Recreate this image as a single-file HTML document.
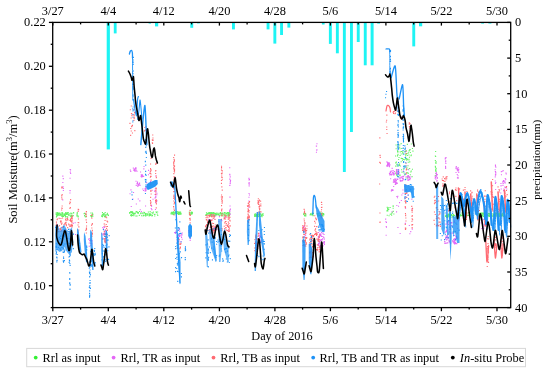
<!DOCTYPE html><html><head><meta charset="utf-8"><style>html,body{margin:0;padding:0;background:#fff;}svg{display:block;filter:blur(0.3px);}</style></head><body><svg width="550" height="370" viewBox="0 0 550 370">
<rect width="550" height="370" fill="#fff"/>
<rect x="106.7" y="22.4" width="3.2" height="127.0" fill="#1ef4f4"/>
<rect x="113.8" y="22.4" width="2.8" height="11.0" fill="#1ef4f4"/>
<rect x="148.6" y="22.4" width="2.4" height="1.2" fill="#1ef4f4"/>
<rect x="155.0" y="22.4" width="3.2" height="4.0" fill="#1ef4f4"/>
<rect x="190.3" y="22.4" width="2.9" height="5.4" fill="#1ef4f4"/>
<rect x="197.0" y="22.4" width="2.8" height="1.0" fill="#1ef4f4"/>
<rect x="232.0" y="22.4" width="2.9" height="7.0" fill="#1ef4f4"/>
<rect x="266.6" y="22.4" width="2.9" height="7.0" fill="#1ef4f4"/>
<rect x="273.4" y="22.4" width="2.9" height="21.2" fill="#1ef4f4"/>
<rect x="280.1" y="22.4" width="2.9" height="12.6" fill="#1ef4f4"/>
<rect x="287.4" y="22.4" width="2.9" height="5.2" fill="#1ef4f4"/>
<rect x="321.9" y="22.4" width="2.7" height="2.1" fill="#1ef4f4"/>
<rect x="328.9" y="22.4" width="2.9" height="21.5" fill="#1ef4f4"/>
<rect x="335.9" y="22.4" width="2.9" height="30.9" fill="#1ef4f4"/>
<rect x="342.9" y="22.4" width="2.9" height="149.6" fill="#1ef4f4"/>
<rect x="350.0" y="22.4" width="2.9" height="109.6" fill="#1ef4f4"/>
<rect x="356.8" y="22.4" width="2.9" height="19.6" fill="#1ef4f4"/>
<rect x="363.8" y="22.4" width="2.9" height="42.9" fill="#1ef4f4"/>
<rect x="370.6" y="22.4" width="3.0" height="42.9" fill="#1ef4f4"/>
<rect x="377.2" y="22.4" width="2.8" height="1.2" fill="#1ef4f4"/>
<rect x="412.3" y="22.4" width="2.9" height="24.0" fill="#1ef4f4"/>
<rect x="419.0" y="22.4" width="3.2" height="3.9" fill="#1ef4f4"/>
<rect x="481.2" y="22.4" width="2.8" height="1.2" fill="#1ef4f4"/>
<rect x="488.4" y="22.4" width="3.0" height="1.2" fill="#1ef4f4"/>
<path fill="#3cf03c" fill-opacity="0.8" d="M61.3 212.5h1.1v1.1h-1.1zM67.2 212.1h1.1v1.1h-1.1zM65.1 213.6h1.1v1.1h-1.1zM56.5 214.2h1.1v1.1h-1.1zM56.2 213.9h1.1v1.1h-1.1zM56.8 212.2h1.1v1.1h-1.1zM63.1 215.8h1.1v1.1h-1.1zM57.7 212.9h1.1v1.1h-1.1zM66.8 216.3h1.1v1.1h-1.1zM65.9 213.7h1.1v1.1h-1.1zM73.1 212.0h1.1v1.1h-1.1zM71.0 213.2h1.1v1.1h-1.1zM58.1 212.4h1.1v1.1h-1.1zM61.1 215.7h1.1v1.1h-1.1zM58.8 214.6h1.1v1.1h-1.1zM67.0 213.6h1.1v1.1h-1.1zM65.4 212.1h1.1v1.1h-1.1zM56.6 212.8h1.1v1.1h-1.1zM67.7 213.9h1.1v1.1h-1.1zM61.2 214.6h1.1v1.1h-1.1zM63.7 213.2h1.1v1.1h-1.1zM69.8 215.2h1.1v1.1h-1.1zM59.9 214.6h1.1v1.1h-1.1zM65.0 216.0h1.1v1.1h-1.1zM68.6 213.2h1.1v1.1h-1.1zM73.1 212.4h1.1v1.1h-1.1zM63.0 215.4h1.1v1.1h-1.1zM58.2 214.1h1.1v1.1h-1.1zM56.2 215.0h1.1v1.1h-1.1zM69.3 214.6h1.1v1.1h-1.1zM71.3 213.3h1.1v1.1h-1.1zM68.0 214.7h1.1v1.1h-1.1zM65.9 214.0h1.1v1.1h-1.1zM70.6 216.3h1.1v1.1h-1.1zM64.0 215.0h1.1v1.1h-1.1zM56.6 215.2h1.1v1.1h-1.1zM67.1 216.6h1.1v1.1h-1.1zM70.3 213.2h1.1v1.1h-1.1zM62.4 215.0h1.1v1.1h-1.1zM55.9 214.0h1.1v1.1h-1.1zM58.5 212.4h1.1v1.1h-1.1zM56.6 215.5h1.1v1.1h-1.1zM57.8 213.0h1.1v1.1h-1.1zM62.5 216.0h1.1v1.1h-1.1zM57.0 214.0h1.1v1.1h-1.1zM65.4 216.0h1.1v1.1h-1.1zM70.2 215.9h1.1v1.1h-1.1zM60.5 213.8h1.1v1.1h-1.1zM62.0 216.0h1.1v1.1h-1.1zM72.7 212.5h1.1v1.1h-1.1zM58.7 212.9h1.1v1.1h-1.1zM59.7 214.1h1.1v1.1h-1.1zM66.1 213.1h1.1v1.1h-1.1zM55.6 213.8h1.1v1.1h-1.1zM62.1 214.5h1.1v1.1h-1.1zM72.7 215.1h1.1v1.1h-1.1zM64.8 214.8h1.1v1.1h-1.1zM67.7 212.1h1.1v1.1h-1.1zM71.7 215.5h1.1v1.1h-1.1zM71.2 215.6h1.1v1.1h-1.1zM62.6 213.7h1.1v1.1h-1.1zM57.4 214.8h1.1v1.1h-1.1zM56.6 212.1h1.1v1.1h-1.1zM59.3 212.6h1.1v1.1h-1.1zM61.6 212.1h1.1v1.1h-1.1zM55.5 212.5h1.1v1.1h-1.1zM57.3 213.5h1.1v1.1h-1.1zM56.0 216.0h1.1v1.1h-1.1zM66.6 212.5h1.1v1.1h-1.1zM60.0 213.5h1.1v1.1h-1.1zM62.1 212.4h1.1v1.1h-1.1zM70.8 216.6h1.1v1.1h-1.1zM63.9 214.1h1.1v1.1h-1.1zM57.0 212.3h1.1v1.1h-1.1zM61.7 213.1h1.1v1.1h-1.1zM70.4 212.6h1.1v1.1h-1.1zM55.9 216.4h1.1v1.1h-1.1zM65.0 212.5h1.1v1.1h-1.1zM65.3 211.9h1.1v1.1h-1.1zM65.0 216.5h1.1v1.1h-1.1zM71.0 215.1h1.1v1.1h-1.1zM76.5 213.6h1.1v1.1h-1.1zM76.3 215.5h1.1v1.1h-1.1zM77.1 215.5h1.1v1.1h-1.1zM76.7 212.9h1.1v1.1h-1.1zM77.6 216.5h1.1v1.1h-1.1zM77.7 215.7h1.1v1.1h-1.1zM77.6 215.4h1.1v1.1h-1.1zM76.5 214.3h1.1v1.1h-1.1zM76.7 211.9h1.1v1.1h-1.1zM83.6 213.1h1.1v1.1h-1.1zM84.0 215.1h1.1v1.1h-1.1zM85.4 213.9h1.1v1.1h-1.1zM85.4 216.5h1.1v1.1h-1.1zM85.4 213.6h1.1v1.1h-1.1zM83.9 212.9h1.1v1.1h-1.1zM83.9 212.8h1.1v1.1h-1.1zM84.7 216.1h1.1v1.1h-1.1zM85.2 214.1h1.1v1.1h-1.1zM91.6 215.6h1.1v1.1h-1.1zM90.2 215.0h1.1v1.1h-1.1zM92.3 215.6h1.1v1.1h-1.1zM91.9 214.1h1.1v1.1h-1.1zM90.4 215.6h1.1v1.1h-1.1zM90.8 215.6h1.1v1.1h-1.1zM92.4 213.7h1.1v1.1h-1.1zM91.0 216.3h1.1v1.1h-1.1zM91.8 212.6h1.1v1.1h-1.1zM90.3 212.5h1.1v1.1h-1.1zM92.3 215.7h1.1v1.1h-1.1zM102.0 215.8h1.1v1.1h-1.1zM107.9 215.0h1.1v1.1h-1.1zM103.5 214.4h1.1v1.1h-1.1zM101.9 211.9h1.1v1.1h-1.1zM107.8 214.9h1.1v1.1h-1.1zM104.7 216.3h1.1v1.1h-1.1zM104.0 216.0h1.1v1.1h-1.1zM106.8 212.8h1.1v1.1h-1.1zM102.8 213.2h1.1v1.1h-1.1zM102.7 214.6h1.1v1.1h-1.1zM102.8 213.8h1.1v1.1h-1.1zM101.9 216.2h1.1v1.1h-1.1zM103.5 214.0h1.1v1.1h-1.1zM105.1 216.1h1.1v1.1h-1.1zM103.9 216.2h1.1v1.1h-1.1zM104.5 214.4h1.1v1.1h-1.1zM104.7 211.9h1.1v1.1h-1.1zM104.1 212.7h1.1v1.1h-1.1zM101.0 215.6h1.1v1.1h-1.1zM102.2 214.1h1.1v1.1h-1.1zM106.1 214.5h1.1v1.1h-1.1zM103.3 214.3h1.1v1.1h-1.1zM104.9 215.6h1.1v1.1h-1.1zM101.7 214.5h1.1v1.1h-1.1zM102.7 213.1h1.1v1.1h-1.1zM106.4 214.2h1.1v1.1h-1.1zM104.9 215.4h1.1v1.1h-1.1zM107.4 213.9h1.1v1.1h-1.1zM105.3 214.2h1.1v1.1h-1.1zM104.6 215.1h1.1v1.1h-1.1zM104.2 214.4h1.1v1.1h-1.1zM142.6 215.3h1.1v1.1h-1.1zM148.9 215.0h1.1v1.1h-1.1zM155.9 212.0h1.1v1.1h-1.1zM144.9 215.3h1.1v1.1h-1.1zM152.9 211.5h1.1v1.1h-1.1zM132.5 212.9h1.1v1.1h-1.1zM131.1 212.0h1.1v1.1h-1.1zM131.1 214.0h1.1v1.1h-1.1zM151.3 215.1h1.1v1.1h-1.1zM133.4 214.2h1.1v1.1h-1.1zM147.8 211.5h1.1v1.1h-1.1zM154.2 215.4h1.1v1.1h-1.1zM135.3 215.4h1.1v1.1h-1.1zM140.4 213.1h1.1v1.1h-1.1zM157.2 214.8h1.1v1.1h-1.1zM133.6 212.9h1.1v1.1h-1.1zM143.7 212.4h1.1v1.1h-1.1zM134.6 212.3h1.1v1.1h-1.1zM149.6 210.9h1.1v1.1h-1.1zM144.8 212.9h1.1v1.1h-1.1zM129.5 212.4h1.1v1.1h-1.1zM146.8 213.3h1.1v1.1h-1.1zM130.8 215.5h1.1v1.1h-1.1zM151.5 215.5h1.1v1.1h-1.1zM132.0 212.1h1.1v1.1h-1.1zM130.1 214.5h1.1v1.1h-1.1zM136.7 211.4h1.1v1.1h-1.1zM141.0 215.2h1.1v1.1h-1.1zM152.3 212.0h1.1v1.1h-1.1zM133.3 215.2h1.1v1.1h-1.1zM145.3 214.2h1.1v1.1h-1.1zM131.5 211.1h1.1v1.1h-1.1zM148.6 212.8h1.1v1.1h-1.1zM131.1 215.3h1.1v1.1h-1.1zM147.1 214.6h1.1v1.1h-1.1zM131.4 214.9h1.1v1.1h-1.1zM130.9 214.9h1.1v1.1h-1.1zM141.9 212.4h1.1v1.1h-1.1zM144.8 215.2h1.1v1.1h-1.1zM136.6 211.4h1.1v1.1h-1.1zM144.0 211.9h1.1v1.1h-1.1zM132.1 211.6h1.1v1.1h-1.1zM130.4 211.8h1.1v1.1h-1.1zM137.9 212.3h1.1v1.1h-1.1zM150.6 212.2h1.1v1.1h-1.1zM143.3 211.7h1.1v1.1h-1.1zM138.9 210.9h1.1v1.1h-1.1zM136.1 210.9h1.1v1.1h-1.1zM149.9 213.4h1.1v1.1h-1.1zM134.4 213.1h1.1v1.1h-1.1zM155.6 211.3h1.1v1.1h-1.1zM152.3 212.9h1.1v1.1h-1.1zM143.1 214.8h1.1v1.1h-1.1zM140.2 213.2h1.1v1.1h-1.1zM148.6 215.5h1.1v1.1h-1.1zM138.8 214.8h1.1v1.1h-1.1zM149.1 213.9h1.1v1.1h-1.1zM140.5 212.5h1.1v1.1h-1.1zM130.6 211.4h1.1v1.1h-1.1zM131.0 214.4h1.1v1.1h-1.1zM136.3 211.6h1.1v1.1h-1.1zM131.4 214.8h1.1v1.1h-1.1zM153.8 214.0h1.1v1.1h-1.1zM137.0 212.0h1.1v1.1h-1.1zM137.4 213.0h1.1v1.1h-1.1zM133.5 212.9h1.1v1.1h-1.1zM136.5 215.4h1.1v1.1h-1.1zM156.7 213.4h1.1v1.1h-1.1zM136.0 215.4h1.1v1.1h-1.1zM137.8 212.5h1.1v1.1h-1.1zM129.0 212.6h1.1v1.1h-1.1zM142.5 213.2h1.1v1.1h-1.1zM134.7 213.2h1.1v1.1h-1.1zM129.1 212.1h1.1v1.1h-1.1zM131.6 212.7h1.1v1.1h-1.1zM130.2 210.9h1.1v1.1h-1.1zM137.7 211.9h1.1v1.1h-1.1zM145.7 213.3h1.1v1.1h-1.1zM150.4 214.0h1.1v1.1h-1.1zM149.4 215.0h1.1v1.1h-1.1zM140.1 212.4h1.1v1.1h-1.1zM157.1 211.5h1.1v1.1h-1.1zM149.6 213.9h1.1v1.1h-1.1zM130.2 214.8h1.1v1.1h-1.1zM154.4 213.8h1.1v1.1h-1.1zM149.9 214.7h1.1v1.1h-1.1zM133.0 213.3h1.1v1.1h-1.1zM143.4 214.8h1.1v1.1h-1.1zM151.9 214.8h1.1v1.1h-1.1zM145.6 215.1h1.1v1.1h-1.1zM148.5 214.1h1.1v1.1h-1.1zM135.6 210.9h1.1v1.1h-1.1zM132.8 212.5h1.1v1.1h-1.1zM132.0 214.8h1.1v1.1h-1.1zM144.9 213.8h1.1v1.1h-1.1zM176.8 213.0h1.1v1.1h-1.1zM175.4 211.0h1.1v1.1h-1.1zM178.5 213.2h1.1v1.1h-1.1zM175.5 212.6h1.1v1.1h-1.1zM177.1 211.2h1.1v1.1h-1.1zM177.9 211.8h1.1v1.1h-1.1zM171.2 211.8h1.1v1.1h-1.1zM177.8 211.6h1.1v1.1h-1.1zM177.9 213.9h1.1v1.1h-1.1zM175.4 212.1h1.1v1.1h-1.1zM175.3 213.1h1.1v1.1h-1.1zM178.2 212.9h1.1v1.1h-1.1zM176.9 211.2h1.1v1.1h-1.1zM172.0 211.8h1.1v1.1h-1.1zM177.9 211.9h1.1v1.1h-1.1zM176.2 211.0h1.1v1.1h-1.1zM171.1 211.8h1.1v1.1h-1.1zM177.2 213.1h1.1v1.1h-1.1zM177.3 211.9h1.1v1.1h-1.1zM175.7 212.4h1.1v1.1h-1.1zM175.2 211.4h1.1v1.1h-1.1zM179.4 211.6h1.1v1.1h-1.1zM180.3 213.8h1.1v1.1h-1.1zM170.7 212.4h1.1v1.1h-1.1zM178.7 213.9h1.1v1.1h-1.1zM175.0 211.8h1.1v1.1h-1.1zM172.6 213.8h1.1v1.1h-1.1zM172.6 212.7h1.1v1.1h-1.1zM171.9 212.6h1.1v1.1h-1.1zM180.0 211.4h1.1v1.1h-1.1zM178.7 212.5h1.1v1.1h-1.1zM179.4 213.1h1.1v1.1h-1.1zM172.8 213.7h1.1v1.1h-1.1zM175.4 211.1h1.1v1.1h-1.1zM170.5 212.5h1.1v1.1h-1.1zM175.0 211.9h1.1v1.1h-1.1zM171.9 212.0h1.1v1.1h-1.1zM173.7 213.5h1.1v1.1h-1.1zM170.5 213.3h1.1v1.1h-1.1zM178.9 211.4h1.1v1.1h-1.1zM179.8 213.1h1.1v1.1h-1.1zM179.5 211.9h1.1v1.1h-1.1zM174.2 212.2h1.1v1.1h-1.1zM180.5 212.8h1.1v1.1h-1.1zM174.1 212.3h1.1v1.1h-1.1zM173.3 211.1h1.1v1.1h-1.1zM171.5 213.5h1.1v1.1h-1.1zM173.4 213.8h1.1v1.1h-1.1zM173.0 211.8h1.1v1.1h-1.1zM175.6 211.6h1.1v1.1h-1.1zM189.2 213.9h1.1v1.1h-1.1zM191.5 213.5h1.1v1.1h-1.1zM190.3 213.8h1.1v1.1h-1.1zM191.7 212.9h1.1v1.1h-1.1zM190.7 211.6h1.1v1.1h-1.1zM190.8 212.6h1.1v1.1h-1.1zM190.9 213.1h1.1v1.1h-1.1zM188.8 211.6h1.1v1.1h-1.1zM191.7 211.8h1.1v1.1h-1.1zM189.6 212.4h1.1v1.1h-1.1zM188.8 213.3h1.1v1.1h-1.1zM191.9 212.2h1.1v1.1h-1.1zM221.4 213.1h1.1v1.1h-1.1zM218.9 213.4h1.1v1.1h-1.1zM209.2 212.6h1.1v1.1h-1.1zM210.2 215.2h1.1v1.1h-1.1zM217.4 212.8h1.1v1.1h-1.1zM227.7 215.5h1.1v1.1h-1.1zM216.2 212.5h1.1v1.1h-1.1zM209.8 212.3h1.1v1.1h-1.1zM213.5 212.3h1.1v1.1h-1.1zM211.0 212.9h1.1v1.1h-1.1zM219.2 215.1h1.1v1.1h-1.1zM223.7 213.4h1.1v1.1h-1.1zM215.3 213.8h1.1v1.1h-1.1zM214.4 213.2h1.1v1.1h-1.1zM206.6 213.0h1.1v1.1h-1.1zM229.2 212.4h1.1v1.1h-1.1zM217.6 214.2h1.1v1.1h-1.1zM226.6 212.8h1.1v1.1h-1.1zM211.8 212.9h1.1v1.1h-1.1zM215.0 213.6h1.1v1.1h-1.1zM228.8 215.0h1.1v1.1h-1.1zM226.8 212.1h1.1v1.1h-1.1zM205.8 214.5h1.1v1.1h-1.1zM227.4 213.7h1.1v1.1h-1.1zM219.7 212.0h1.1v1.1h-1.1zM214.8 215.2h1.1v1.1h-1.1zM225.6 215.0h1.1v1.1h-1.1zM229.3 212.9h1.1v1.1h-1.1zM207.7 212.5h1.1v1.1h-1.1zM218.1 214.4h1.1v1.1h-1.1zM228.5 214.5h1.1v1.1h-1.1zM221.2 214.7h1.1v1.1h-1.1zM216.4 213.9h1.1v1.1h-1.1zM206.0 214.7h1.1v1.1h-1.1zM210.8 215.2h1.1v1.1h-1.1zM221.1 213.1h1.1v1.1h-1.1zM208.2 212.9h1.1v1.1h-1.1zM220.9 214.4h1.1v1.1h-1.1zM207.8 212.2h1.1v1.1h-1.1zM218.1 214.0h1.1v1.1h-1.1zM214.7 212.8h1.1v1.1h-1.1zM220.0 212.0h1.1v1.1h-1.1zM212.5 213.6h1.1v1.1h-1.1zM229.0 214.3h1.1v1.1h-1.1zM227.1 213.7h1.1v1.1h-1.1zM210.9 212.9h1.1v1.1h-1.1zM229.0 214.5h1.1v1.1h-1.1zM212.7 212.1h1.1v1.1h-1.1zM217.5 214.4h1.1v1.1h-1.1zM215.5 212.9h1.1v1.1h-1.1zM221.7 215.2h1.1v1.1h-1.1zM210.7 212.1h1.1v1.1h-1.1zM213.5 213.5h1.1v1.1h-1.1zM222.1 212.7h1.1v1.1h-1.1zM224.9 214.6h1.1v1.1h-1.1zM217.6 212.7h1.1v1.1h-1.1zM229.2 213.1h1.1v1.1h-1.1zM225.5 212.8h1.1v1.1h-1.1zM210.5 214.7h1.1v1.1h-1.1zM212.4 215.3h1.1v1.1h-1.1zM217.4 212.7h1.1v1.1h-1.1zM210.6 213.5h1.1v1.1h-1.1zM221.6 215.3h1.1v1.1h-1.1zM208.7 213.4h1.1v1.1h-1.1zM210.3 215.4h1.1v1.1h-1.1zM208.5 212.2h1.1v1.1h-1.1zM206.5 213.4h1.1v1.1h-1.1zM227.5 215.1h1.1v1.1h-1.1zM223.3 215.5h1.1v1.1h-1.1zM228.3 213.2h1.1v1.1h-1.1zM209.6 215.3h1.1v1.1h-1.1zM223.7 212.1h1.1v1.1h-1.1zM221.6 213.3h1.1v1.1h-1.1zM214.3 213.2h1.1v1.1h-1.1zM209.2 212.0h1.1v1.1h-1.1zM212.0 213.2h1.1v1.1h-1.1zM228.9 212.4h1.1v1.1h-1.1zM229.1 212.7h1.1v1.1h-1.1zM213.9 214.9h1.1v1.1h-1.1zM225.6 213.5h1.1v1.1h-1.1zM206.2 213.7h1.1v1.1h-1.1zM214.3 215.2h1.1v1.1h-1.1zM209.8 213.3h1.1v1.1h-1.1zM227.4 212.1h1.1v1.1h-1.1zM215.3 214.8h1.1v1.1h-1.1zM224.2 212.1h1.1v1.1h-1.1zM205.9 212.2h1.1v1.1h-1.1zM228.0 212.9h1.1v1.1h-1.1zM223.7 215.1h1.1v1.1h-1.1zM213.5 213.0h1.1v1.1h-1.1zM228.9 214.2h1.1v1.1h-1.1zM211.6 214.5h1.1v1.1h-1.1zM212.9 213.0h1.1v1.1h-1.1zM205.1 214.6h1.1v1.1h-1.1zM227.9 214.2h1.1v1.1h-1.1zM228.6 212.1h1.1v1.1h-1.1zM210.8 213.7h1.1v1.1h-1.1zM228.9 215.3h1.1v1.1h-1.1zM214.7 212.9h1.1v1.1h-1.1zM215.7 213.7h1.1v1.1h-1.1zM228.2 212.6h1.1v1.1h-1.1zM225.1 214.6h1.1v1.1h-1.1zM225.6 214.7h1.1v1.1h-1.1zM220.2 213.1h1.1v1.1h-1.1zM213.0 213.3h1.1v1.1h-1.1zM224.6 212.3h1.1v1.1h-1.1zM209.9 214.6h1.1v1.1h-1.1zM211.2 212.2h1.1v1.1h-1.1zM205.8 213.9h1.1v1.1h-1.1zM213.1 215.4h1.1v1.1h-1.1zM227.1 215.5h1.1v1.1h-1.1zM211.6 212.3h1.1v1.1h-1.1zM207.4 213.7h1.1v1.1h-1.1zM222.7 213.6h1.1v1.1h-1.1zM210.9 213.5h1.1v1.1h-1.1zM220.5 214.4h1.1v1.1h-1.1zM223.7 215.0h1.1v1.1h-1.1zM221.6 212.4h1.1v1.1h-1.1zM226.0 213.0h1.1v1.1h-1.1zM219.2 213.3h1.1v1.1h-1.1zM260.4 213.6h1.1v1.1h-1.1zM256.2 213.8h1.1v1.1h-1.1zM255.3 215.8h1.1v1.1h-1.1zM259.0 214.0h1.1v1.1h-1.1zM257.4 216.2h1.1v1.1h-1.1zM258.4 213.7h1.1v1.1h-1.1zM261.0 215.1h1.1v1.1h-1.1zM262.6 213.3h1.1v1.1h-1.1zM258.1 215.6h1.1v1.1h-1.1zM261.3 215.9h1.1v1.1h-1.1zM254.4 213.9h1.1v1.1h-1.1zM255.0 213.6h1.1v1.1h-1.1zM262.5 214.9h1.1v1.1h-1.1zM262.1 214.2h1.1v1.1h-1.1zM261.5 214.4h1.1v1.1h-1.1zM256.3 215.5h1.1v1.1h-1.1zM262.2 213.3h1.1v1.1h-1.1zM259.2 215.0h1.1v1.1h-1.1zM255.9 214.2h1.1v1.1h-1.1zM255.2 213.7h1.1v1.1h-1.1zM256.2 214.9h1.1v1.1h-1.1zM259.7 213.7h1.1v1.1h-1.1zM254.1 214.0h1.1v1.1h-1.1zM259.9 213.6h1.1v1.1h-1.1zM256.7 213.7h1.1v1.1h-1.1zM260.9 214.8h1.1v1.1h-1.1zM254.6 213.3h1.1v1.1h-1.1zM257.4 214.8h1.1v1.1h-1.1zM259.6 213.3h1.1v1.1h-1.1zM255.4 215.2h1.1v1.1h-1.1zM257.6 213.9h1.1v1.1h-1.1zM256.7 216.1h1.1v1.1h-1.1zM256.7 214.8h1.1v1.1h-1.1zM257.1 214.3h1.1v1.1h-1.1zM261.5 216.2h1.1v1.1h-1.1zM257.2 213.6h1.1v1.1h-1.1zM260.3 213.7h1.1v1.1h-1.1zM254.1 215.9h1.1v1.1h-1.1zM257.7 215.6h1.1v1.1h-1.1zM257.5 215.8h1.1v1.1h-1.1zM258.0 213.5h1.1v1.1h-1.1zM254.1 214.8h1.1v1.1h-1.1zM259.6 215.9h1.1v1.1h-1.1zM254.8 215.0h1.1v1.1h-1.1zM257.2 214.6h1.1v1.1h-1.1zM303.2 213.3h1.1v1.1h-1.1zM304.2 215.3h1.1v1.1h-1.1zM303.1 214.0h1.1v1.1h-1.1zM305.0 215.4h1.1v1.1h-1.1zM303.3 212.9h1.1v1.1h-1.1zM305.3 215.4h1.1v1.1h-1.1zM304.1 212.7h1.1v1.1h-1.1zM305.3 213.7h1.1v1.1h-1.1zM305.2 214.4h1.1v1.1h-1.1zM305.0 213.0h1.1v1.1h-1.1zM304.9 213.2h1.1v1.1h-1.1zM303.9 215.0h1.1v1.1h-1.1zM305.0 213.0h1.1v1.1h-1.1zM303.4 213.7h1.1v1.1h-1.1zM311.6 213.7h1.1v1.1h-1.1zM310.0 213.2h1.1v1.1h-1.1zM312.5 215.2h1.1v1.1h-1.1zM309.7 214.2h1.1v1.1h-1.1zM312.6 212.6h1.1v1.1h-1.1zM312.9 212.9h1.1v1.1h-1.1zM312.0 214.2h1.1v1.1h-1.1zM312.1 213.4h1.1v1.1h-1.1zM311.2 214.2h1.1v1.1h-1.1zM311.2 214.5h1.1v1.1h-1.1zM311.3 213.8h1.1v1.1h-1.1zM309.6 214.4h1.1v1.1h-1.1zM311.5 213.2h1.1v1.1h-1.1zM312.6 214.8h1.1v1.1h-1.1zM311.4 213.0h1.1v1.1h-1.1zM311.4 212.8h1.1v1.1h-1.1zM310.0 213.8h1.1v1.1h-1.1zM309.9 213.8h1.1v1.1h-1.1zM320.0 212.6h1.1v1.1h-1.1zM320.9 212.7h1.1v1.1h-1.1zM321.6 214.8h1.1v1.1h-1.1zM320.0 212.7h1.1v1.1h-1.1zM319.9 213.6h1.1v1.1h-1.1zM323.1 212.9h1.1v1.1h-1.1zM322.5 215.5h1.1v1.1h-1.1zM321.6 214.9h1.1v1.1h-1.1zM317.7 215.4h1.1v1.1h-1.1zM319.8 215.4h1.1v1.1h-1.1zM322.9 213.0h1.1v1.1h-1.1zM322.0 215.3h1.1v1.1h-1.1zM316.8 213.6h1.1v1.1h-1.1zM321.7 213.0h1.1v1.1h-1.1zM322.8 213.3h1.1v1.1h-1.1zM322.2 212.9h1.1v1.1h-1.1zM319.9 215.3h1.1v1.1h-1.1zM317.8 213.3h1.1v1.1h-1.1zM319.9 213.5h1.1v1.1h-1.1zM316.6 213.0h1.1v1.1h-1.1zM317.5 215.3h1.1v1.1h-1.1zM321.2 215.2h1.1v1.1h-1.1zM317.5 214.9h1.1v1.1h-1.1zM317.1 214.1h1.1v1.1h-1.1zM320.9 213.6h1.1v1.1h-1.1zM322.6 214.2h1.1v1.1h-1.1zM320.5 215.1h1.1v1.1h-1.1zM317.1 215.5h1.1v1.1h-1.1zM320.8 213.7h1.1v1.1h-1.1zM322.0 213.3h1.1v1.1h-1.1zM323.4 214.2h1.1v1.1h-1.1zM318.9 214.8h1.1v1.1h-1.1zM319.5 213.0h1.1v1.1h-1.1zM321.7 212.6h1.1v1.1h-1.1zM409.8 151.9h1.1v1.1h-1.1zM406.5 177.4h1.1v1.1h-1.1zM405.5 166.2h1.1v1.1h-1.1zM400.6 143.1h1.1v1.1h-1.1zM395.6 148.2h1.1v1.1h-1.1zM406.1 158.1h1.1v1.1h-1.1zM404.2 174.3h1.1v1.1h-1.1zM397.4 151.0h1.1v1.1h-1.1zM406.8 143.8h1.1v1.1h-1.1zM395.0 155.4h1.1v1.1h-1.1zM396.9 155.5h1.1v1.1h-1.1zM399.0 163.4h1.1v1.1h-1.1zM405.6 150.1h1.1v1.1h-1.1zM406.2 159.6h1.1v1.1h-1.1zM397.4 175.8h1.1v1.1h-1.1zM399.4 148.2h1.1v1.1h-1.1zM396.7 165.3h1.1v1.1h-1.1zM410.7 170.4h1.1v1.1h-1.1zM402.2 152.2h1.1v1.1h-1.1zM395.2 165.6h1.1v1.1h-1.1zM405.1 155.3h1.1v1.1h-1.1zM406.6 158.5h1.1v1.1h-1.1zM411.9 168.7h1.1v1.1h-1.1zM399.5 174.6h1.1v1.1h-1.1zM395.8 161.6h1.1v1.1h-1.1zM402.3 151.3h1.1v1.1h-1.1zM396.1 170.3h1.1v1.1h-1.1zM395.2 162.3h1.1v1.1h-1.1zM411.9 148.0h1.1v1.1h-1.1zM398.6 164.3h1.1v1.1h-1.1zM404.1 165.5h1.1v1.1h-1.1zM409.6 149.1h1.1v1.1h-1.1zM400.6 153.5h1.1v1.1h-1.1zM395.9 174.1h1.1v1.1h-1.1zM409.1 168.0h1.1v1.1h-1.1zM395.1 172.6h1.1v1.1h-1.1zM408.4 159.3h1.1v1.1h-1.1zM408.4 158.8h1.1v1.1h-1.1zM399.1 146.7h1.1v1.1h-1.1zM399.2 144.4h1.1v1.1h-1.1zM401.0 169.2h1.1v1.1h-1.1zM407.5 172.6h1.1v1.1h-1.1zM407.8 152.3h1.1v1.1h-1.1zM405.0 158.3h1.1v1.1h-1.1zM409.2 161.3h1.1v1.1h-1.1zM399.8 165.5h1.1v1.1h-1.1zM412.4 150.6h1.1v1.1h-1.1zM410.8 143.5h1.1v1.1h-1.1zM399.7 151.3h1.1v1.1h-1.1zM408.4 176.1h1.1v1.1h-1.1zM408.4 154.4h1.1v1.1h-1.1zM410.8 154.5h1.1v1.1h-1.1zM399.3 174.8h1.1v1.1h-1.1zM406.4 167.2h1.1v1.1h-1.1zM407.0 177.3h1.1v1.1h-1.1zM403.5 172.4h1.1v1.1h-1.1zM407.6 173.0h1.1v1.1h-1.1zM402.9 168.4h1.1v1.1h-1.1zM405.3 153.8h1.1v1.1h-1.1zM398.8 164.8h1.1v1.1h-1.1zM396.4 174.9h1.1v1.1h-1.1zM397.6 143.9h1.1v1.1h-1.1zM396.9 175.5h1.1v1.1h-1.1zM401.2 148.0h1.1v1.1h-1.1zM395.5 144.5h1.1v1.1h-1.1zM407.5 165.2h1.1v1.1h-1.1zM407.5 168.8h1.1v1.1h-1.1zM396.2 163.7h1.1v1.1h-1.1zM401.5 171.6h1.1v1.1h-1.1zM409.8 174.2h1.1v1.1h-1.1zM396.2 173.4h1.1v1.1h-1.1zM411.5 176.1h1.1v1.1h-1.1zM396.9 150.2h1.1v1.1h-1.1zM397.0 144.2h1.1v1.1h-1.1zM410.3 171.4h1.1v1.1h-1.1zM406.4 171.9h1.1v1.1h-1.1zM406.4 153.1h1.1v1.1h-1.1zM396.8 146.4h1.1v1.1h-1.1zM408.6 150.2h1.1v1.1h-1.1zM400.7 157.8h1.1v1.1h-1.1zM397.3 151.6h1.1v1.1h-1.1zM401.0 158.0h1.1v1.1h-1.1zM402.2 152.5h1.1v1.1h-1.1zM410.5 155.1h1.1v1.1h-1.1zM408.9 156.7h1.1v1.1h-1.1zM397.4 153.8h1.1v1.1h-1.1zM403.1 158.8h1.1v1.1h-1.1zM401.9 157.9h1.1v1.1h-1.1zM404.5 151.0h1.1v1.1h-1.1zM409.1 149.3h1.1v1.1h-1.1zM408.5 150.4h1.1v1.1h-1.1zM397.0 150.8h1.1v1.1h-1.1zM407.7 161.7h1.1v1.1h-1.1zM397.1 154.9h1.1v1.1h-1.1zM403.9 159.2h1.1v1.1h-1.1zM399.6 154.9h1.1v1.1h-1.1zM401.9 159.6h1.1v1.1h-1.1zM400.6 161.2h1.1v1.1h-1.1zM401.0 151.0h1.1v1.1h-1.1zM406.8 155.0h1.1v1.1h-1.1zM398.5 156.9h1.1v1.1h-1.1zM398.1 159.0h1.1v1.1h-1.1zM406.8 159.0h1.1v1.1h-1.1zM405.8 153.0h1.1v1.1h-1.1zM402.6 153.5h1.1v1.1h-1.1zM392.6 206.0h1.1v1.1h-1.1zM392.6 205.3h1.1v1.1h-1.1zM387.1 208.0h1.1v1.1h-1.1zM392.7 210.8h1.1v1.1h-1.1zM388.5 215.2h1.1v1.1h-1.1zM387.3 210.3h1.1v1.1h-1.1zM389.7 213.7h1.1v1.1h-1.1zM391.5 212.4h1.1v1.1h-1.1zM388.2 208.8h1.1v1.1h-1.1zM386.7 214.7h1.1v1.1h-1.1zM390.8 213.5h1.1v1.1h-1.1zM386.8 210.0h1.1v1.1h-1.1zM391.7 211.7h1.1v1.1h-1.1zM386.4 210.3h1.1v1.1h-1.1zM392.6 207.7h1.1v1.1h-1.1zM387.0 208.5h1.1v1.1h-1.1zM391.1 214.7h1.1v1.1h-1.1zM386.7 206.8h1.1v1.1h-1.1zM387.4 208.8h1.1v1.1h-1.1zM389.6 206.9h1.1v1.1h-1.1zM388.1 207.2h1.1v1.1h-1.1zM393.3 213.4h1.1v1.1h-1.1zM434.8 175.0h1.1v1.1h-1.1zM434.8 160.0h1.1v1.1h-1.1zM435.7 170.7h1.1v1.1h-1.1zM435.4 161.3h1.1v1.1h-1.1zM434.9 166.6h1.1v1.1h-1.1zM434.8 155.4h1.1v1.1h-1.1zM435.1 150.9h1.1v1.1h-1.1zM435.1 170.6h1.1v1.1h-1.1zM435.4 163.0h1.1v1.1h-1.1zM435.3 162.0h1.1v1.1h-1.1zM434.8 165.7h1.1v1.1h-1.1zM435.1 169.3h1.1v1.1h-1.1zM435.6 161.2h1.1v1.1h-1.1zM435.3 169.5h1.1v1.1h-1.1zM435.1 155.9h1.1v1.1h-1.1zM435.4 172.9h1.1v1.1h-1.1zM435.5 168.2h1.1v1.1h-1.1zM435.6 167.7h1.1v1.1h-1.1zM451.1 214.8h1.1v1.1h-1.1zM448.0 215.5h1.1v1.1h-1.1zM445.9 214.7h1.1v1.1h-1.1zM452.4 215.9h1.1v1.1h-1.1zM451.0 214.0h1.1v1.1h-1.1zM449.0 214.8h1.1v1.1h-1.1zM450.9 214.6h1.1v1.1h-1.1zM451.4 216.7h1.1v1.1h-1.1zM446.7 215.6h1.1v1.1h-1.1zM452.4 214.6h1.1v1.1h-1.1zM449.7 216.9h1.1v1.1h-1.1zM445.4 215.2h1.1v1.1h-1.1zM446.5 216.1h1.1v1.1h-1.1zM453.9 215.1h1.1v1.1h-1.1zM446.0 215.3h1.1v1.1h-1.1zM450.1 215.9h1.1v1.1h-1.1zM449.9 215.6h1.1v1.1h-1.1zM452.9 215.1h1.1v1.1h-1.1zM448.9 216.8h1.1v1.1h-1.1zM447.0 215.7h1.1v1.1h-1.1zM448.7 216.1h1.1v1.1h-1.1zM446.2 216.9h1.1v1.1h-1.1zM448.4 213.2h1.1v1.1h-1.1zM447.6 214.6h1.1v1.1h-1.1zM445.1 214.7h1.1v1.1h-1.1zM449.0 215.8h1.1v1.1h-1.1zM448.3 214.1h1.1v1.1h-1.1zM447.1 216.0h1.1v1.1h-1.1zM453.9 215.1h1.1v1.1h-1.1zM447.1 216.2h1.1v1.1h-1.1zM448.7 213.8h1.1v1.1h-1.1zM446.2 216.1h1.1v1.1h-1.1zM452.7 215.5h1.1v1.1h-1.1zM449.5 215.2h1.1v1.1h-1.1zM447.1 216.9h1.1v1.1h-1.1zM448.4 215.6h1.1v1.1h-1.1zM452.8 216.3h1.1v1.1h-1.1zM449.4 214.2h1.1v1.1h-1.1zM450.2 213.5h1.1v1.1h-1.1zM452.9 214.4h1.1v1.1h-1.1zM453.1 214.1h1.1v1.1h-1.1zM448.6 214.0h1.1v1.1h-1.1zM449.0 213.7h1.1v1.1h-1.1zM445.0 215.9h1.1v1.1h-1.1zM447.7 214.0h1.1v1.1h-1.1zM462.6 213.7h1.1v1.1h-1.1zM463.7 214.2h1.1v1.1h-1.1zM465.9 213.3h1.1v1.1h-1.1zM468.3 215.0h1.1v1.1h-1.1zM460.3 214.9h1.1v1.1h-1.1zM468.1 214.7h1.1v1.1h-1.1zM461.1 214.9h1.1v1.1h-1.1zM465.6 212.1h1.1v1.1h-1.1zM459.9 215.3h1.1v1.1h-1.1zM465.8 212.9h1.1v1.1h-1.1zM460.7 212.5h1.1v1.1h-1.1zM461.9 214.7h1.1v1.1h-1.1zM463.0 212.5h1.1v1.1h-1.1zM468.1 214.8h1.1v1.1h-1.1zM461.3 215.1h1.1v1.1h-1.1zM465.4 214.7h1.1v1.1h-1.1zM465.9 215.1h1.1v1.1h-1.1zM467.1 214.9h1.1v1.1h-1.1zM461.6 214.4h1.1v1.1h-1.1zM464.7 214.6h1.1v1.1h-1.1zM463.8 215.1h1.1v1.1h-1.1zM464.9 212.9h1.1v1.1h-1.1zM462.0 212.5h1.1v1.1h-1.1zM464.3 212.2h1.1v1.1h-1.1zM464.1 212.5h1.1v1.1h-1.1zM464.3 213.7h1.1v1.1h-1.1zM464.8 215.0h1.1v1.1h-1.1zM459.9 214.9h1.1v1.1h-1.1zM464.1 214.0h1.1v1.1h-1.1zM465.9 214.9h1.1v1.1h-1.1zM463.2 213.5h1.1v1.1h-1.1zM468.6 212.3h1.1v1.1h-1.1zM465.7 214.2h1.1v1.1h-1.1zM460.1 214.1h1.1v1.1h-1.1zM466.1 215.3h1.1v1.1h-1.1zM462.8 215.4h1.1v1.1h-1.1zM464.5 213.7h1.1v1.1h-1.1zM468.1 212.1h1.1v1.1h-1.1zM466.4 214.2h1.1v1.1h-1.1zM462.9 215.0h1.1v1.1h-1.1zM486.5 214.2h1.1v1.1h-1.1zM490.9 215.2h1.1v1.1h-1.1zM482.2 214.0h1.1v1.1h-1.1zM488.1 214.4h1.1v1.1h-1.1zM499.2 213.5h1.1v1.1h-1.1zM499.2 213.9h1.1v1.1h-1.1zM490.3 213.5h1.1v1.1h-1.1zM490.4 215.9h1.1v1.1h-1.1zM494.5 215.3h1.1v1.1h-1.1zM485.5 213.6h1.1v1.1h-1.1zM484.7 214.6h1.1v1.1h-1.1zM493.9 215.2h1.1v1.1h-1.1zM477.5 215.0h1.1v1.1h-1.1zM500.8 214.4h1.1v1.1h-1.1zM477.8 213.6h1.1v1.1h-1.1zM476.6 213.2h1.1v1.1h-1.1zM501.8 214.6h1.1v1.1h-1.1zM494.6 215.3h1.1v1.1h-1.1zM501.5 214.6h1.1v1.1h-1.1zM493.4 214.7h1.1v1.1h-1.1zM495.6 214.6h1.1v1.1h-1.1zM495.2 213.2h1.1v1.1h-1.1zM494.8 214.1h1.1v1.1h-1.1zM497.4 212.9h1.1v1.1h-1.1zM481.4 212.6h1.1v1.1h-1.1zM497.8 215.7h1.1v1.1h-1.1zM494.5 213.8h1.1v1.1h-1.1zM499.1 215.3h1.1v1.1h-1.1zM491.9 213.4h1.1v1.1h-1.1zM484.7 214.0h1.1v1.1h-1.1zM485.2 214.0h1.1v1.1h-1.1zM494.1 215.8h1.1v1.1h-1.1zM477.9 214.5h1.1v1.1h-1.1zM477.5 212.9h1.1v1.1h-1.1zM498.8 214.5h1.1v1.1h-1.1zM501.8 214.1h1.1v1.1h-1.1zM476.8 213.9h1.1v1.1h-1.1zM492.7 215.8h1.1v1.1h-1.1zM503.5 214.2h1.1v1.1h-1.1zM487.8 212.9h1.1v1.1h-1.1zM494.2 213.2h1.1v1.1h-1.1zM480.6 212.6h1.1v1.1h-1.1zM476.5 214.9h1.1v1.1h-1.1zM479.8 215.9h1.1v1.1h-1.1zM478.8 215.5h1.1v1.1h-1.1zM480.0 212.6h1.1v1.1h-1.1zM496.3 213.3h1.1v1.1h-1.1zM496.6 213.2h1.1v1.1h-1.1zM477.8 215.2h1.1v1.1h-1.1zM496.1 215.5h1.1v1.1h-1.1zM496.5 212.8h1.1v1.1h-1.1zM493.7 215.0h1.1v1.1h-1.1zM489.1 215.8h1.1v1.1h-1.1zM483.4 215.9h1.1v1.1h-1.1zM496.2 212.5h1.1v1.1h-1.1zM476.8 214.8h1.1v1.1h-1.1zM499.0 212.8h1.1v1.1h-1.1zM485.0 215.1h1.1v1.1h-1.1zM481.0 215.5h1.1v1.1h-1.1zM489.8 212.7h1.1v1.1h-1.1zM486.5 214.5h1.1v1.1h-1.1zM488.5 214.9h1.1v1.1h-1.1zM480.4 215.3h1.1v1.1h-1.1zM486.4 214.8h1.1v1.1h-1.1zM493.8 214.0h1.1v1.1h-1.1zM487.0 215.3h1.1v1.1h-1.1zM502.5 215.2h1.1v1.1h-1.1zM492.0 213.5h1.1v1.1h-1.1zM478.1 215.9h1.1v1.1h-1.1zM495.8 215.4h1.1v1.1h-1.1zM485.6 214.6h1.1v1.1h-1.1zM503.4 215.4h1.1v1.1h-1.1zM493.0 213.6h1.1v1.1h-1.1zM488.2 215.6h1.1v1.1h-1.1zM486.8 214.9h1.1v1.1h-1.1zM493.0 215.6h1.1v1.1h-1.1zM498.7 213.5h1.1v1.1h-1.1zM476.4 213.4h1.1v1.1h-1.1zM488.1 214.6h1.1v1.1h-1.1zM498.9 215.6h1.1v1.1h-1.1zM477.6 215.4h1.1v1.1h-1.1zM498.8 215.5h1.1v1.1h-1.1zM492.2 213.5h1.1v1.1h-1.1zM499.9 215.3h1.1v1.1h-1.1zM495.3 215.7h1.1v1.1h-1.1zM486.0 212.8h1.1v1.1h-1.1zM491.7 215.3h1.1v1.1h-1.1zM481.9 215.1h1.1v1.1h-1.1zM502.1 213.3h1.1v1.1h-1.1zM493.2 214.9h1.1v1.1h-1.1zM489.2 213.2h1.1v1.1h-1.1zM483.4 215.1h1.1v1.1h-1.1zM498.2 214.1h1.1v1.1h-1.1zM478.8 215.3h1.1v1.1h-1.1zM497.7 213.3h1.1v1.1h-1.1zM492.4 215.6h1.1v1.1h-1.1zM500.8 214.3h1.1v1.1h-1.1zM489.6 214.6h1.1v1.1h-1.1zM481.6 213.2h1.1v1.1h-1.1zM481.4 215.0h1.1v1.1h-1.1zM486.4 214.5h1.1v1.1h-1.1zM487.5 214.3h1.1v1.1h-1.1zM480.5 212.7h1.1v1.1h-1.1zM503.9 213.8h1.1v1.1h-1.1zM479.3 214.7h1.1v1.1h-1.1zM498.1 213.0h1.1v1.1h-1.1zM492.9 213.7h1.1v1.1h-1.1zM490.7 212.6h1.1v1.1h-1.1zM477.3 216.0h1.1v1.1h-1.1zM500.3 214.2h1.1v1.1h-1.1zM492.1 213.4h1.1v1.1h-1.1zM497.9 214.0h1.1v1.1h-1.1zM502.5 215.2h1.1v1.1h-1.1zM499.0 215.9h1.1v1.1h-1.1zM483.4 212.6h1.1v1.1h-1.1zM481.9 213.1h1.1v1.1h-1.1zM478.7 212.7h1.1v1.1h-1.1zM491.8 215.5h1.1v1.1h-1.1zM489.0 215.8h1.1v1.1h-1.1zM501.5 212.7h1.1v1.1h-1.1zM492.9 213.9h1.1v1.1h-1.1zM479.7 215.9h1.1v1.1h-1.1zM483.5 214.5h1.1v1.1h-1.1zM494.1 215.8h1.1v1.1h-1.1zM494.9 213.9h1.1v1.1h-1.1zM488.8 213.1h1.1v1.1h-1.1zM503.1 216.0h1.1v1.1h-1.1zM482.5 212.6h1.1v1.1h-1.1zM483.5 213.7h1.1v1.1h-1.1zM501.3 215.7h1.1v1.1h-1.1zM499.5 212.7h1.1v1.1h-1.1zM498.1 215.0h1.1v1.1h-1.1zM494.2 215.9h1.1v1.1h-1.1zM477.9 213.0h1.1v1.1h-1.1zM497.2 215.8h1.1v1.1h-1.1zM495.1 213.5h1.1v1.1h-1.1zM492.7 215.2h1.1v1.1h-1.1zM479.3 213.6h1.1v1.1h-1.1zM483.5 212.9h1.1v1.1h-1.1zM489.7 213.1h1.1v1.1h-1.1zM483.0 213.0h1.1v1.1h-1.1zM495.1 212.5h1.1v1.1h-1.1zM496.2 213.2h1.1v1.1h-1.1zM477.4 215.7h1.1v1.1h-1.1zM482.5 215.8h1.1v1.1h-1.1zM500.3 215.6h1.1v1.1h-1.1zM480.3 214.1h1.1v1.1h-1.1zM479.1 215.8h1.1v1.1h-1.1zM499.6 214.7h1.1v1.1h-1.1zM488.9 213.7h1.1v1.1h-1.1z"/>
<path fill="#e46af6" d="M62.9 187.8h1.1v1.1h-1.1zM62.7 178.1h1.1v1.1h-1.1zM62.3 175.6h1.1v1.1h-1.1zM62.8 190.0h1.1v1.1h-1.1zM62.2 199.3h1.1v1.1h-1.1zM62.4 185.9h1.1v1.1h-1.1zM62.3 181.9h1.1v1.1h-1.1zM70.1 173.0h1.1v1.1h-1.1zM69.5 177.7h1.1v1.1h-1.1zM69.6 190.1h1.1v1.1h-1.1zM69.4 192.4h1.1v1.1h-1.1zM69.4 189.9h1.1v1.1h-1.1zM70.0 169.3h1.1v1.1h-1.1zM69.8 171.6h1.1v1.1h-1.1zM69.6 169.0h1.1v1.1h-1.1zM62.3 234.9h1.1v1.1h-1.1zM75.0 234.0h1.1v1.1h-1.1zM57.0 225.8h1.1v1.1h-1.1zM72.9 222.7h1.1v1.1h-1.1zM69.5 225.8h1.1v1.1h-1.1zM74.6 222.2h1.1v1.1h-1.1zM91.2 241.4h1.1v1.1h-1.1zM88.6 238.0h1.1v1.1h-1.1zM91.3 243.3h1.1v1.1h-1.1zM88.7 242.4h1.1v1.1h-1.1zM91.6 240.2h1.1v1.1h-1.1zM90.3 239.4h1.1v1.1h-1.1zM88.7 245.7h1.1v1.1h-1.1zM90.8 240.0h1.1v1.1h-1.1zM88.3 238.9h1.1v1.1h-1.1zM90.4 243.0h1.1v1.1h-1.1zM89.1 240.1h1.1v1.1h-1.1zM90.4 245.1h1.1v1.1h-1.1zM104.3 234.2h1.1v1.1h-1.1zM102.2 226.9h1.1v1.1h-1.1zM104.1 231.7h1.1v1.1h-1.1zM104.0 226.8h1.1v1.1h-1.1zM104.3 230.7h1.1v1.1h-1.1zM104.4 238.1h1.1v1.1h-1.1zM103.2 226.2h1.1v1.1h-1.1zM104.7 232.7h1.1v1.1h-1.1zM104.6 229.7h1.1v1.1h-1.1zM102.2 237.6h1.1v1.1h-1.1zM102.8 228.3h1.1v1.1h-1.1zM102.8 234.3h1.1v1.1h-1.1zM101.5 233.3h1.1v1.1h-1.1zM103.1 233.2h1.1v1.1h-1.1zM132.3 198.6h1.1v1.1h-1.1zM151.0 205.7h1.1v1.1h-1.1zM137.7 198.4h1.1v1.1h-1.1zM139.3 200.3h1.1v1.1h-1.1zM130.7 206.0h1.1v1.1h-1.1zM154.8 188.3h1.1v1.1h-1.1zM142.9 189.9h1.1v1.1h-1.1zM143.5 166.0h1.1v1.1h-1.1zM155.1 175.5h1.1v1.1h-1.1zM133.9 169.8h1.1v1.1h-1.1zM135.8 203.4h1.1v1.1h-1.1zM129.8 169.5h1.1v1.1h-1.1zM147.9 174.2h1.1v1.1h-1.1zM129.5 193.2h1.1v1.1h-1.1zM144.6 189.6h1.1v1.1h-1.1zM148.0 169.8h1.1v1.1h-1.1zM152.5 198.7h1.1v1.1h-1.1zM130.2 170.8h1.1v1.1h-1.1zM142.3 188.5h1.1v1.1h-1.1zM136.5 170.7h1.1v1.1h-1.1zM140.0 171.4h1.1v1.1h-1.1zM145.0 205.5h1.1v1.1h-1.1zM133.0 191.9h1.1v1.1h-1.1zM149.2 172.7h1.1v1.1h-1.1zM151.3 209.1h1.1v1.1h-1.1zM139.5 184.8h1.1v1.1h-1.1zM151.7 189.7h1.1v1.1h-1.1zM139.7 209.2h1.1v1.1h-1.1zM150.0 180.9h1.1v1.1h-1.1zM135.5 180.7h1.1v1.1h-1.1zM140.8 211.1h1.1v1.1h-1.1zM150.7 207.9h1.1v1.1h-1.1zM151.0 204.8h1.1v1.1h-1.1zM130.4 189.3h1.1v1.1h-1.1zM154.9 208.9h1.1v1.1h-1.1zM135.7 184.8h1.1v1.1h-1.1zM146.1 182.1h1.1v1.1h-1.1zM143.3 168.3h1.1v1.1h-1.1zM134.0 169.0h1.1v1.1h-1.1zM132.8 167.6h1.1v1.1h-1.1zM135.5 170.1h1.1v1.1h-1.1zM135.4 169.5h1.1v1.1h-1.1zM135.0 170.5h1.1v1.1h-1.1zM135.3 167.1h1.1v1.1h-1.1zM134.6 168.1h1.1v1.1h-1.1zM134.7 168.1h1.1v1.1h-1.1zM134.3 170.7h1.1v1.1h-1.1zM134.5 168.0h1.1v1.1h-1.1zM134.2 168.7h1.1v1.1h-1.1zM135.5 168.2h1.1v1.1h-1.1zM133.6 169.6h1.1v1.1h-1.1zM133.0 169.4h1.1v1.1h-1.1zM143.1 175.7h1.1v1.1h-1.1zM141.1 175.5h1.1v1.1h-1.1zM141.8 174.3h1.1v1.1h-1.1zM140.7 174.2h1.1v1.1h-1.1zM141.2 175.2h1.1v1.1h-1.1zM141.1 174.6h1.1v1.1h-1.1zM140.6 175.8h1.1v1.1h-1.1zM142.7 176.0h1.1v1.1h-1.1zM142.0 176.2h1.1v1.1h-1.1zM140.9 176.4h1.1v1.1h-1.1zM141.6 175.8h1.1v1.1h-1.1zM142.1 175.5h1.1v1.1h-1.1zM141.2 174.6h1.1v1.1h-1.1zM140.9 175.6h1.1v1.1h-1.1zM137.6 184.1h1.1v1.1h-1.1zM136.5 183.0h1.1v1.1h-1.1zM139.0 182.4h1.1v1.1h-1.1zM138.1 183.6h1.1v1.1h-1.1zM137.3 185.9h1.1v1.1h-1.1zM137.4 184.9h1.1v1.1h-1.1zM137.0 181.6h1.1v1.1h-1.1zM139.0 183.4h1.1v1.1h-1.1zM136.7 183.1h1.1v1.1h-1.1zM137.8 184.8h1.1v1.1h-1.1zM136.8 182.4h1.1v1.1h-1.1zM139.3 184.8h1.1v1.1h-1.1zM136.9 182.9h1.1v1.1h-1.1zM137.5 184.5h1.1v1.1h-1.1zM144.9 190.1h1.1v1.1h-1.1zM145.5 188.5h1.1v1.1h-1.1zM145.3 189.6h1.1v1.1h-1.1zM145.3 188.3h1.1v1.1h-1.1zM145.4 189.4h1.1v1.1h-1.1zM145.8 186.6h1.1v1.1h-1.1zM145.6 186.0h1.1v1.1h-1.1zM145.3 188.8h1.1v1.1h-1.1zM144.6 190.6h1.1v1.1h-1.1zM144.8 188.0h1.1v1.1h-1.1zM145.4 190.2h1.1v1.1h-1.1zM144.9 187.8h1.1v1.1h-1.1zM144.5 188.2h1.1v1.1h-1.1zM145.2 187.4h1.1v1.1h-1.1zM155.0 197.2h1.1v1.1h-1.1zM155.0 194.2h1.1v1.1h-1.1zM156.0 201.0h1.1v1.1h-1.1zM155.2 195.8h1.1v1.1h-1.1zM154.5 194.0h1.1v1.1h-1.1zM154.4 197.5h1.1v1.1h-1.1zM155.5 191.1h1.1v1.1h-1.1zM156.3 194.2h1.1v1.1h-1.1zM156.1 200.9h1.1v1.1h-1.1zM156.4 192.7h1.1v1.1h-1.1zM155.1 201.8h1.1v1.1h-1.1zM154.0 190.6h1.1v1.1h-1.1zM155.4 196.5h1.1v1.1h-1.1zM156.3 200.1h1.1v1.1h-1.1zM178.2 241.0h1.1v1.1h-1.1zM178.0 234.7h1.1v1.1h-1.1zM179.3 233.1h1.1v1.1h-1.1zM176.8 235.7h1.1v1.1h-1.1zM176.7 240.3h1.1v1.1h-1.1zM179.3 234.8h1.1v1.1h-1.1zM174.8 232.9h1.1v1.1h-1.1zM177.1 235.3h1.1v1.1h-1.1zM178.5 239.4h1.1v1.1h-1.1zM181.5 234.3h1.1v1.1h-1.1zM177.4 236.1h1.1v1.1h-1.1zM181.8 232.5h1.1v1.1h-1.1zM178.1 238.6h1.1v1.1h-1.1zM175.3 232.1h1.1v1.1h-1.1zM181.6 238.7h1.1v1.1h-1.1zM178.0 229.4h1.1v1.1h-1.1zM181.0 237.0h1.1v1.1h-1.1zM180.4 240.9h1.1v1.1h-1.1zM180.9 233.5h1.1v1.1h-1.1zM175.2 231.8h1.1v1.1h-1.1zM178.0 234.6h1.1v1.1h-1.1zM175.5 230.4h1.1v1.1h-1.1zM178.9 235.8h1.1v1.1h-1.1zM176.8 240.9h1.1v1.1h-1.1zM179.0 228.6h1.1v1.1h-1.1zM177.2 238.2h1.1v1.1h-1.1zM176.4 237.0h1.1v1.1h-1.1zM174.0 232.0h1.1v1.1h-1.1zM180.6 235.6h1.1v1.1h-1.1zM179.2 230.6h1.1v1.1h-1.1zM189.5 235.5h1.1v1.1h-1.1zM188.8 236.5h1.1v1.1h-1.1zM189.6 240.0h1.1v1.1h-1.1zM189.7 234.1h1.1v1.1h-1.1zM188.4 231.6h1.1v1.1h-1.1zM190.3 231.1h1.1v1.1h-1.1zM188.3 231.7h1.1v1.1h-1.1zM189.6 238.2h1.1v1.1h-1.1zM189.8 238.1h1.1v1.1h-1.1zM188.2 230.1h1.1v1.1h-1.1zM229.8 181.5h1.1v1.1h-1.1zM229.7 183.0h1.1v1.1h-1.1zM229.2 178.6h1.1v1.1h-1.1zM229.1 211.1h1.1v1.1h-1.1zM229.6 182.8h1.1v1.1h-1.1zM229.4 184.7h1.1v1.1h-1.1zM229.1 210.4h1.1v1.1h-1.1zM229.6 213.9h1.1v1.1h-1.1zM229.4 196.6h1.1v1.1h-1.1zM229.2 167.2h1.1v1.1h-1.1zM229.9 208.6h1.1v1.1h-1.1zM229.3 210.8h1.1v1.1h-1.1zM229.8 180.5h1.1v1.1h-1.1zM229.6 214.0h1.1v1.1h-1.1zM229.5 213.4h1.1v1.1h-1.1zM229.2 184.9h1.1v1.1h-1.1zM229.7 176.3h1.1v1.1h-1.1zM229.3 209.6h1.1v1.1h-1.1zM229.5 205.4h1.1v1.1h-1.1zM229.2 173.8h1.1v1.1h-1.1zM229.4 174.5h1.1v1.1h-1.1zM230.0 179.8h1.1v1.1h-1.1zM218.9 216.1h1.1v1.1h-1.1zM218.3 220.9h1.1v1.1h-1.1zM215.3 215.2h1.1v1.1h-1.1zM208.8 228.9h1.1v1.1h-1.1zM214.1 218.4h1.1v1.1h-1.1zM210.4 219.1h1.1v1.1h-1.1zM211.5 214.6h1.1v1.1h-1.1zM221.3 220.1h1.1v1.1h-1.1zM209.6 226.7h1.1v1.1h-1.1zM208.1 218.9h1.1v1.1h-1.1zM225.2 216.3h1.1v1.1h-1.1zM216.2 229.1h1.1v1.1h-1.1zM224.5 216.9h1.1v1.1h-1.1zM214.1 227.0h1.1v1.1h-1.1zM248.4 206.6h1.1v1.1h-1.1zM248.2 206.4h1.1v1.1h-1.1zM248.5 182.5h1.1v1.1h-1.1zM248.5 179.3h1.1v1.1h-1.1zM248.7 183.6h1.1v1.1h-1.1zM248.9 194.4h1.1v1.1h-1.1zM248.4 183.1h1.1v1.1h-1.1zM248.6 182.0h1.1v1.1h-1.1zM248.9 179.1h1.1v1.1h-1.1zM248.5 192.9h1.1v1.1h-1.1zM248.3 200.5h1.1v1.1h-1.1zM248.4 196.7h1.1v1.1h-1.1zM248.6 185.3h1.1v1.1h-1.1zM248.4 177.8h1.1v1.1h-1.1zM258.8 241.4h1.1v1.1h-1.1zM259.1 239.3h1.1v1.1h-1.1zM258.6 238.2h1.1v1.1h-1.1zM259.2 237.5h1.1v1.1h-1.1zM259.1 232.7h1.1v1.1h-1.1zM259.1 234.5h1.1v1.1h-1.1zM258.7 239.9h1.1v1.1h-1.1zM259.0 236.4h1.1v1.1h-1.1zM260.4 240.5h1.1v1.1h-1.1zM260.3 241.5h1.1v1.1h-1.1zM258.7 235.0h1.1v1.1h-1.1zM258.5 239.5h1.1v1.1h-1.1zM259.9 235.9h1.1v1.1h-1.1zM259.3 239.2h1.1v1.1h-1.1zM259.9 234.7h1.1v1.1h-1.1zM260.3 235.9h1.1v1.1h-1.1zM304.5 227.8h1.1v1.1h-1.1zM303.1 236.9h1.1v1.1h-1.1zM304.8 234.4h1.1v1.1h-1.1zM302.9 226.0h1.1v1.1h-1.1zM303.2 228.0h1.1v1.1h-1.1zM303.6 230.3h1.1v1.1h-1.1zM302.9 229.4h1.1v1.1h-1.1zM304.5 227.7h1.1v1.1h-1.1zM305.1 232.6h1.1v1.1h-1.1zM304.7 228.7h1.1v1.1h-1.1zM304.0 234.1h1.1v1.1h-1.1zM303.7 225.5h1.1v1.1h-1.1zM305.1 235.2h1.1v1.1h-1.1zM303.6 226.0h1.1v1.1h-1.1zM323.1 241.6h1.1v1.1h-1.1zM317.8 235.8h1.1v1.1h-1.1zM318.2 244.6h1.1v1.1h-1.1zM318.9 246.6h1.1v1.1h-1.1zM322.4 233.2h1.1v1.1h-1.1zM322.0 238.2h1.1v1.1h-1.1zM322.4 245.2h1.1v1.1h-1.1zM319.3 233.3h1.1v1.1h-1.1zM323.7 238.7h1.1v1.1h-1.1zM323.5 243.0h1.1v1.1h-1.1zM322.3 245.2h1.1v1.1h-1.1zM321.6 239.1h1.1v1.1h-1.1zM317.9 243.1h1.1v1.1h-1.1zM320.3 240.1h1.1v1.1h-1.1zM323.5 233.9h1.1v1.1h-1.1zM322.5 232.5h1.1v1.1h-1.1zM322.1 244.9h1.1v1.1h-1.1zM319.2 240.7h1.1v1.1h-1.1zM323.8 242.1h1.1v1.1h-1.1zM321.0 235.8h1.1v1.1h-1.1zM317.9 237.6h1.1v1.1h-1.1zM320.2 235.1h1.1v1.1h-1.1zM319.5 234.0h1.1v1.1h-1.1zM322.1 242.7h1.1v1.1h-1.1zM319.0 235.7h1.1v1.1h-1.1zM320.8 239.0h1.1v1.1h-1.1zM323.6 237.5h1.1v1.1h-1.1zM319.4 246.1h1.1v1.1h-1.1zM318.4 240.9h1.1v1.1h-1.1zM319.7 245.0h1.1v1.1h-1.1zM321.1 244.1h1.1v1.1h-1.1zM318.6 242.6h1.1v1.1h-1.1zM321.4 239.3h1.1v1.1h-1.1zM322.5 245.3h1.1v1.1h-1.1zM318.2 236.5h1.1v1.1h-1.1zM319.8 235.1h1.1v1.1h-1.1zM317.9 236.4h1.1v1.1h-1.1zM318.8 243.2h1.1v1.1h-1.1zM320.4 233.6h1.1v1.1h-1.1zM319.6 239.4h1.1v1.1h-1.1zM319.9 234.5h1.1v1.1h-1.1zM318.0 232.0h1.1v1.1h-1.1zM323.9 244.0h1.1v1.1h-1.1zM318.0 243.4h1.1v1.1h-1.1zM323.9 240.9h1.1v1.1h-1.1zM318.2 239.7h1.1v1.1h-1.1zM320.3 234.9h1.1v1.1h-1.1zM321.0 231.9h1.1v1.1h-1.1zM323.5 242.2h1.1v1.1h-1.1zM321.6 247.0h1.1v1.1h-1.1zM321.7 235.9h1.1v1.1h-1.1zM319.1 234.0h1.1v1.1h-1.1zM317.7 244.3h1.1v1.1h-1.1zM323.0 236.6h1.1v1.1h-1.1zM318.7 242.1h1.1v1.1h-1.1zM388.9 166.1h1.1v1.1h-1.1zM386.1 165.3h1.1v1.1h-1.1zM388.8 165.1h1.1v1.1h-1.1zM386.7 162.0h1.1v1.1h-1.1zM388.8 162.8h1.1v1.1h-1.1zM386.9 164.0h1.1v1.1h-1.1zM386.9 165.6h1.1v1.1h-1.1zM386.4 161.2h1.1v1.1h-1.1zM387.7 164.5h1.1v1.1h-1.1zM388.8 164.9h1.1v1.1h-1.1zM410.2 231.1h1.1v1.1h-1.1zM400.8 200.0h1.1v1.1h-1.1zM393.1 186.0h1.1v1.1h-1.1zM402.8 170.6h1.1v1.1h-1.1zM405.3 176.5h1.1v1.1h-1.1zM399.6 232.9h1.1v1.1h-1.1zM391.6 167.8h1.1v1.1h-1.1zM399.6 178.4h1.1v1.1h-1.1zM406.1 165.2h1.1v1.1h-1.1zM408.8 224.9h1.1v1.1h-1.1zM407.5 194.8h1.1v1.1h-1.1zM396.0 211.3h1.1v1.1h-1.1zM401.3 194.5h1.1v1.1h-1.1zM397.3 195.7h1.1v1.1h-1.1zM404.8 222.8h1.1v1.1h-1.1zM410.2 176.5h1.1v1.1h-1.1zM396.3 196.0h1.1v1.1h-1.1zM402.4 189.4h1.1v1.1h-1.1zM394.0 171.0h1.1v1.1h-1.1zM396.9 197.2h1.1v1.1h-1.1zM411.7 228.6h1.1v1.1h-1.1zM409.3 233.2h1.1v1.1h-1.1zM411.5 208.4h1.1v1.1h-1.1zM408.1 169.2h1.1v1.1h-1.1zM405.0 207.6h1.1v1.1h-1.1zM396.3 205.0h1.1v1.1h-1.1zM411.3 198.7h1.1v1.1h-1.1zM404.3 186.0h1.1v1.1h-1.1zM397.4 227.0h1.1v1.1h-1.1zM390.1 178.2h1.1v1.1h-1.1zM405.0 196.3h1.1v1.1h-1.1zM391.5 211.2h1.1v1.1h-1.1zM398.0 205.7h1.1v1.1h-1.1zM399.0 202.1h1.1v1.1h-1.1zM402.4 192.7h1.1v1.1h-1.1zM387.1 162.7h1.3v1.3h-1.3zM389.2 164.2h1.3v1.3h-1.3zM387.1 165.4h1.3v1.3h-1.3zM387.5 162.4h1.3v1.3h-1.3zM388.2 163.0h1.3v1.3h-1.3zM388.1 164.2h1.3v1.3h-1.3zM387.4 164.3h1.3v1.3h-1.3zM387.1 164.1h1.3v1.3h-1.3zM388.4 162.3h1.3v1.3h-1.3zM387.9 162.3h1.3v1.3h-1.3zM390.9 174.3h1.3v1.3h-1.3zM391.4 173.5h1.3v1.3h-1.3zM392.4 170.2h1.3v1.3h-1.3zM393.5 173.5h1.3v1.3h-1.3zM389.3 174.1h1.3v1.3h-1.3zM390.6 170.5h1.3v1.3h-1.3zM393.3 172.6h1.3v1.3h-1.3zM392.4 170.3h1.3v1.3h-1.3zM392.4 169.9h1.3v1.3h-1.3zM389.9 171.6h1.3v1.3h-1.3zM388.9 172.8h1.3v1.3h-1.3zM389.8 171.2h1.3v1.3h-1.3zM392.1 171.9h1.3v1.3h-1.3zM393.0 173.0h1.3v1.3h-1.3zM392.9 172.6h1.3v1.3h-1.3zM393.1 174.3h1.3v1.3h-1.3zM389.6 173.6h1.3v1.3h-1.3zM390.4 173.7h1.3v1.3h-1.3zM397.9 172.8h1.3v1.3h-1.3zM395.9 170.7h1.3v1.3h-1.3zM398.1 173.4h1.3v1.3h-1.3zM398.0 169.2h1.3v1.3h-1.3zM397.6 169.5h1.3v1.3h-1.3zM397.4 172.7h1.3v1.3h-1.3zM395.9 173.3h1.3v1.3h-1.3zM397.9 170.2h1.3v1.3h-1.3zM396.2 171.1h1.3v1.3h-1.3zM398.4 171.7h1.3v1.3h-1.3zM395.9 169.1h1.3v1.3h-1.3zM395.9 172.7h1.3v1.3h-1.3zM396.1 171.5h1.3v1.3h-1.3zM396.5 172.2h1.3v1.3h-1.3zM400.5 176.5h1.3v1.3h-1.3zM402.5 178.6h1.3v1.3h-1.3zM401.8 180.0h1.3v1.3h-1.3zM402.8 175.8h1.3v1.3h-1.3zM400.4 176.5h1.3v1.3h-1.3zM401.0 180.3h1.3v1.3h-1.3zM402.2 175.9h1.3v1.3h-1.3zM399.7 180.0h1.3v1.3h-1.3zM401.7 177.8h1.3v1.3h-1.3zM400.9 176.5h1.3v1.3h-1.3zM402.4 177.8h1.3v1.3h-1.3zM402.5 178.9h1.3v1.3h-1.3zM399.3 177.4h1.3v1.3h-1.3zM399.9 180.4h1.3v1.3h-1.3zM395.3 178.6h1.3v1.3h-1.3zM393.5 180.3h1.3v1.3h-1.3zM394.8 181.5h1.3v1.3h-1.3zM394.4 180.3h1.3v1.3h-1.3zM392.8 181.5h1.3v1.3h-1.3zM394.2 178.5h1.3v1.3h-1.3zM394.7 183.7h1.3v1.3h-1.3zM393.0 179.2h1.3v1.3h-1.3zM395.6 179.9h1.3v1.3h-1.3zM393.9 181.1h1.3v1.3h-1.3zM393.9 181.5h1.3v1.3h-1.3zM395.0 183.6h1.3v1.3h-1.3zM397.0 178.6h1.3v1.3h-1.3zM395.2 182.6h1.3v1.3h-1.3zM396.5 182.6h1.3v1.3h-1.3zM395.5 181.8h1.3v1.3h-1.3zM407.6 175.8h1.3v1.3h-1.3zM409.0 179.0h1.3v1.3h-1.3zM409.5 178.0h1.3v1.3h-1.3zM407.4 178.4h1.3v1.3h-1.3zM408.8 177.0h1.3v1.3h-1.3zM408.5 176.2h1.3v1.3h-1.3zM408.2 176.5h1.3v1.3h-1.3zM406.6 176.1h1.3v1.3h-1.3zM407.5 179.6h1.3v1.3h-1.3zM408.0 176.3h1.3v1.3h-1.3zM407.2 175.6h1.3v1.3h-1.3zM407.6 175.0h1.3v1.3h-1.3zM390.8 190.3h1.3v1.3h-1.3zM392.0 189.7h1.3v1.3h-1.3zM392.3 189.5h1.3v1.3h-1.3zM391.3 189.1h1.3v1.3h-1.3zM385.3 221.2h1.1v1.1h-1.1zM385.7 226.0h1.1v1.1h-1.1zM385.9 221.8h1.1v1.1h-1.1zM385.9 226.7h1.1v1.1h-1.1zM385.1 218.6h1.1v1.1h-1.1zM385.6 234.7h1.1v1.1h-1.1zM436.3 180.7h1.1v1.1h-1.1zM436.0 172.7h1.1v1.1h-1.1zM436.5 179.9h1.1v1.1h-1.1zM435.4 173.2h1.1v1.1h-1.1zM435.0 176.8h1.1v1.1h-1.1zM436.7 177.8h1.1v1.1h-1.1zM436.8 173.9h1.1v1.1h-1.1zM435.3 178.7h1.1v1.1h-1.1zM436.1 175.6h1.1v1.1h-1.1zM436.2 175.0h1.1v1.1h-1.1zM434.6 175.7h1.1v1.1h-1.1zM434.6 177.6h1.1v1.1h-1.1zM435.3 176.4h1.1v1.1h-1.1zM436.0 174.3h1.1v1.1h-1.1zM435.7 172.1h1.1v1.1h-1.1zM436.8 177.1h1.1v1.1h-1.1zM445.5 156.9h1.1v1.1h-1.1zM445.1 167.9h1.1v1.1h-1.1zM444.8 157.5h1.1v1.1h-1.1zM444.7 158.4h1.1v1.1h-1.1zM445.3 157.5h1.1v1.1h-1.1zM445.3 163.0h1.1v1.1h-1.1zM445.0 165.7h1.1v1.1h-1.1zM445.1 166.8h1.1v1.1h-1.1zM445.1 161.5h1.1v1.1h-1.1zM445.2 160.3h1.1v1.1h-1.1zM457.4 175.2h1.1v1.1h-1.1zM457.6 169.7h1.1v1.1h-1.1zM457.6 177.7h1.1v1.1h-1.1zM456.7 169.3h1.1v1.1h-1.1zM456.9 177.3h1.1v1.1h-1.1zM455.7 166.1h1.1v1.1h-1.1zM456.7 173.9h1.1v1.1h-1.1zM457.6 170.3h1.1v1.1h-1.1zM458.3 168.7h1.1v1.1h-1.1zM457.6 167.1h1.1v1.1h-1.1zM455.4 167.6h1.1v1.1h-1.1zM455.5 172.0h1.1v1.1h-1.1zM457.0 168.2h1.1v1.1h-1.1zM458.1 170.4h1.1v1.1h-1.1zM455.7 168.1h1.1v1.1h-1.1zM457.5 177.1h1.1v1.1h-1.1zM455.8 166.3h1.1v1.1h-1.1zM457.6 168.9h1.1v1.1h-1.1zM458.2 172.0h1.1v1.1h-1.1zM457.2 170.1h1.1v1.1h-1.1zM447.4 236.8h1.1v1.1h-1.1zM445.9 239.4h1.1v1.1h-1.1zM445.2 238.4h1.1v1.1h-1.1zM445.1 237.9h1.1v1.1h-1.1zM446.1 239.2h1.1v1.1h-1.1zM445.1 237.4h1.1v1.1h-1.1zM446.2 239.5h1.1v1.1h-1.1zM447.8 237.8h1.1v1.1h-1.1zM445.6 235.5h1.1v1.1h-1.1zM445.7 236.6h1.1v1.1h-1.1zM445.6 235.2h1.1v1.1h-1.1zM447.3 237.9h1.1v1.1h-1.1zM454.0 243.4h1.1v1.1h-1.1zM453.8 240.1h1.1v1.1h-1.1zM453.6 242.4h1.1v1.1h-1.1zM455.2 237.8h1.1v1.1h-1.1zM455.0 242.1h1.1v1.1h-1.1zM453.9 238.3h1.1v1.1h-1.1zM454.4 242.6h1.1v1.1h-1.1zM453.7 241.0h1.1v1.1h-1.1zM454.6 239.2h1.1v1.1h-1.1zM454.6 242.5h1.1v1.1h-1.1zM453.8 242.5h1.1v1.1h-1.1zM454.1 241.7h1.1v1.1h-1.1zM456.1 223.8h1.3v1.3h-1.3zM456.1 242.9h1.3v1.3h-1.3zM448.2 220.1h1.3v1.3h-1.3zM445.6 242.4h1.3v1.3h-1.3zM444.1 240.9h1.3v1.3h-1.3zM446.1 236.8h1.3v1.3h-1.3zM445.4 223.5h1.3v1.3h-1.3zM453.6 221.6h1.3v1.3h-1.3zM448.8 241.1h1.3v1.3h-1.3zM454.0 240.2h1.3v1.3h-1.3zM457.7 220.3h1.3v1.3h-1.3zM447.3 238.1h1.3v1.3h-1.3zM453.7 220.4h1.3v1.3h-1.3zM451.1 224.9h1.3v1.3h-1.3zM450.0 222.0h1.3v1.3h-1.3zM444.3 242.8h1.3v1.3h-1.3zM448.4 240.1h1.3v1.3h-1.3zM445.7 231.0h1.3v1.3h-1.3zM445.9 229.6h1.3v1.3h-1.3zM446.5 235.6h1.3v1.3h-1.3zM446.1 236.8h1.3v1.3h-1.3zM451.0 222.1h1.3v1.3h-1.3zM449.0 231.2h1.3v1.3h-1.3zM456.9 227.7h1.3v1.3h-1.3zM447.0 242.2h1.3v1.3h-1.3zM456.4 236.7h1.3v1.3h-1.3zM447.8 223.7h1.3v1.3h-1.3zM447.7 221.1h1.3v1.3h-1.3zM444.6 231.5h1.3v1.3h-1.3zM449.7 232.6h1.3v1.3h-1.3zM449.1 219.7h1.3v1.3h-1.3zM453.6 234.8h1.3v1.3h-1.3zM451.6 232.4h1.3v1.3h-1.3zM453.7 242.6h1.3v1.3h-1.3zM456.2 236.4h1.3v1.3h-1.3zM449.6 227.0h1.3v1.3h-1.3zM449.9 242.4h1.3v1.3h-1.3zM449.4 228.6h1.3v1.3h-1.3zM449.7 222.9h1.3v1.3h-1.3zM458.0 219.6h1.3v1.3h-1.3zM452.5 241.3h1.3v1.3h-1.3zM447.6 233.9h1.3v1.3h-1.3zM449.3 225.2h1.3v1.3h-1.3zM446.8 222.2h1.3v1.3h-1.3zM455.8 237.9h1.3v1.3h-1.3zM456.5 232.5h1.3v1.3h-1.3zM455.5 235.6h1.3v1.3h-1.3zM455.2 238.0h1.3v1.3h-1.3zM453.6 242.7h1.3v1.3h-1.3zM452.0 240.2h1.3v1.3h-1.3zM456.3 237.6h1.3v1.3h-1.3zM455.0 242.9h1.3v1.3h-1.3zM453.2 238.9h1.3v1.3h-1.3zM455.7 236.2h1.3v1.3h-1.3zM455.6 236.3h1.3v1.3h-1.3zM454.6 238.7h1.3v1.3h-1.3zM455.4 235.5h1.3v1.3h-1.3zM455.1 238.0h1.3v1.3h-1.3zM453.1 238.7h1.3v1.3h-1.3zM453.3 242.0h1.3v1.3h-1.3zM454.4 239.9h1.3v1.3h-1.3zM483.7 223.7h1.1v1.1h-1.1zM481.5 219.7h1.1v1.1h-1.1zM486.5 224.3h1.1v1.1h-1.1zM483.7 224.3h1.1v1.1h-1.1zM485.7 220.9h1.1v1.1h-1.1zM481.2 227.9h1.1v1.1h-1.1zM483.2 225.7h1.1v1.1h-1.1zM485.8 228.7h1.1v1.1h-1.1zM486.1 218.5h1.1v1.1h-1.1zM482.7 228.0h1.1v1.1h-1.1zM485.7 219.5h1.1v1.1h-1.1zM481.1 221.0h1.1v1.1h-1.1zM480.7 222.3h1.1v1.1h-1.1zM485.6 224.3h1.1v1.1h-1.1zM483.2 219.1h1.1v1.1h-1.1zM482.8 230.0h1.1v1.1h-1.1zM484.9 223.4h1.1v1.1h-1.1zM483.3 227.6h1.1v1.1h-1.1zM485.3 219.8h1.1v1.1h-1.1zM484.8 222.4h1.1v1.1h-1.1zM495.0 170.9h1.1v1.1h-1.1zM494.9 173.9h1.1v1.1h-1.1zM494.9 164.5h1.1v1.1h-1.1zM494.7 180.5h1.1v1.1h-1.1zM494.6 169.2h1.1v1.1h-1.1zM495.2 172.0h1.1v1.1h-1.1zM494.8 171.0h1.1v1.1h-1.1zM495.3 166.6h1.1v1.1h-1.1zM495.1 188.9h1.1v1.1h-1.1zM494.7 176.3h1.1v1.1h-1.1zM495.3 181.9h1.1v1.1h-1.1zM494.9 165.3h1.1v1.1h-1.1zM494.9 174.6h1.1v1.1h-1.1zM495.2 172.6h1.1v1.1h-1.1zM494.9 182.8h1.1v1.1h-1.1zM495.3 174.2h1.1v1.1h-1.1zM502.5 182.7h1.1v1.1h-1.1zM505.7 173.5h1.1v1.1h-1.1zM506.0 185.9h1.1v1.1h-1.1zM502.4 184.8h1.1v1.1h-1.1zM502.2 170.7h1.1v1.1h-1.1zM504.7 178.0h1.1v1.1h-1.1zM503.4 180.8h1.1v1.1h-1.1zM505.6 186.9h1.1v1.1h-1.1zM500.4 183.0h1.1v1.1h-1.1zM503.0 180.0h1.1v1.1h-1.1zM505.2 178.8h1.1v1.1h-1.1zM503.0 190.1h1.1v1.1h-1.1zM502.8 180.6h1.1v1.1h-1.1zM503.3 188.5h1.1v1.1h-1.1zM504.2 186.5h1.1v1.1h-1.1zM502.6 170.0h1.1v1.1h-1.1zM504.3 182.1h1.1v1.1h-1.1zM504.8 187.2h1.1v1.1h-1.1zM500.9 174.2h1.1v1.1h-1.1zM500.7 188.4h1.1v1.1h-1.1zM500.8 171.1h1.1v1.1h-1.1zM504.7 182.4h1.1v1.1h-1.1zM500.5 185.1h1.1v1.1h-1.1zM504.5 180.4h1.1v1.1h-1.1zM500.5 185.4h1.1v1.1h-1.1zM502.7 182.8h1.1v1.1h-1.1zM506.2 188.4h1.1v1.1h-1.1zM505.4 172.4h1.1v1.1h-1.1zM502.2 181.3h1.1v1.1h-1.1zM500.2 192.4h1.1v1.1h-1.1zM316.2 149.6h1.1v1.1h-1.1zM316.4 143.2h1.1v1.1h-1.1zM316.0 145.5h1.1v1.1h-1.1zM315.8 145.6h1.1v1.1h-1.1zM316.4 149.2h1.1v1.1h-1.1zM315.9 151.7h1.1v1.1h-1.1z"/>
<path fill="#ff6a72" d="M379.4 212.4h1.1v1.1h-1.1zM379.4 221.8h1.1v1.1h-1.1zM379.1 183.5h1.1v1.1h-1.1zM379.9 162.6h1.1v1.1h-1.1zM379.3 137.3h1.1v1.1h-1.1zM379.2 161.8h1.1v1.1h-1.1zM379.7 156.8h1.1v1.1h-1.1zM379.4 155.0h1.1v1.1h-1.1zM379.6 221.4h1.1v1.1h-1.1zM379.6 154.7h1.1v1.1h-1.1zM59.9 220.9h1.1v1.1h-1.1zM60.6 220.8h1.1v1.1h-1.1zM70.5 225.3h1.1v1.1h-1.1zM64.2 223.3h1.1v1.1h-1.1zM55.9 221.6h1.1v1.1h-1.1zM70.6 229.0h1.1v1.1h-1.1zM70.4 220.9h1.1v1.1h-1.1zM58.6 217.8h1.1v1.1h-1.1zM64.7 222.6h1.1v1.1h-1.1zM63.4 224.3h1.1v1.1h-1.1zM65.5 222.5h1.1v1.1h-1.1zM69.4 220.0h1.1v1.1h-1.1zM71.5 225.3h1.1v1.1h-1.1zM55.9 221.7h1.1v1.1h-1.1zM64.6 223.1h1.1v1.1h-1.1zM65.2 221.9h1.1v1.1h-1.1zM59.9 228.9h1.1v1.1h-1.1zM60.2 227.7h1.1v1.1h-1.1zM69.4 225.9h1.1v1.1h-1.1zM63.2 231.0h1.1v1.1h-1.1zM63.0 230.2h1.1v1.1h-1.1zM56.0 223.5h1.1v1.1h-1.1zM66.5 217.7h1.1v1.1h-1.1zM70.5 218.1h1.1v1.1h-1.1zM65.7 219.7h1.1v1.1h-1.1zM71.6 225.4h1.1v1.1h-1.1zM69.4 224.5h1.1v1.1h-1.1zM67.1 227.1h1.1v1.1h-1.1zM60.3 220.2h1.1v1.1h-1.1zM70.1 219.2h1.1v1.1h-1.1zM71.5 220.1h1.1v1.1h-1.1zM56.8 218.4h1.1v1.1h-1.1zM69.1 231.3h1.1v1.1h-1.1zM62.5 226.9h1.1v1.1h-1.1zM59.6 230.6h1.1v1.1h-1.1zM67.3 219.3h1.1v1.1h-1.1zM56.0 227.4h1.1v1.1h-1.1zM55.8 229.5h1.1v1.1h-1.1zM60.3 220.5h1.1v1.1h-1.1zM65.5 221.8h1.1v1.1h-1.1zM65.1 219.3h1.1v1.1h-1.1zM71.4 221.9h1.1v1.1h-1.1zM70.1 219.3h1.1v1.1h-1.1zM69.4 231.7h1.1v1.1h-1.1zM62.0 217.5h1.1v1.1h-1.1zM61.8 226.6h1.1v1.1h-1.1zM59.0 225.2h1.1v1.1h-1.1zM56.7 224.0h1.1v1.1h-1.1zM68.1 223.4h1.1v1.1h-1.1zM67.2 218.7h1.1v1.1h-1.1zM69.9 218.8h1.1v1.1h-1.1zM71.6 231.9h1.1v1.1h-1.1zM71.9 224.9h1.1v1.1h-1.1zM60.2 222.2h1.1v1.1h-1.1zM68.5 224.4h1.1v1.1h-1.1zM71.7 218.4h1.1v1.1h-1.1zM63.7 230.0h1.1v1.1h-1.1zM65.8 225.1h1.1v1.1h-1.1zM56.6 219.1h1.1v1.1h-1.1zM59.9 230.4h1.1v1.1h-1.1zM70.2 220.4h1.1v1.1h-1.1zM71.6 217.5h1.1v1.1h-1.1zM65.8 231.5h1.1v1.1h-1.1zM61.2 231.2h1.1v1.1h-1.1zM66.8 217.8h1.1v1.1h-1.1zM61.0 223.7h1.1v1.1h-1.1zM59.5 228.1h1.1v1.1h-1.1zM58.2 228.8h1.1v1.1h-1.1zM60.4 218.0h1.1v1.1h-1.1zM65.1 218.4h1.1v1.1h-1.1zM64.9 228.8h1.1v1.1h-1.1zM65.7 223.9h1.1v1.1h-1.1zM55.6 224.7h1.1v1.1h-1.1zM56.8 226.7h1.1v1.1h-1.1zM57.4 225.7h1.1v1.1h-1.1zM61.4 222.6h1.1v1.1h-1.1zM66.9 219.5h1.1v1.1h-1.1zM58.1 231.1h1.1v1.1h-1.1zM61.0 229.6h1.1v1.1h-1.1zM70.7 224.2h1.1v1.1h-1.1zM61.2 186.5h1.1v1.1h-1.1zM62.0 187.2h1.1v1.1h-1.1zM61.6 198.5h1.1v1.1h-1.1zM61.2 196.6h1.1v1.1h-1.1zM61.3 198.5h1.1v1.1h-1.1zM61.6 193.9h1.1v1.1h-1.1zM61.3 194.9h1.1v1.1h-1.1zM61.3 187.4h1.1v1.1h-1.1zM61.3 207.5h1.1v1.1h-1.1zM61.6 208.0h1.1v1.1h-1.1zM61.1 209.5h1.1v1.1h-1.1zM61.6 205.4h1.1v1.1h-1.1zM69.8 207.0h1.1v1.1h-1.1zM69.4 207.8h1.1v1.1h-1.1zM69.4 201.4h1.1v1.1h-1.1zM69.2 203.1h1.1v1.1h-1.1zM69.7 201.8h1.1v1.1h-1.1zM70.1 199.1h1.1v1.1h-1.1zM71.3 220.8h1.1v1.1h-1.1zM71.3 234.6h1.1v1.1h-1.1zM71.4 216.6h1.1v1.1h-1.1zM70.9 230.0h1.1v1.1h-1.1zM71.7 216.0h1.1v1.1h-1.1zM71.3 232.3h1.1v1.1h-1.1zM71.5 223.6h1.1v1.1h-1.1zM71.5 226.5h1.1v1.1h-1.1zM71.6 215.3h1.1v1.1h-1.1zM71.6 225.3h1.1v1.1h-1.1zM71.1 217.2h1.1v1.1h-1.1zM70.9 233.3h1.1v1.1h-1.1zM78.1 209.1h1.1v1.1h-1.1zM77.7 208.8h1.1v1.1h-1.1zM77.6 210.9h1.1v1.1h-1.1zM77.7 231.4h1.1v1.1h-1.1zM78.4 226.4h1.1v1.1h-1.1zM77.9 218.4h1.1v1.1h-1.1zM78.2 229.5h1.1v1.1h-1.1zM78.2 222.2h1.1v1.1h-1.1zM77.6 221.9h1.1v1.1h-1.1zM78.2 226.2h1.1v1.1h-1.1zM77.5 224.4h1.1v1.1h-1.1zM77.7 209.4h1.1v1.1h-1.1zM86.0 225.5h1.1v1.1h-1.1zM85.7 211.5h1.1v1.1h-1.1zM85.8 232.4h1.1v1.1h-1.1zM85.9 227.4h1.1v1.1h-1.1zM85.8 228.9h1.1v1.1h-1.1zM85.6 219.3h1.1v1.1h-1.1zM85.8 228.4h1.1v1.1h-1.1zM85.9 215.8h1.1v1.1h-1.1zM86.0 221.8h1.1v1.1h-1.1zM85.9 211.0h1.1v1.1h-1.1zM86.0 228.5h1.1v1.1h-1.1zM85.3 229.8h1.1v1.1h-1.1zM85.2 213.1h1.1v1.1h-1.1zM85.5 214.2h1.1v1.1h-1.1zM91.5 235.6h1.1v1.1h-1.1zM91.7 230.5h1.1v1.1h-1.1zM91.4 232.4h1.1v1.1h-1.1zM91.8 229.8h1.1v1.1h-1.1zM91.9 233.5h1.1v1.1h-1.1zM91.4 214.3h1.1v1.1h-1.1zM91.7 233.7h1.1v1.1h-1.1zM91.3 227.5h1.1v1.1h-1.1zM91.8 232.6h1.1v1.1h-1.1zM91.0 224.7h1.1v1.1h-1.1zM91.0 214.9h1.1v1.1h-1.1zM91.8 222.9h1.1v1.1h-1.1zM91.6 223.9h1.1v1.1h-1.1zM91.3 217.6h1.1v1.1h-1.1zM104.6 238.6h1.1v1.1h-1.1zM105.7 224.0h1.1v1.1h-1.1zM103.6 223.5h1.1v1.1h-1.1zM106.0 228.0h1.1v1.1h-1.1zM105.8 237.6h1.1v1.1h-1.1zM103.8 234.3h1.1v1.1h-1.1zM103.5 238.0h1.1v1.1h-1.1zM104.0 223.5h1.1v1.1h-1.1zM106.9 225.9h1.1v1.1h-1.1zM104.2 239.8h1.1v1.1h-1.1zM105.6 239.9h1.1v1.1h-1.1zM104.8 229.5h1.1v1.1h-1.1zM106.9 229.7h1.1v1.1h-1.1zM107.1 221.3h1.1v1.1h-1.1zM106.5 220.6h1.1v1.1h-1.1zM105.3 216.3h1.1v1.1h-1.1zM104.0 241.2h1.1v1.1h-1.1zM105.0 237.7h1.1v1.1h-1.1zM104.3 225.6h1.1v1.1h-1.1zM103.7 230.9h1.1v1.1h-1.1zM106.6 229.9h1.1v1.1h-1.1zM104.7 240.8h1.1v1.1h-1.1zM106.7 233.9h1.1v1.1h-1.1zM103.6 232.8h1.1v1.1h-1.1zM105.0 241.6h1.1v1.1h-1.1zM104.7 233.8h1.1v1.1h-1.1zM105.7 226.2h1.1v1.1h-1.1zM105.3 234.2h1.1v1.1h-1.1zM106.7 229.5h1.1v1.1h-1.1zM104.7 242.1h1.1v1.1h-1.1zM103.5 238.3h1.1v1.1h-1.1zM105.9 231.0h1.1v1.1h-1.1zM105.0 236.1h1.1v1.1h-1.1zM106.7 235.5h1.1v1.1h-1.1zM106.1 217.2h1.1v1.1h-1.1zM104.5 219.9h1.1v1.1h-1.1zM131.9 132.5h1.1v1.1h-1.1zM129.4 122.8h1.1v1.1h-1.1zM130.7 105.5h1.1v1.1h-1.1zM130.2 127.9h1.1v1.1h-1.1zM130.9 113.0h1.1v1.1h-1.1zM131.3 113.3h1.1v1.1h-1.1zM130.6 117.5h1.1v1.1h-1.1zM131.9 124.8h1.1v1.1h-1.1zM131.4 125.6h1.1v1.1h-1.1zM130.1 134.8h1.1v1.1h-1.1zM131.1 126.1h1.1v1.1h-1.1zM129.8 109.2h1.1v1.1h-1.1zM130.7 130.4h1.1v1.1h-1.1zM131.4 115.1h1.1v1.1h-1.1zM133.4 119.9h1.1v1.1h-1.1zM134.2 111.7h1.1v1.1h-1.1zM134.0 111.9h1.1v1.1h-1.1zM133.6 109.2h1.1v1.1h-1.1zM133.6 116.8h1.1v1.1h-1.1zM134.3 130.1h1.1v1.1h-1.1zM133.5 115.1h1.1v1.1h-1.1zM134.2 112.5h1.1v1.1h-1.1zM133.6 118.1h1.1v1.1h-1.1zM133.4 114.0h1.1v1.1h-1.1zM144.3 126.9h1.1v1.1h-1.1zM145.4 126.1h1.1v1.1h-1.1zM143.9 130.4h1.1v1.1h-1.1zM144.4 129.9h1.1v1.1h-1.1zM144.8 129.5h1.1v1.1h-1.1zM150.0 163.4h1.1v1.1h-1.1zM150.5 179.6h1.1v1.1h-1.1zM150.3 189.8h1.1v1.1h-1.1zM150.5 169.7h1.1v1.1h-1.1zM150.1 202.4h1.1v1.1h-1.1zM150.2 170.4h1.1v1.1h-1.1zM150.3 168.9h1.1v1.1h-1.1zM150.5 157.8h1.1v1.1h-1.1zM150.5 184.5h1.1v1.1h-1.1zM150.1 203.5h1.1v1.1h-1.1zM150.0 168.1h1.1v1.1h-1.1zM149.8 183.6h1.1v1.1h-1.1zM150.5 190.2h1.1v1.1h-1.1zM150.1 196.8h1.1v1.1h-1.1zM149.8 171.3h1.1v1.1h-1.1zM150.3 204.9h1.1v1.1h-1.1zM150.3 190.9h1.1v1.1h-1.1zM150.5 175.8h1.1v1.1h-1.1zM150.6 193.5h1.1v1.1h-1.1zM150.0 175.7h1.1v1.1h-1.1zM150.5 173.5h1.1v1.1h-1.1zM149.9 200.1h1.1v1.1h-1.1zM150.2 182.2h1.1v1.1h-1.1zM150.4 201.6h1.1v1.1h-1.1zM149.8 172.9h1.1v1.1h-1.1zM149.8 176.7h1.1v1.1h-1.1zM155.5 201.2h1.1v1.1h-1.1zM155.7 187.8h1.1v1.1h-1.1zM155.4 187.6h1.1v1.1h-1.1zM155.3 200.9h1.1v1.1h-1.1zM155.8 200.6h1.1v1.1h-1.1zM155.2 192.4h1.1v1.1h-1.1zM155.8 184.0h1.1v1.1h-1.1zM155.9 203.5h1.1v1.1h-1.1zM155.7 199.7h1.1v1.1h-1.1zM155.6 202.5h1.1v1.1h-1.1zM155.1 194.0h1.1v1.1h-1.1zM155.7 189.5h1.1v1.1h-1.1zM155.3 162.7h1.1v1.1h-1.1zM155.6 199.9h1.1v1.1h-1.1zM155.3 169.9h1.1v1.1h-1.1zM155.2 164.0h1.1v1.1h-1.1zM155.7 207.3h1.1v1.1h-1.1zM155.8 177.1h1.1v1.1h-1.1zM155.7 162.9h1.1v1.1h-1.1zM155.8 175.4h1.1v1.1h-1.1zM155.0 190.3h1.1v1.1h-1.1zM155.1 172.9h1.1v1.1h-1.1zM155.1 181.3h1.1v1.1h-1.1zM155.6 199.0h1.1v1.1h-1.1zM155.0 200.0h1.1v1.1h-1.1zM155.1 170.4h1.1v1.1h-1.1zM152.4 137.5h1.1v1.1h-1.1zM152.1 139.9h1.1v1.1h-1.1zM152.0 142.4h1.1v1.1h-1.1zM152.0 142.9h1.1v1.1h-1.1zM152.6 139.6h1.1v1.1h-1.1zM151.8 142.2h1.1v1.1h-1.1zM151.8 139.3h1.1v1.1h-1.1zM152.2 134.5h1.1v1.1h-1.1zM173.6 197.1h1.1v1.1h-1.1zM173.6 176.0h1.1v1.1h-1.1zM173.5 188.3h1.1v1.1h-1.1zM173.2 206.4h1.1v1.1h-1.1zM174.0 202.3h1.1v1.1h-1.1zM174.0 171.4h1.1v1.1h-1.1zM174.0 154.6h1.1v1.1h-1.1zM173.5 158.7h1.1v1.1h-1.1zM173.5 194.4h1.1v1.1h-1.1zM173.7 179.6h1.1v1.1h-1.1zM173.3 162.3h1.1v1.1h-1.1zM173.4 168.4h1.1v1.1h-1.1zM173.2 197.8h1.1v1.1h-1.1zM173.5 178.5h1.1v1.1h-1.1zM173.2 195.7h1.1v1.1h-1.1zM173.2 167.3h1.1v1.1h-1.1zM173.6 195.6h1.1v1.1h-1.1zM174.0 198.6h1.1v1.1h-1.1zM173.9 209.8h1.1v1.1h-1.1zM173.7 196.8h1.1v1.1h-1.1zM173.1 163.4h1.1v1.1h-1.1zM173.0 206.1h1.1v1.1h-1.1zM173.7 191.0h1.1v1.1h-1.1zM173.3 173.1h1.1v1.1h-1.1zM173.2 191.1h1.1v1.1h-1.1zM174.0 169.9h1.1v1.1h-1.1zM173.0 161.4h1.1v1.1h-1.1zM173.4 208.4h1.1v1.1h-1.1zM173.8 179.6h1.1v1.1h-1.1zM173.1 156.9h1.1v1.1h-1.1zM173.2 200.5h1.1v1.1h-1.1zM173.5 214.4h1.1v1.1h-1.1zM173.9 201.7h1.1v1.1h-1.1zM173.5 203.4h1.1v1.1h-1.1zM177.2 239.6h1.1v1.1h-1.1zM178.8 243.7h1.1v1.1h-1.1zM177.5 241.1h1.1v1.1h-1.1zM176.8 247.8h1.1v1.1h-1.1zM179.4 248.1h1.1v1.1h-1.1zM180.4 243.0h1.1v1.1h-1.1zM179.5 242.4h1.1v1.1h-1.1zM179.8 247.1h1.1v1.1h-1.1zM177.2 238.6h1.1v1.1h-1.1zM177.5 244.5h1.1v1.1h-1.1zM178.1 238.6h1.1v1.1h-1.1zM179.9 246.5h1.1v1.1h-1.1zM178.5 238.9h1.1v1.1h-1.1zM180.1 243.9h1.1v1.1h-1.1zM189.1 213.9h1.1v1.1h-1.1zM189.6 222.3h1.1v1.1h-1.1zM189.5 218.6h1.1v1.1h-1.1zM189.2 212.7h1.1v1.1h-1.1zM189.9 214.7h1.1v1.1h-1.1zM189.1 217.9h1.1v1.1h-1.1zM189.1 212.0h1.1v1.1h-1.1zM189.5 217.8h1.1v1.1h-1.1zM189.6 219.6h1.1v1.1h-1.1zM189.4 210.0h1.1v1.1h-1.1zM189.7 209.8h1.1v1.1h-1.1zM189.5 215.0h1.1v1.1h-1.1zM212.9 227.6h1.1v1.1h-1.1zM210.1 226.3h1.1v1.1h-1.1zM213.0 223.0h1.1v1.1h-1.1zM209.4 231.3h1.1v1.1h-1.1zM212.4 215.2h1.1v1.1h-1.1zM210.1 232.8h1.1v1.1h-1.1zM210.0 221.5h1.1v1.1h-1.1zM213.6 229.7h1.1v1.1h-1.1zM212.6 228.1h1.1v1.1h-1.1zM208.7 215.8h1.1v1.1h-1.1zM214.8 229.3h1.1v1.1h-1.1zM208.7 214.9h1.1v1.1h-1.1zM210.1 231.7h1.1v1.1h-1.1zM209.9 226.8h1.1v1.1h-1.1zM214.5 226.1h1.1v1.1h-1.1zM214.5 219.0h1.1v1.1h-1.1zM209.5 214.3h1.1v1.1h-1.1zM213.4 216.0h1.1v1.1h-1.1zM214.8 227.5h1.1v1.1h-1.1zM209.7 229.3h1.1v1.1h-1.1zM209.6 223.7h1.1v1.1h-1.1zM209.2 229.0h1.1v1.1h-1.1zM214.3 231.4h1.1v1.1h-1.1zM208.5 230.2h1.1v1.1h-1.1zM212.1 229.6h1.1v1.1h-1.1zM211.8 225.8h1.1v1.1h-1.1zM212.4 229.2h1.1v1.1h-1.1zM209.0 215.0h1.1v1.1h-1.1zM212.0 219.5h1.1v1.1h-1.1zM211.1 214.1h1.1v1.1h-1.1zM213.3 214.5h1.1v1.1h-1.1zM213.9 229.4h1.1v1.1h-1.1zM211.5 216.3h1.1v1.1h-1.1zM212.7 217.9h1.1v1.1h-1.1zM211.3 216.1h1.1v1.1h-1.1zM214.8 224.4h1.1v1.1h-1.1zM210.8 215.8h1.1v1.1h-1.1zM213.2 230.1h1.1v1.1h-1.1zM214.0 215.9h1.1v1.1h-1.1zM210.9 219.8h1.1v1.1h-1.1zM213.5 216.8h1.1v1.1h-1.1zM212.4 232.6h1.1v1.1h-1.1zM213.5 214.1h1.1v1.1h-1.1zM209.0 216.2h1.1v1.1h-1.1zM213.0 225.4h1.1v1.1h-1.1zM211.9 222.7h1.1v1.1h-1.1zM211.1 225.6h1.1v1.1h-1.1zM212.7 231.4h1.1v1.1h-1.1zM213.3 229.1h1.1v1.1h-1.1zM214.4 229.9h1.1v1.1h-1.1zM213.2 214.6h1.1v1.1h-1.1zM212.9 230.1h1.1v1.1h-1.1zM211.3 230.7h1.1v1.1h-1.1zM209.7 231.9h1.1v1.1h-1.1zM211.4 227.4h1.1v1.1h-1.1zM210.1 219.7h1.1v1.1h-1.1zM210.8 220.2h1.1v1.1h-1.1zM209.1 222.4h1.1v1.1h-1.1zM214.9 226.4h1.1v1.1h-1.1zM214.6 228.5h1.1v1.1h-1.1zM228.7 230.9h1.1v1.1h-1.1zM228.2 218.7h1.1v1.1h-1.1zM225.0 221.0h1.1v1.1h-1.1zM223.6 217.9h1.1v1.1h-1.1zM229.0 229.7h1.1v1.1h-1.1zM225.5 227.1h1.1v1.1h-1.1zM228.3 229.1h1.1v1.1h-1.1zM228.4 223.0h1.1v1.1h-1.1zM224.2 228.0h1.1v1.1h-1.1zM225.4 224.7h1.1v1.1h-1.1zM225.8 223.1h1.1v1.1h-1.1zM229.5 216.7h1.1v1.1h-1.1zM226.8 225.0h1.1v1.1h-1.1zM226.8 229.9h1.1v1.1h-1.1zM226.0 229.5h1.1v1.1h-1.1zM227.8 230.4h1.1v1.1h-1.1zM224.1 217.6h1.1v1.1h-1.1zM225.3 229.4h1.1v1.1h-1.1zM223.6 218.4h1.1v1.1h-1.1zM227.9 230.8h1.1v1.1h-1.1zM224.6 221.4h1.1v1.1h-1.1zM227.8 225.7h1.1v1.1h-1.1zM228.1 226.8h1.1v1.1h-1.1zM225.0 218.4h1.1v1.1h-1.1zM223.7 225.7h1.1v1.1h-1.1zM224.8 218.4h1.1v1.1h-1.1zM229.5 224.9h1.1v1.1h-1.1zM227.2 225.2h1.1v1.1h-1.1zM227.2 225.8h1.1v1.1h-1.1zM225.4 215.1h1.1v1.1h-1.1zM223.9 214.2h1.1v1.1h-1.1zM225.7 216.4h1.1v1.1h-1.1zM224.2 222.4h1.1v1.1h-1.1zM229.5 225.7h1.1v1.1h-1.1zM225.2 227.1h1.1v1.1h-1.1zM224.6 215.7h1.1v1.1h-1.1zM225.4 221.0h1.1v1.1h-1.1zM227.8 221.6h1.1v1.1h-1.1zM228.0 215.6h1.1v1.1h-1.1zM229.3 219.8h1.1v1.1h-1.1zM228.7 214.5h1.1v1.1h-1.1zM228.6 217.8h1.1v1.1h-1.1zM228.8 227.6h1.1v1.1h-1.1zM227.7 218.7h1.1v1.1h-1.1zM223.6 217.2h1.1v1.1h-1.1zM229.1 216.7h1.1v1.1h-1.1zM227.6 224.0h1.1v1.1h-1.1zM227.6 217.1h1.1v1.1h-1.1zM224.4 215.7h1.1v1.1h-1.1zM229.6 220.5h1.1v1.1h-1.1zM207.0 222.0h1.1v1.1h-1.1zM205.7 214.9h1.1v1.1h-1.1zM205.0 225.9h1.1v1.1h-1.1zM205.4 227.5h1.1v1.1h-1.1zM206.1 224.1h1.1v1.1h-1.1zM205.4 225.0h1.1v1.1h-1.1zM205.8 219.1h1.1v1.1h-1.1zM206.6 215.6h1.1v1.1h-1.1zM205.7 225.1h1.1v1.1h-1.1zM205.9 219.3h1.1v1.1h-1.1zM207.3 217.1h1.1v1.1h-1.1zM205.6 217.1h1.1v1.1h-1.1zM206.2 219.1h1.1v1.1h-1.1zM206.9 220.6h1.1v1.1h-1.1zM207.6 214.7h1.1v1.1h-1.1zM207.0 225.7h1.1v1.1h-1.1zM221.0 167.0h1.1v1.1h-1.1zM221.2 172.8h1.1v1.1h-1.1zM221.3 212.7h1.1v1.1h-1.1zM220.9 172.9h1.1v1.1h-1.1zM221.3 176.6h1.1v1.1h-1.1zM221.0 194.5h1.1v1.1h-1.1zM220.9 169.5h1.1v1.1h-1.1zM221.2 196.4h1.1v1.1h-1.1zM221.7 202.2h1.1v1.1h-1.1zM220.9 179.9h1.1v1.1h-1.1zM221.5 202.7h1.1v1.1h-1.1zM221.7 229.5h1.1v1.1h-1.1zM221.7 172.4h1.1v1.1h-1.1zM221.7 200.2h1.1v1.1h-1.1zM221.0 176.4h1.1v1.1h-1.1zM221.7 179.2h1.1v1.1h-1.1zM220.9 182.8h1.1v1.1h-1.1zM221.7 195.9h1.1v1.1h-1.1zM221.5 170.0h1.1v1.1h-1.1zM221.3 186.3h1.1v1.1h-1.1zM221.0 209.4h1.1v1.1h-1.1zM221.2 173.0h1.1v1.1h-1.1zM221.8 197.3h1.1v1.1h-1.1zM221.0 165.7h1.1v1.1h-1.1zM221.5 199.5h1.1v1.1h-1.1zM220.8 196.5h1.1v1.1h-1.1zM221.5 201.0h1.1v1.1h-1.1zM221.0 198.4h1.1v1.1h-1.1zM221.4 208.6h1.1v1.1h-1.1zM220.9 218.8h1.1v1.1h-1.1zM221.7 214.6h1.1v1.1h-1.1zM221.7 189.6h1.1v1.1h-1.1zM221.7 177.2h1.1v1.1h-1.1zM221.0 205.1h1.1v1.1h-1.1zM221.7 170.5h1.1v1.1h-1.1zM221.0 167.4h1.1v1.1h-1.1zM221.2 174.4h1.1v1.1h-1.1zM221.0 215.2h1.1v1.1h-1.1zM221.4 227.9h1.1v1.1h-1.1zM221.2 210.5h1.1v1.1h-1.1zM247.5 220.9h1.1v1.1h-1.1zM247.7 210.5h1.1v1.1h-1.1zM248.0 220.9h1.1v1.1h-1.1zM248.0 221.8h1.1v1.1h-1.1zM248.1 204.8h1.1v1.1h-1.1zM248.3 204.4h1.1v1.1h-1.1zM248.5 210.0h1.1v1.1h-1.1zM247.7 221.1h1.1v1.1h-1.1zM247.8 209.0h1.1v1.1h-1.1zM247.8 214.7h1.1v1.1h-1.1zM247.5 208.2h1.1v1.1h-1.1zM247.7 218.2h1.1v1.1h-1.1zM247.5 213.4h1.1v1.1h-1.1zM247.8 210.0h1.1v1.1h-1.1zM259.0 209.3h1.1v1.1h-1.1zM257.5 203.1h1.1v1.1h-1.1zM257.4 212.5h1.1v1.1h-1.1zM257.5 201.8h1.1v1.1h-1.1zM258.8 207.6h1.1v1.1h-1.1zM260.1 200.7h1.1v1.1h-1.1zM257.8 202.2h1.1v1.1h-1.1zM259.0 205.9h1.1v1.1h-1.1zM258.4 211.5h1.1v1.1h-1.1zM259.3 211.2h1.1v1.1h-1.1zM260.3 203.5h1.1v1.1h-1.1zM260.3 205.3h1.1v1.1h-1.1zM257.2 211.9h1.1v1.1h-1.1zM257.4 200.2h1.1v1.1h-1.1zM258.0 203.8h1.1v1.1h-1.1zM260.4 211.3h1.1v1.1h-1.1zM255.4 243.9h1.1v1.1h-1.1zM256.8 248.6h1.1v1.1h-1.1zM256.2 243.6h1.1v1.1h-1.1zM254.4 239.1h1.1v1.1h-1.1zM256.2 244.8h1.1v1.1h-1.1zM256.6 250.1h1.1v1.1h-1.1zM257.2 238.2h1.1v1.1h-1.1zM254.3 250.1h1.1v1.1h-1.1zM255.9 238.0h1.1v1.1h-1.1zM256.3 239.3h1.1v1.1h-1.1zM254.8 241.2h1.1v1.1h-1.1zM255.7 246.4h1.1v1.1h-1.1zM254.2 247.5h1.1v1.1h-1.1zM256.1 242.9h1.1v1.1h-1.1zM256.2 248.4h1.1v1.1h-1.1zM254.0 243.0h1.1v1.1h-1.1zM256.2 246.9h1.1v1.1h-1.1zM256.1 238.0h1.1v1.1h-1.1zM257.2 248.2h1.1v1.1h-1.1zM254.8 242.2h1.1v1.1h-1.1zM257.2 238.5h1.1v1.1h-1.1zM255.4 251.2h1.1v1.1h-1.1zM306.1 230.0h1.1v1.1h-1.1zM305.3 232.7h1.1v1.1h-1.1zM305.0 241.3h1.1v1.1h-1.1zM302.6 229.7h1.1v1.1h-1.1zM303.0 230.7h1.1v1.1h-1.1zM302.2 227.9h1.1v1.1h-1.1zM303.8 234.0h1.1v1.1h-1.1zM302.4 237.4h1.1v1.1h-1.1zM306.2 237.3h1.1v1.1h-1.1zM303.6 240.0h1.1v1.1h-1.1zM304.0 228.7h1.1v1.1h-1.1zM304.2 225.4h1.1v1.1h-1.1zM305.0 228.4h1.1v1.1h-1.1zM303.7 245.5h1.1v1.1h-1.1zM305.5 242.8h1.1v1.1h-1.1zM304.9 238.5h1.1v1.1h-1.1zM305.2 245.6h1.1v1.1h-1.1zM302.9 241.3h1.1v1.1h-1.1zM303.4 230.4h1.1v1.1h-1.1zM305.7 237.8h1.1v1.1h-1.1zM305.8 243.6h1.1v1.1h-1.1zM304.6 229.2h1.1v1.1h-1.1zM302.1 236.4h1.1v1.1h-1.1zM305.3 230.8h1.1v1.1h-1.1zM302.3 225.1h1.1v1.1h-1.1zM302.8 239.8h1.1v1.1h-1.1zM302.0 229.9h1.1v1.1h-1.1zM303.2 240.1h1.1v1.1h-1.1zM306.4 225.4h1.1v1.1h-1.1zM302.5 244.9h1.1v1.1h-1.1zM306.4 228.2h1.1v1.1h-1.1zM303.5 236.1h1.1v1.1h-1.1zM303.4 233.9h1.1v1.1h-1.1zM304.2 230.5h1.1v1.1h-1.1zM302.2 226.8h1.1v1.1h-1.1zM302.7 226.9h1.1v1.1h-1.1zM304.8 239.8h1.1v1.1h-1.1zM303.2 241.9h1.1v1.1h-1.1zM305.3 232.3h1.1v1.1h-1.1zM304.2 229.0h1.1v1.1h-1.1zM306.2 236.9h1.1v1.1h-1.1zM302.2 228.3h1.1v1.1h-1.1zM305.1 233.2h1.1v1.1h-1.1zM305.2 229.9h1.1v1.1h-1.1zM305.6 242.1h1.1v1.1h-1.1zM302.4 237.5h1.1v1.1h-1.1zM302.9 240.1h1.1v1.1h-1.1zM305.6 241.9h1.1v1.1h-1.1zM303.0 227.0h1.1v1.1h-1.1zM305.0 237.0h1.1v1.1h-1.1zM302.6 229.1h1.1v1.1h-1.1zM304.6 227.3h1.1v1.1h-1.1zM304.9 230.1h1.1v1.1h-1.1zM303.2 234.0h1.1v1.1h-1.1zM304.4 240.4h1.1v1.1h-1.1zM302.1 240.4h1.1v1.1h-1.1zM303.0 231.2h1.1v1.1h-1.1zM304.9 239.7h1.1v1.1h-1.1zM304.8 244.2h1.1v1.1h-1.1zM302.9 231.6h1.1v1.1h-1.1zM304.2 212.4h1.1v1.1h-1.1zM303.7 211.8h1.1v1.1h-1.1zM304.3 222.1h1.1v1.1h-1.1zM304.2 224.3h1.1v1.1h-1.1zM304.3 213.3h1.1v1.1h-1.1zM303.8 220.3h1.1v1.1h-1.1zM303.6 218.4h1.1v1.1h-1.1zM303.6 208.8h1.1v1.1h-1.1zM304.0 210.6h1.1v1.1h-1.1zM304.4 222.9h1.1v1.1h-1.1zM310.8 237.1h1.1v1.1h-1.1zM309.5 245.2h1.1v1.1h-1.1zM311.1 241.4h1.1v1.1h-1.1zM311.9 245.8h1.1v1.1h-1.1zM312.1 234.8h1.1v1.1h-1.1zM309.3 242.1h1.1v1.1h-1.1zM310.9 238.6h1.1v1.1h-1.1zM311.7 237.8h1.1v1.1h-1.1zM310.3 244.4h1.1v1.1h-1.1zM311.8 252.0h1.1v1.1h-1.1zM310.5 243.6h1.1v1.1h-1.1zM312.7 256.3h1.1v1.1h-1.1zM311.5 234.7h1.1v1.1h-1.1zM310.8 248.6h1.1v1.1h-1.1zM310.1 233.0h1.1v1.1h-1.1zM312.9 255.7h1.1v1.1h-1.1zM309.5 244.1h1.1v1.1h-1.1zM311.5 239.8h1.1v1.1h-1.1zM309.3 251.5h1.1v1.1h-1.1zM312.1 243.4h1.1v1.1h-1.1zM309.3 242.2h1.1v1.1h-1.1zM309.4 257.1h1.1v1.1h-1.1zM309.2 239.5h1.1v1.1h-1.1zM312.1 235.5h1.1v1.1h-1.1zM309.4 233.8h1.1v1.1h-1.1zM309.7 245.8h1.1v1.1h-1.1zM312.3 236.4h1.1v1.1h-1.1zM309.7 251.9h1.1v1.1h-1.1zM310.7 240.8h1.1v1.1h-1.1zM309.5 238.3h1.1v1.1h-1.1zM312.9 235.0h1.1v1.1h-1.1zM310.0 251.3h1.1v1.1h-1.1zM312.6 255.5h1.1v1.1h-1.1zM310.9 256.9h1.1v1.1h-1.1zM311.4 239.5h1.1v1.1h-1.1zM310.9 250.6h1.1v1.1h-1.1zM311.9 235.4h1.1v1.1h-1.1zM309.8 256.9h1.1v1.1h-1.1zM309.4 253.1h1.1v1.1h-1.1zM310.4 238.4h1.1v1.1h-1.1zM310.0 244.2h1.1v1.1h-1.1zM313.0 235.9h1.1v1.1h-1.1zM312.4 240.4h1.1v1.1h-1.1zM309.7 251.4h1.1v1.1h-1.1zM310.4 236.9h1.1v1.1h-1.1zM310.7 253.4h1.1v1.1h-1.1zM312.5 246.9h1.1v1.1h-1.1zM309.0 251.8h1.1v1.1h-1.1zM311.4 255.4h1.1v1.1h-1.1zM312.8 240.5h1.1v1.1h-1.1zM312.4 253.3h1.1v1.1h-1.1zM310.1 241.5h1.1v1.1h-1.1zM310.5 241.2h1.1v1.1h-1.1zM310.5 234.9h1.1v1.1h-1.1zM309.9 255.6h1.1v1.1h-1.1zM317.2 244.4h1.1v1.1h-1.1zM319.1 246.7h1.1v1.1h-1.1zM316.6 249.9h1.1v1.1h-1.1zM318.7 251.3h1.1v1.1h-1.1zM318.4 246.7h1.1v1.1h-1.1zM318.8 236.9h1.1v1.1h-1.1zM318.2 239.4h1.1v1.1h-1.1zM318.9 234.6h1.1v1.1h-1.1zM317.7 238.6h1.1v1.1h-1.1zM318.8 238.7h1.1v1.1h-1.1zM318.9 248.5h1.1v1.1h-1.1zM319.0 234.7h1.1v1.1h-1.1zM319.3 246.5h1.1v1.1h-1.1zM318.2 244.7h1.1v1.1h-1.1zM315.8 249.0h1.1v1.1h-1.1zM317.7 240.9h1.1v1.1h-1.1zM316.9 247.3h1.1v1.1h-1.1zM318.7 249.0h1.1v1.1h-1.1zM316.4 238.6h1.1v1.1h-1.1zM316.6 234.0h1.1v1.1h-1.1zM316.9 232.5h1.1v1.1h-1.1zM318.7 236.4h1.1v1.1h-1.1zM315.9 233.3h1.1v1.1h-1.1zM318.5 235.9h1.1v1.1h-1.1zM317.4 239.8h1.1v1.1h-1.1zM318.7 250.6h1.1v1.1h-1.1zM316.8 244.3h1.1v1.1h-1.1zM319.1 241.2h1.1v1.1h-1.1zM319.1 246.3h1.1v1.1h-1.1zM316.8 249.0h1.1v1.1h-1.1zM321.1 202.0h1.1v1.1h-1.1zM321.1 215.8h1.1v1.1h-1.1zM321.0 209.2h1.1v1.1h-1.1zM320.9 216.7h1.1v1.1h-1.1zM321.2 204.0h1.1v1.1h-1.1zM320.9 206.9h1.1v1.1h-1.1zM321.5 213.2h1.1v1.1h-1.1zM320.6 217.4h1.1v1.1h-1.1zM320.5 211.2h1.1v1.1h-1.1zM320.9 213.6h1.1v1.1h-1.1zM320.9 201.8h1.1v1.1h-1.1zM321.0 215.6h1.1v1.1h-1.1zM321.3 206.8h1.1v1.1h-1.1zM320.7 214.2h1.1v1.1h-1.1zM315.8 219.1h1.1v1.1h-1.1zM316.0 234.8h1.1v1.1h-1.1zM314.8 222.4h1.1v1.1h-1.1zM315.5 233.6h1.1v1.1h-1.1zM314.1 220.8h1.1v1.1h-1.1zM314.5 229.6h1.1v1.1h-1.1zM314.1 225.8h1.1v1.1h-1.1zM315.0 228.3h1.1v1.1h-1.1zM314.0 234.1h1.1v1.1h-1.1zM316.3 226.1h1.1v1.1h-1.1zM315.7 218.4h1.1v1.1h-1.1zM316.1 225.9h1.1v1.1h-1.1zM315.7 232.3h1.1v1.1h-1.1zM314.6 233.5h1.1v1.1h-1.1zM314.2 215.2h1.1v1.1h-1.1zM315.0 232.9h1.1v1.1h-1.1zM316.0 234.1h1.1v1.1h-1.1zM315.0 233.6h1.1v1.1h-1.1zM315.1 217.6h1.1v1.1h-1.1zM315.3 231.0h1.1v1.1h-1.1zM386.2 128.9h1.1v1.1h-1.1zM386.1 119.7h1.1v1.1h-1.1zM386.2 126.4h1.1v1.1h-1.1zM386.3 114.6h1.1v1.1h-1.1zM385.8 121.5h1.1v1.1h-1.1zM386.5 133.0h1.1v1.1h-1.1zM392.9 110.9h1.1v1.1h-1.1zM394.0 110.6h1.1v1.1h-1.1zM394.4 113.2h1.1v1.1h-1.1zM392.7 112.0h1.1v1.1h-1.1zM394.9 112.6h1.1v1.1h-1.1zM394.8 112.5h1.1v1.1h-1.1zM393.0 112.9h1.1v1.1h-1.1zM395.7 110.2h1.1v1.1h-1.1zM401.4 117.8h1.1v1.1h-1.1zM400.6 116.3h1.1v1.1h-1.1zM401.3 118.7h1.1v1.1h-1.1zM400.6 117.8h1.1v1.1h-1.1zM409.4 127.6h1.1v1.1h-1.1zM408.9 126.1h1.1v1.1h-1.1zM408.8 122.3h1.1v1.1h-1.1zM408.7 123.7h1.1v1.1h-1.1zM409.4 123.0h1.1v1.1h-1.1zM408.7 122.4h1.1v1.1h-1.1zM404.6 192.9h1.1v1.1h-1.1zM404.8 207.2h1.1v1.1h-1.1zM404.7 206.1h1.1v1.1h-1.1zM404.9 228.8h1.1v1.1h-1.1zM405.0 227.5h1.1v1.1h-1.1zM405.0 193.1h1.1v1.1h-1.1zM405.1 190.7h1.1v1.1h-1.1zM404.7 187.4h1.1v1.1h-1.1zM405.2 228.5h1.1v1.1h-1.1zM404.9 200.3h1.1v1.1h-1.1zM404.9 200.2h1.1v1.1h-1.1zM405.2 202.0h1.1v1.1h-1.1zM404.7 223.8h1.1v1.1h-1.1zM405.1 184.3h1.1v1.1h-1.1zM405.3 217.5h1.1v1.1h-1.1zM404.9 213.0h1.1v1.1h-1.1zM405.4 202.5h1.1v1.1h-1.1zM404.9 197.7h1.1v1.1h-1.1zM405.1 214.5h1.1v1.1h-1.1zM405.2 227.7h1.1v1.1h-1.1zM404.6 200.8h1.1v1.1h-1.1zM405.4 220.4h1.1v1.1h-1.1zM405.1 215.2h1.1v1.1h-1.1zM404.8 227.5h1.1v1.1h-1.1zM405.0 202.5h1.1v1.1h-1.1zM404.7 189.3h1.1v1.1h-1.1zM412.1 224.0h1.1v1.1h-1.1zM411.2 209.7h1.1v1.1h-1.1zM411.7 214.9h1.1v1.1h-1.1zM411.6 226.9h1.1v1.1h-1.1zM411.5 216.0h1.1v1.1h-1.1zM412.1 219.2h1.1v1.1h-1.1zM411.7 210.0h1.1v1.1h-1.1zM411.6 218.3h1.1v1.1h-1.1zM412.0 207.8h1.1v1.1h-1.1zM411.6 211.6h1.1v1.1h-1.1zM411.6 227.4h1.1v1.1h-1.1zM411.7 208.3h1.1v1.1h-1.1zM411.5 224.6h1.1v1.1h-1.1zM411.4 220.7h1.1v1.1h-1.1zM411.2 205.8h1.1v1.1h-1.1zM411.3 224.2h1.1v1.1h-1.1zM434.5 202.1h1.1v1.1h-1.1zM433.9 203.2h1.1v1.1h-1.1zM438.3 217.3h1.1v1.1h-1.1zM439.4 224.4h1.1v1.1h-1.1zM437.1 223.6h1.1v1.1h-1.1zM434.1 223.7h1.1v1.1h-1.1zM436.3 201.0h1.1v1.1h-1.1zM438.4 221.6h1.1v1.1h-1.1zM436.0 197.9h1.1v1.1h-1.1zM439.2 218.4h1.1v1.1h-1.1zM437.4 225.3h1.1v1.1h-1.1zM433.7 196.7h1.1v1.1h-1.1zM434.3 195.7h1.1v1.1h-1.1zM438.1 214.5h1.1v1.1h-1.1zM434.2 200.0h1.1v1.1h-1.1zM434.7 213.9h1.1v1.1h-1.1zM437.9 225.1h1.1v1.1h-1.1zM435.8 225.3h1.1v1.1h-1.1zM436.3 207.1h1.1v1.1h-1.1zM435.1 202.2h1.1v1.1h-1.1zM439.8 225.8h1.1v1.1h-1.1zM438.1 200.4h1.1v1.1h-1.1zM434.7 199.7h1.1v1.1h-1.1zM435.8 217.9h1.1v1.1h-1.1zM433.9 211.4h1.1v1.1h-1.1zM437.9 196.0h1.1v1.1h-1.1zM436.4 219.5h1.1v1.1h-1.1zM437.2 209.0h1.1v1.1h-1.1zM439.2 213.6h1.1v1.1h-1.1zM435.7 207.3h1.1v1.1h-1.1zM439.6 221.6h1.1v1.1h-1.1zM439.4 212.4h1.1v1.1h-1.1zM434.4 200.4h1.1v1.1h-1.1zM436.0 216.4h1.1v1.1h-1.1zM433.5 219.9h1.1v1.1h-1.1zM438.6 211.0h1.1v1.1h-1.1zM433.5 219.7h1.1v1.1h-1.1zM436.2 215.7h1.1v1.1h-1.1zM437.2 217.6h1.1v1.1h-1.1zM436.2 224.8h1.1v1.1h-1.1zM444.1 186.3h1.1v1.1h-1.1zM443.3 180.4h1.1v1.1h-1.1zM442.7 179.9h1.1v1.1h-1.1zM444.0 185.0h1.1v1.1h-1.1zM443.7 185.3h1.1v1.1h-1.1zM444.2 184.0h1.1v1.1h-1.1zM442.6 184.6h1.1v1.1h-1.1zM442.4 183.2h1.1v1.1h-1.1zM442.2 185.6h1.1v1.1h-1.1zM443.0 180.0h1.1v1.1h-1.1zM444.0 178.1h1.1v1.1h-1.1zM444.0 184.6h1.1v1.1h-1.1zM441.9 180.0h1.1v1.1h-1.1zM444.4 180.9h1.1v1.1h-1.1zM444.5 178.1h1.1v1.1h-1.1zM446.6 176.2h1.1v1.1h-1.1zM445.7 176.3h1.1v1.1h-1.1zM442.7 176.3h1.1v1.1h-1.1zM446.2 178.2h1.1v1.1h-1.1zM445.4 177.2h1.1v1.1h-1.1zM445.4 179.4h1.1v1.1h-1.1zM441.6 178.5h1.1v1.1h-1.1zM449.0 191.6h1.1v1.1h-1.1zM448.9 193.2h1.1v1.1h-1.1zM448.2 209.9h1.1v1.1h-1.1zM449.6 211.9h1.1v1.1h-1.1zM448.3 200.9h1.1v1.1h-1.1zM449.2 205.7h1.1v1.1h-1.1zM448.4 208.5h1.1v1.1h-1.1zM448.3 210.7h1.1v1.1h-1.1zM454.9 189.1h1.1v1.1h-1.1zM455.6 189.8h1.1v1.1h-1.1zM455.4 187.4h1.1v1.1h-1.1zM456.2 200.1h1.1v1.1h-1.1zM455.6 189.4h1.1v1.1h-1.1zM455.3 195.8h1.1v1.1h-1.1zM454.4 207.2h1.1v1.1h-1.1zM453.9 198.4h1.1v1.1h-1.1zM462.6 208.1h1.1v1.1h-1.1zM464.5 186.9h1.1v1.1h-1.1zM463.5 198.2h1.1v1.1h-1.1zM464.1 205.0h1.1v1.1h-1.1zM463.2 210.3h1.1v1.1h-1.1zM462.8 189.6h1.1v1.1h-1.1zM464.4 189.1h1.1v1.1h-1.1zM462.8 199.0h1.1v1.1h-1.1zM470.1 190.3h1.1v1.1h-1.1zM471.5 198.3h1.1v1.1h-1.1zM471.2 192.5h1.1v1.1h-1.1zM471.5 191.8h1.1v1.1h-1.1zM471.5 201.9h1.1v1.1h-1.1zM471.6 206.1h1.1v1.1h-1.1zM470.8 199.9h1.1v1.1h-1.1zM471.4 197.5h1.1v1.1h-1.1zM476.8 209.8h1.1v1.1h-1.1zM478.5 203.7h1.1v1.1h-1.1zM478.4 192.0h1.1v1.1h-1.1zM477.7 207.4h1.1v1.1h-1.1zM478.9 210.0h1.1v1.1h-1.1zM477.0 203.8h1.1v1.1h-1.1zM477.9 196.5h1.1v1.1h-1.1zM477.0 189.6h1.1v1.1h-1.1zM484.4 198.8h1.1v1.1h-1.1zM483.9 195.6h1.1v1.1h-1.1zM484.6 205.8h1.1v1.1h-1.1zM484.7 190.2h1.1v1.1h-1.1zM485.4 195.6h1.1v1.1h-1.1zM485.6 211.5h1.1v1.1h-1.1zM483.6 201.1h1.1v1.1h-1.1zM485.6 196.0h1.1v1.1h-1.1zM491.6 194.2h1.1v1.1h-1.1zM490.4 191.3h1.1v1.1h-1.1zM490.6 193.4h1.1v1.1h-1.1zM491.8 200.6h1.1v1.1h-1.1zM492.6 203.8h1.1v1.1h-1.1zM491.2 210.7h1.1v1.1h-1.1zM491.8 200.1h1.1v1.1h-1.1zM492.4 203.4h1.1v1.1h-1.1zM498.2 201.7h1.1v1.1h-1.1zM498.0 211.2h1.1v1.1h-1.1zM497.9 211.3h1.1v1.1h-1.1zM497.5 186.3h1.1v1.1h-1.1zM498.6 191.3h1.1v1.1h-1.1zM498.5 189.1h1.1v1.1h-1.1zM499.3 203.4h1.1v1.1h-1.1zM498.9 210.1h1.1v1.1h-1.1zM506.7 203.6h1.1v1.1h-1.1zM506.0 186.0h1.1v1.1h-1.1zM504.4 197.1h1.1v1.1h-1.1zM506.6 194.1h1.1v1.1h-1.1zM505.7 186.2h1.1v1.1h-1.1zM505.3 209.5h1.1v1.1h-1.1zM505.7 207.4h1.1v1.1h-1.1zM504.3 191.3h1.1v1.1h-1.1zM487.2 257.3h1.1v1.1h-1.1zM487.1 260.1h1.1v1.1h-1.1zM487.3 258.7h1.1v1.1h-1.1zM487.5 243.1h1.1v1.1h-1.1zM488.0 245.3h1.1v1.1h-1.1zM487.7 235.9h1.1v1.1h-1.1zM487.8 261.5h1.1v1.1h-1.1zM487.1 254.9h1.1v1.1h-1.1zM487.3 238.1h1.1v1.1h-1.1zM487.4 252.5h1.1v1.1h-1.1zM488.0 261.8h1.1v1.1h-1.1zM488.0 251.5h1.1v1.1h-1.1zM487.7 238.5h1.1v1.1h-1.1zM487.7 249.4h1.1v1.1h-1.1zM487.4 259.2h1.1v1.1h-1.1zM487.3 238.0h1.1v1.1h-1.1zM487.2 238.2h1.1v1.1h-1.1zM487.6 256.4h1.1v1.1h-1.1zM494.7 243.6h1.1v1.1h-1.1zM495.1 245.0h1.1v1.1h-1.1zM494.9 244.6h1.1v1.1h-1.1zM494.5 232.5h1.1v1.1h-1.1zM494.9 236.9h1.1v1.1h-1.1zM495.3 237.0h1.1v1.1h-1.1zM495.3 237.0h1.1v1.1h-1.1zM494.6 242.9h1.1v1.1h-1.1zM494.9 239.4h1.1v1.1h-1.1zM495.3 236.6h1.1v1.1h-1.1zM495.2 251.9h1.1v1.1h-1.1zM495.0 243.6h1.1v1.1h-1.1zM495.4 246.1h1.1v1.1h-1.1zM494.7 232.7h1.1v1.1h-1.1zM494.6 239.3h1.1v1.1h-1.1zM494.6 247.2h1.1v1.1h-1.1zM501.7 240.8h1.1v1.1h-1.1zM501.8 254.6h1.1v1.1h-1.1zM501.5 237.4h1.1v1.1h-1.1zM501.6 241.1h1.1v1.1h-1.1zM502.2 249.5h1.1v1.1h-1.1zM501.7 237.7h1.1v1.1h-1.1zM501.3 236.7h1.1v1.1h-1.1zM502.1 248.3h1.1v1.1h-1.1zM501.5 247.8h1.1v1.1h-1.1zM501.4 245.2h1.1v1.1h-1.1zM501.6 236.3h1.1v1.1h-1.1zM502.0 249.8h1.1v1.1h-1.1zM501.8 237.7h1.1v1.1h-1.1zM502.0 243.5h1.1v1.1h-1.1zM486.7 247.8h1.1v1.1h-1.1zM486.9 246.1h1.1v1.1h-1.1zM486.2 254.0h1.1v1.1h-1.1zM486.2 247.8h1.1v1.1h-1.1zM486.7 265.9h1.1v1.1h-1.1zM486.3 251.3h1.1v1.1h-1.1zM486.7 250.5h1.1v1.1h-1.1zM486.4 259.8h1.1v1.1h-1.1zM486.4 249.1h1.1v1.1h-1.1zM486.1 256.9h1.1v1.1h-1.1zM174.0 165.6h1.1v1.1h-1.1zM173.4 165.0h1.1v1.1h-1.1zM173.7 179.6h1.1v1.1h-1.1zM173.7 166.1h1.1v1.1h-1.1zM173.6 170.6h1.1v1.1h-1.1zM173.2 188.0h1.1v1.1h-1.1zM174.0 181.1h1.1v1.1h-1.1zM174.0 168.6h1.1v1.1h-1.1zM173.8 159.6h1.1v1.1h-1.1zM173.7 178.6h1.1v1.1h-1.1zM173.9 183.3h1.1v1.1h-1.1zM173.9 160.7h1.1v1.1h-1.1zM173.8 169.0h1.1v1.1h-1.1zM173.3 164.7h1.1v1.1h-1.1zM173.8 183.7h1.1v1.1h-1.1zM173.8 176.8h1.1v1.1h-1.1zM247.7 216.2h1.1v1.1h-1.1zM247.3 211.2h1.1v1.1h-1.1zM248.7 219.0h1.1v1.1h-1.1zM246.9 205.2h1.1v1.1h-1.1zM248.0 219.0h1.1v1.1h-1.1zM247.3 217.0h1.1v1.1h-1.1zM247.8 210.9h1.1v1.1h-1.1zM249.0 200.9h1.1v1.1h-1.1zM247.7 202.8h1.1v1.1h-1.1zM247.2 205.9h1.1v1.1h-1.1zM248.5 211.6h1.1v1.1h-1.1zM247.2 216.2h1.1v1.1h-1.1zM248.1 202.6h1.1v1.1h-1.1zM248.8 216.6h1.1v1.1h-1.1zM247.4 219.0h1.1v1.1h-1.1zM248.8 204.3h1.1v1.1h-1.1zM246.9 217.6h1.1v1.1h-1.1zM248.8 201.6h1.1v1.1h-1.1zM248.7 215.6h1.1v1.1h-1.1zM248.4 216.8h1.1v1.1h-1.1zM249.2 206.4h1.1v1.1h-1.1zM248.8 218.7h1.1v1.1h-1.1zM247.6 213.7h1.1v1.1h-1.1zM248.5 217.2h1.1v1.1h-1.1zM248.2 205.3h1.1v1.1h-1.1zM247.5 210.8h1.1v1.1h-1.1zM255.5 247.1h1.1v1.1h-1.1zM258.0 234.5h1.1v1.1h-1.1zM257.4 243.3h1.1v1.1h-1.1zM255.4 245.5h1.1v1.1h-1.1zM257.6 235.8h1.1v1.1h-1.1zM255.3 235.3h1.1v1.1h-1.1zM257.6 239.1h1.1v1.1h-1.1zM257.8 232.8h1.1v1.1h-1.1zM255.4 236.7h1.1v1.1h-1.1zM258.0 232.8h1.1v1.1h-1.1zM255.2 244.9h1.1v1.1h-1.1zM255.3 243.2h1.1v1.1h-1.1zM255.3 234.6h1.1v1.1h-1.1zM257.3 247.4h1.1v1.1h-1.1zM256.4 238.7h1.1v1.1h-1.1zM255.1 236.5h1.1v1.1h-1.1zM255.8 245.7h1.1v1.1h-1.1zM257.4 245.6h1.1v1.1h-1.1zM256.8 243.8h1.1v1.1h-1.1zM255.4 237.4h1.1v1.1h-1.1zM257.9 200.4h1.1v1.1h-1.1zM258.9 199.6h1.1v1.1h-1.1zM257.9 200.4h1.1v1.1h-1.1zM259.2 204.7h1.1v1.1h-1.1zM258.3 201.6h1.1v1.1h-1.1zM259.3 208.3h1.1v1.1h-1.1zM258.2 203.8h1.1v1.1h-1.1zM259.2 200.1h1.1v1.1h-1.1zM257.8 198.2h1.1v1.1h-1.1zM258.4 206.2h1.1v1.1h-1.1zM405.7 172.4h1.1v1.1h-1.1zM405.9 168.3h1.1v1.1h-1.1zM405.5 150.8h1.1v1.1h-1.1zM406.2 196.9h1.1v1.1h-1.1zM405.6 173.3h1.1v1.1h-1.1zM405.6 152.9h1.1v1.1h-1.1zM406.2 191.8h1.1v1.1h-1.1zM405.5 162.7h1.1v1.1h-1.1zM406.0 189.8h1.1v1.1h-1.1zM405.8 169.4h1.1v1.1h-1.1zM405.5 189.9h1.1v1.1h-1.1zM406.2 192.9h1.1v1.1h-1.1zM465.8 213.7h1.1v1.1h-1.1zM465.4 214.9h1.1v1.1h-1.1zM466.4 191.0h1.1v1.1h-1.1zM466.5 212.6h1.1v1.1h-1.1zM464.9 203.4h1.1v1.1h-1.1zM465.9 218.9h1.1v1.1h-1.1zM465.4 207.3h1.1v1.1h-1.1zM466.4 215.1h1.1v1.1h-1.1zM472.2 203.0h1.1v1.1h-1.1zM471.6 195.7h1.1v1.1h-1.1zM471.7 212.9h1.1v1.1h-1.1zM471.6 210.1h1.1v1.1h-1.1zM470.7 215.2h1.1v1.1h-1.1zM472.3 217.4h1.1v1.1h-1.1zM471.4 212.1h1.1v1.1h-1.1zM470.9 215.5h1.1v1.1h-1.1zM478.1 201.8h1.1v1.1h-1.1zM476.6 205.0h1.1v1.1h-1.1zM477.5 216.1h1.1v1.1h-1.1zM477.4 191.0h1.1v1.1h-1.1zM478.0 192.2h1.1v1.1h-1.1zM478.0 195.9h1.1v1.1h-1.1zM477.1 216.8h1.1v1.1h-1.1zM476.7 195.1h1.1v1.1h-1.1zM484.7 221.2h1.1v1.1h-1.1zM485.4 220.1h1.1v1.1h-1.1zM485.6 213.8h1.1v1.1h-1.1zM485.6 200.8h1.1v1.1h-1.1zM484.1 214.9h1.1v1.1h-1.1zM484.3 221.3h1.1v1.1h-1.1zM485.0 214.7h1.1v1.1h-1.1zM485.4 215.9h1.1v1.1h-1.1zM491.5 191.7h1.1v1.1h-1.1zM492.6 210.4h1.1v1.1h-1.1zM491.3 208.6h1.1v1.1h-1.1zM492.8 196.9h1.1v1.1h-1.1zM492.0 185.2h1.1v1.1h-1.1zM492.0 196.1h1.1v1.1h-1.1zM492.1 179.0h1.1v1.1h-1.1zM492.8 196.6h1.1v1.1h-1.1zM498.4 208.8h1.1v1.1h-1.1zM498.7 200.8h1.1v1.1h-1.1zM499.0 189.7h1.1v1.1h-1.1zM498.7 198.8h1.1v1.1h-1.1zM499.5 212.0h1.1v1.1h-1.1zM498.1 200.3h1.1v1.1h-1.1zM497.9 199.3h1.1v1.1h-1.1zM499.2 211.4h1.1v1.1h-1.1zM505.0 195.5h1.1v1.1h-1.1zM504.4 204.5h1.1v1.1h-1.1zM505.9 189.9h1.1v1.1h-1.1zM505.6 186.7h1.1v1.1h-1.1zM504.4 192.8h1.1v1.1h-1.1zM505.4 195.7h1.1v1.1h-1.1zM504.7 204.6h1.1v1.1h-1.1zM504.2 207.9h1.1v1.1h-1.1zM458.2 197.3h1.1v1.1h-1.1zM458.5 189.1h1.1v1.1h-1.1zM459.1 195.4h1.1v1.1h-1.1zM458.8 194.7h1.1v1.1h-1.1zM459.1 188.2h1.1v1.1h-1.1zM458.4 200.4h1.1v1.1h-1.1zM459.3 197.8h1.1v1.1h-1.1zM459.7 199.9h1.1v1.1h-1.1z"/>
<path d="M386.0,111.0 C386.1,110.4 386.7,106.7 387.0,106.0 C387.3,105.3 388.1,105.2 388.5,105.5 C388.9,105.8 389.8,107.2 390.0,108.0 C390.2,108.8 390.4,111.5 390.5,112.0" fill="none" stroke="#ff6a72" stroke-width="1.2" stroke-linejoin="round" stroke-linecap="round"/>
<path d="M485.8,240.0 C485.9,242.8 486.6,261.2 487.0,262.0 C487.4,262.8 488.4,248.0 488.6,246.0" fill="none" stroke="#ff6a72" stroke-width="1.3" stroke-linejoin="round" stroke-linecap="round"/>
<path d="M494.0,240.0 C494.2,242.2 495.0,257.5 495.4,258.0 C495.8,258.5 496.8,245.8 497.0,244.0" fill="none" stroke="#ff6a72" stroke-width="1.3" stroke-linejoin="round" stroke-linecap="round"/>
<path d="M500.6,240.0 C500.8,242.2 501.5,257.5 501.8,258.0 C502.1,258.5 503.0,245.8 503.2,244.0" fill="none" stroke="#ff6a72" stroke-width="1.3" stroke-linejoin="round" stroke-linecap="round"/>
<path d="M465.0,192.0 C465.1,193.6 465.5,201.8 465.6,205.0 C465.8,208.2 466.1,216.4 466.2,218.0" fill="none" stroke="#ff6a72" stroke-width="1.5" stroke-linejoin="round" stroke-linecap="round"/>
<path d="M470.7,194.0 C470.8,195.2 471.1,201.5 471.3,204.0 C471.5,206.5 471.8,212.8 471.9,214.0" fill="none" stroke="#ff6a72" stroke-width="1.5" stroke-linejoin="round" stroke-linecap="round"/>
<path d="M476.8,194.0 C476.9,195.6 477.2,203.8 477.4,207.0 C477.5,210.2 477.9,218.4 478.0,220.0" fill="none" stroke="#ff6a72" stroke-width="1.5" stroke-linejoin="round" stroke-linecap="round"/>
<path d="M484.1,202.0 C484.2,203.5 484.5,211.0 484.7,214.0 C484.9,217.0 485.2,224.5 485.3,226.0" fill="none" stroke="#ff6a72" stroke-width="1.5" stroke-linejoin="round" stroke-linecap="round"/>
<path d="M491.3,182.0 C491.4,183.8 491.8,192.5 491.9,196.0 C492.0,199.5 492.4,208.2 492.5,210.0" fill="none" stroke="#ff6a72" stroke-width="1.5" stroke-linejoin="round" stroke-linecap="round"/>
<path d="M498.0,192.0 C498.1,193.1 498.5,198.8 498.6,201.0 C498.8,203.2 499.1,208.9 499.2,210.0" fill="none" stroke="#ff6a72" stroke-width="1.5" stroke-linejoin="round" stroke-linecap="round"/>
<path d="M504.4,190.0 C504.5,191.4 504.9,198.2 505.0,201.0 C505.1,203.8 505.5,210.6 505.6,212.0" fill="none" stroke="#ff6a72" stroke-width="1.5" stroke-linejoin="round" stroke-linecap="round"/>
<path d="M458.4,188.0 C458.5,189.1 458.9,194.8 459.0,197.0 C459.1,199.2 459.5,204.9 459.6,206.0" fill="none" stroke="#ff6a72" stroke-width="1.5" stroke-linejoin="round" stroke-linecap="round"/>
<polygon points="55.3,226.0 57.5,224.0 60.0,231.0 62.0,229.0 64.0,224.5 66.0,228.0 68.0,233.0 70.0,230.0 72.0,227.0 72.8,238.0 72.0,252.0 69.5,255.0 67.0,252.0 64.5,247.0 62.0,251.0 59.5,252.0 57.0,250.0 55.3,252.0" fill="#1e92f6" fill-opacity="0.72"/>
<polygon points="77.0,228.0 78.5,230.0 80.5,244.0 81.5,252.0 80.0,254.0 78.0,246.0 77.0,236.0" fill="#1e92f6" fill-opacity="0.85"/>
<polygon points="84.0,232.0 85.5,236.0 87.0,252.0 87.5,262.0 86.0,262.0 84.5,250.0 83.8,240.0" fill="#1e92f6" fill-opacity="0.85"/>
<polygon points="90.2,229.5 91.8,232.0 93.0,250.0 93.6,270.0 92.2,270.0 91.0,255.0 90.0,240.0" fill="#1e92f6" fill-opacity="0.85"/>
<polygon points="101.2,232.0 102.4,234.0 103.0,250.0 103.0,266.0 101.8,266.0 101.2,250.0" fill="#1e92f6" fill-opacity="0.85"/>
<polygon points="105.6,229.5 107.0,231.0 107.6,245.0 107.2,255.0 106.2,250.0 105.5,240.0" fill="#1e92f6" fill-opacity="0.85"/>
<polygon points="146.5,184.5 149.0,182.5 152.0,181.5 155.0,180.0 157.5,180.0 157.8,184.0 155.5,186.5 151.5,188.5 148.0,190.0 146.5,188.5" fill="#1e92f6" fill-opacity="0.95"/>
<polygon points="170.3,182.0 172.0,181.0 174.8,184.0 174.8,188.0 172.5,187.5 170.3,186.0" fill="#1e92f6" fill-opacity="0.9"/>
<polygon points="176.8,235.0 178.2,236.0 180.6,262.0 180.6,276.0 180.0,285.0 179.2,276.0 177.8,255.0" fill="#1e92f6" fill-opacity="0.8"/>
<polygon points="188.2,226.0 190.0,223.5 192.0,226.0 192.0,236.0 190.0,239.0 188.2,236.0" fill="#1e92f6" fill-opacity="0.95"/>
<polygon points="205.0,231.0 207.2,234.0 208.2,245.0 207.8,267.0 206.8,267.0 205.6,245.0" fill="#1e92f6" fill-opacity="0.72"/>
<polygon points="209.2,230.0 211.4,228.4 214.0,238.0 217.0,260.5 215.5,261.0 211.5,250.0 209.5,240.0" fill="#1e92f6" fill-opacity="0.68"/>
<polygon points="213.0,239.0 214.5,238.0 216.0,255.0 215.5,262.0 214.0,255.0" fill="#1e92f6" fill-opacity="0.68"/>
<polygon points="218.0,219.0 221.8,219.0 222.5,240.0 220.5,262.0 219.0,262.0 218.5,240.0" fill="#1e92f6" fill-opacity="0.65"/>
<polygon points="222.7,236.0 224.5,234.0 226.5,242.0 228.6,248.0 228.8,262.0 227.5,262.0 224.0,250.0" fill="#1e92f6" fill-opacity="0.68"/>
<polygon points="247.0,220.0 249.2,220.0 249.6,232.0 248.8,245.0 247.6,245.0 246.9,232.0" fill="#1e92f6" fill-opacity="0.8"/>
<polygon points="256.6,212.0 258.2,212.0 257.0,245.0 256.0,271.0 254.6,271.0 255.0,245.0" fill="#1e92f6" fill-opacity="0.85"/>
<polygon points="258.8,211.0 260.2,212.0 262.5,235.0 265.0,255.0 263.8,258.0 260.8,240.0 259.0,225.0" fill="#1e92f6" fill-opacity="0.85"/>
<polygon points="315.5,204.0 318.0,208.0 321.5,215.0 324.5,221.0 324.6,232.0 321.8,232.0 319.0,224.0 316.5,214.0" fill="#1e92f6" fill-opacity="0.85"/>
<polygon points="302.2,240.0 304.0,238.0 305.6,245.0 305.4,268.0 304.6,280.0 303.6,280.0 302.4,268.0" fill="#1e92f6" fill-opacity="0.85"/>
<polygon points="308.7,244.0 310.5,243.0 312.4,250.0 312.0,270.0 311.3,274.5 310.2,274.0 308.8,262.0" fill="#1e92f6" fill-opacity="0.85"/>
<polygon points="404.0,184.0 408.0,185.2 413.8,186.2 414.0,197.5 411.8,198.5 410.8,191.5 407.0,192.5 404.3,192.5" fill="#1e92f6" fill-opacity="0.9"/>
<polygon points="436.0,184.0 438.2,184.0 438.2,239.0 436.2,239.0" fill="#1e92f6" fill-opacity="0.7"/>
<polygon points="441.2,196.0 443.5,199.0 445.0,228.0 444.0,236.0 441.4,229.0" fill="#1e92f6" fill-opacity="0.8"/>
<polygon points="445.5,204.0 447.5,206.0 449.0,234.0 447.2,236.0" fill="#1e92f6" fill-opacity="0.8"/>
<polygon points="448.8,209.0 451.0,213.0 451.7,237.0 450.6,261.0 449.4,237.0" fill="#1e92f6" fill-opacity="0.85"/>
<polygon points="452.5,216.0 455.0,217.0 456.0,214.0 459.5,212.0 459.5,243.0 457.0,243.0 455.0,232.0 453.0,236.0" fill="#1e92f6" fill-opacity="0.8"/>
<path fill="#1e92f6" d="M72.8 248.1h1.1v1.1h-1.1zM56.8 238.1h1.1v1.1h-1.1zM63.8 230.7h1.1v1.1h-1.1zM67.1 237.9h1.1v1.1h-1.1zM69.6 233.0h1.1v1.1h-1.1zM71.8 245.5h1.1v1.1h-1.1zM63.5 229.4h1.1v1.1h-1.1zM63.7 229.0h1.1v1.1h-1.1zM67.3 242.7h1.1v1.1h-1.1zM65.4 249.4h1.1v1.1h-1.1zM55.8 243.2h1.1v1.1h-1.1zM69.4 228.7h1.1v1.1h-1.1zM60.8 227.3h1.1v1.1h-1.1zM65.5 243.4h1.1v1.1h-1.1zM61.3 242.7h1.1v1.1h-1.1zM61.6 243.1h1.1v1.1h-1.1zM60.0 249.5h1.1v1.1h-1.1zM62.9 226.1h1.1v1.1h-1.1zM56.6 243.4h1.1v1.1h-1.1zM70.6 241.3h1.1v1.1h-1.1zM57.8 246.9h1.1v1.1h-1.1zM67.9 228.8h1.1v1.1h-1.1zM61.9 242.1h1.1v1.1h-1.1zM55.1 227.0h1.1v1.1h-1.1zM61.4 247.0h1.1v1.1h-1.1zM72.9 233.6h1.1v1.1h-1.1zM71.4 244.9h1.1v1.1h-1.1zM70.6 240.1h1.1v1.1h-1.1zM72.4 241.5h1.1v1.1h-1.1zM72.1 239.6h1.1v1.1h-1.1zM58.5 238.4h1.1v1.1h-1.1zM63.7 234.1h1.1v1.1h-1.1zM61.7 238.3h1.1v1.1h-1.1zM65.6 231.3h1.1v1.1h-1.1zM60.0 238.1h1.1v1.1h-1.1zM64.1 236.1h1.1v1.1h-1.1zM67.0 230.5h1.1v1.1h-1.1zM64.6 232.6h1.1v1.1h-1.1zM68.9 242.9h1.1v1.1h-1.1zM69.1 238.4h1.1v1.1h-1.1zM59.5 248.2h1.1v1.1h-1.1zM64.2 235.0h1.1v1.1h-1.1zM60.2 235.6h1.1v1.1h-1.1zM67.8 245.6h1.1v1.1h-1.1zM63.7 243.5h1.1v1.1h-1.1zM58.8 236.8h1.1v1.1h-1.1zM61.4 233.4h1.1v1.1h-1.1zM61.5 244.1h1.1v1.1h-1.1zM68.2 231.0h1.1v1.1h-1.1zM59.2 244.8h1.1v1.1h-1.1zM56.2 256.5h1.1v1.1h-1.1zM56.2 256.8h1.1v1.1h-1.1zM55.6 246.0h1.1v1.1h-1.1zM55.8 245.6h1.1v1.1h-1.1zM56.7 253.9h1.1v1.1h-1.1zM56.3 261.4h1.1v1.1h-1.1zM56.5 248.9h1.1v1.1h-1.1zM55.7 246.8h1.1v1.1h-1.1zM56.5 257.5h1.1v1.1h-1.1zM56.0 251.3h1.1v1.1h-1.1zM55.6 253.3h1.1v1.1h-1.1zM56.3 260.2h1.1v1.1h-1.1zM56.6 259.8h1.1v1.1h-1.1zM55.9 252.2h1.1v1.1h-1.1zM63.0 261.6h1.1v1.1h-1.1zM62.8 247.7h1.1v1.1h-1.1zM62.9 260.7h1.1v1.1h-1.1zM63.9 250.6h1.1v1.1h-1.1zM63.9 260.1h1.1v1.1h-1.1zM63.2 248.3h1.1v1.1h-1.1zM63.7 251.4h1.1v1.1h-1.1zM62.7 260.3h1.1v1.1h-1.1zM63.2 251.8h1.1v1.1h-1.1zM63.5 249.3h1.1v1.1h-1.1zM62.5 251.6h1.1v1.1h-1.1zM63.1 245.2h1.1v1.1h-1.1zM63.1 257.9h1.1v1.1h-1.1zM63.0 256.6h1.1v1.1h-1.1zM69.6 248.2h1.1v1.1h-1.1zM68.4 256.5h1.1v1.1h-1.1zM69.6 250.0h1.1v1.1h-1.1zM68.8 259.5h1.1v1.1h-1.1zM70.2 249.0h1.1v1.1h-1.1zM69.6 254.8h1.1v1.1h-1.1zM69.0 245.6h1.1v1.1h-1.1zM69.1 256.0h1.1v1.1h-1.1zM69.6 253.7h1.1v1.1h-1.1zM68.6 248.6h1.1v1.1h-1.1zM69.0 252.1h1.1v1.1h-1.1zM69.1 260.3h1.1v1.1h-1.1zM68.6 261.8h1.1v1.1h-1.1zM68.9 259.6h1.1v1.1h-1.1zM69.2 277.9h1.1v1.1h-1.1zM69.3 263.0h1.1v1.1h-1.1zM69.6 283.9h1.1v1.1h-1.1zM69.2 283.0h1.1v1.1h-1.1zM69.4 288.6h1.1v1.1h-1.1zM69.0 272.3h1.1v1.1h-1.1zM69.2 278.9h1.1v1.1h-1.1zM69.6 284.7h1.1v1.1h-1.1zM69.4 272.5h1.1v1.1h-1.1zM69.6 264.8h1.1v1.1h-1.1zM69.2 282.3h1.1v1.1h-1.1zM69.4 288.8h1.1v1.1h-1.1zM78.1 247.4h1.1v1.1h-1.1zM78.2 240.0h1.1v1.1h-1.1zM78.1 241.5h1.1v1.1h-1.1zM78.4 246.9h1.1v1.1h-1.1zM78.5 244.6h1.1v1.1h-1.1zM78.7 248.3h1.1v1.1h-1.1zM79.0 242.7h1.1v1.1h-1.1zM78.5 247.9h1.1v1.1h-1.1zM89.1 295.9h1.1v1.1h-1.1zM89.0 296.6h1.1v1.1h-1.1zM89.1 272.8h1.1v1.1h-1.1zM89.4 282.8h1.1v1.1h-1.1zM89.0 261.7h1.1v1.1h-1.1zM89.8 274.3h1.1v1.1h-1.1zM88.8 286.9h1.1v1.1h-1.1zM89.3 272.4h1.1v1.1h-1.1zM89.1 295.2h1.1v1.1h-1.1zM89.1 276.4h1.1v1.1h-1.1zM89.8 273.9h1.1v1.1h-1.1zM89.2 265.1h1.1v1.1h-1.1zM89.5 287.3h1.1v1.1h-1.1zM89.2 275.9h1.1v1.1h-1.1zM89.0 292.8h1.1v1.1h-1.1zM89.2 294.6h1.1v1.1h-1.1zM89.1 290.3h1.1v1.1h-1.1zM88.7 267.7h1.1v1.1h-1.1zM89.9 288.0h1.1v1.1h-1.1zM89.5 279.9h1.1v1.1h-1.1zM89.3 266.7h1.1v1.1h-1.1zM88.9 286.4h1.1v1.1h-1.1zM89.5 269.4h1.1v1.1h-1.1zM89.5 264.0h1.1v1.1h-1.1zM89.4 265.6h1.1v1.1h-1.1zM89.3 271.8h1.1v1.1h-1.1zM89.4 263.9h1.1v1.1h-1.1zM89.3 285.1h1.1v1.1h-1.1zM88.9 271.6h1.1v1.1h-1.1zM89.5 282.0h1.1v1.1h-1.1zM86.1 258.3h1.1v1.1h-1.1zM86.1 248.8h1.1v1.1h-1.1zM85.9 259.1h1.1v1.1h-1.1zM86.1 257.8h1.1v1.1h-1.1zM85.9 252.6h1.1v1.1h-1.1zM86.5 259.0h1.1v1.1h-1.1zM86.2 246.8h1.1v1.1h-1.1zM86.1 245.6h1.1v1.1h-1.1zM86.4 261.5h1.1v1.1h-1.1zM86.2 249.5h1.1v1.1h-1.1zM92.3 253.2h1.1v1.1h-1.1zM92.3 259.4h1.1v1.1h-1.1zM91.5 266.0h1.1v1.1h-1.1zM91.9 264.9h1.1v1.1h-1.1zM92.2 259.6h1.1v1.1h-1.1zM92.4 253.7h1.1v1.1h-1.1zM92.4 256.1h1.1v1.1h-1.1zM91.5 256.1h1.1v1.1h-1.1zM91.6 251.3h1.1v1.1h-1.1zM92.1 252.2h1.1v1.1h-1.1zM90.2 251.1h1.1v1.1h-1.1zM90.9 264.3h1.1v1.1h-1.1zM94.5 263.3h1.1v1.1h-1.1zM94.9 254.2h1.1v1.1h-1.1zM93.8 250.9h1.1v1.1h-1.1zM94.6 262.0h1.1v1.1h-1.1zM93.5 249.8h1.1v1.1h-1.1zM89.8 264.4h1.1v1.1h-1.1zM92.4 257.9h1.1v1.1h-1.1zM94.2 248.0h1.1v1.1h-1.1zM93.3 254.7h1.1v1.1h-1.1zM93.8 254.6h1.1v1.1h-1.1zM90.4 265.1h1.1v1.1h-1.1zM90.9 260.6h1.1v1.1h-1.1zM94.0 250.2h1.1v1.1h-1.1zM93.3 253.3h1.1v1.1h-1.1zM90.6 249.6h1.1v1.1h-1.1zM94.7 252.7h1.1v1.1h-1.1zM92.2 255.5h1.1v1.1h-1.1zM89.5 260.8h1.1v1.1h-1.1zM107.1 262.4h1.1v1.1h-1.1zM104.1 235.9h1.1v1.1h-1.1zM104.0 256.7h1.1v1.1h-1.1zM106.4 243.7h1.1v1.1h-1.1zM105.4 233.7h1.1v1.1h-1.1zM108.4 246.3h1.1v1.1h-1.1zM105.3 258.8h1.1v1.1h-1.1zM102.9 256.3h1.1v1.1h-1.1zM104.1 259.9h1.1v1.1h-1.1zM102.1 238.6h1.1v1.1h-1.1zM106.2 246.8h1.1v1.1h-1.1zM104.3 250.6h1.1v1.1h-1.1zM103.1 245.0h1.1v1.1h-1.1zM101.4 259.3h1.1v1.1h-1.1zM103.3 260.6h1.1v1.1h-1.1zM105.6 251.5h1.1v1.1h-1.1zM106.2 232.6h1.1v1.1h-1.1zM107.3 239.2h1.1v1.1h-1.1zM108.0 258.8h1.1v1.1h-1.1zM106.6 260.0h1.1v1.1h-1.1zM104.7 254.3h1.1v1.1h-1.1zM108.6 235.1h1.1v1.1h-1.1zM102.2 244.0h1.1v1.1h-1.1zM105.3 233.5h1.1v1.1h-1.1zM103.1 262.0h1.1v1.1h-1.1zM104.3 233.5h1.1v1.1h-1.1zM102.8 250.5h1.1v1.1h-1.1zM102.8 246.5h1.1v1.1h-1.1zM105.5 245.1h1.1v1.1h-1.1zM105.2 260.8h1.1v1.1h-1.1zM101.5 264.5h1.1v1.1h-1.1zM102.9 229.1h1.1v1.1h-1.1zM107.2 250.2h1.1v1.1h-1.1zM105.5 236.2h1.1v1.1h-1.1zM107.3 239.8h1.1v1.1h-1.1zM106.9 236.7h1.1v1.1h-1.1zM105.8 253.3h1.1v1.1h-1.1zM104.2 246.7h1.1v1.1h-1.1zM101.9 253.1h1.1v1.1h-1.1zM106.7 233.7h1.1v1.1h-1.1zM132.6 106.6h1.0v1.0h-1.0zM132.4 113.9h1.0v1.0h-1.0zM132.8 59.5h1.0v1.0h-1.0zM132.4 61.8h1.0v1.0h-1.0zM132.5 62.0h1.0v1.0h-1.0zM132.6 73.3h1.0v1.0h-1.0zM132.5 87.8h1.0v1.0h-1.0zM132.5 110.4h1.0v1.0h-1.0zM132.7 63.9h1.0v1.0h-1.0zM132.4 56.6h1.0v1.0h-1.0zM132.5 63.5h1.0v1.0h-1.0zM132.7 109.8h1.0v1.0h-1.0zM132.9 70.4h1.0v1.0h-1.0zM132.3 108.2h1.0v1.0h-1.0zM132.5 120.2h1.0v1.0h-1.0zM132.5 77.6h1.0v1.0h-1.0zM132.3 121.4h1.0v1.0h-1.0zM132.6 86.4h1.0v1.0h-1.0zM132.6 109.0h1.0v1.0h-1.0zM132.8 88.8h1.0v1.0h-1.0zM132.4 84.0h1.0v1.0h-1.0zM132.8 84.1h1.0v1.0h-1.0zM132.7 94.6h1.0v1.0h-1.0zM132.6 95.7h1.0v1.0h-1.0zM132.4 94.5h1.0v1.0h-1.0zM132.8 61.5h1.0v1.0h-1.0zM132.5 116.8h1.0v1.0h-1.0zM132.9 56.9h1.0v1.0h-1.0zM132.7 99.6h1.0v1.0h-1.0zM132.8 88.4h1.0v1.0h-1.0zM144.9 151.5h1.1v1.1h-1.1zM145.5 179.3h1.1v1.1h-1.1zM145.0 173.8h1.1v1.1h-1.1zM145.5 174.8h1.1v1.1h-1.1zM144.8 160.7h1.1v1.1h-1.1zM145.1 170.8h1.1v1.1h-1.1zM145.1 140.3h1.1v1.1h-1.1zM145.5 150.7h1.1v1.1h-1.1zM145.6 151.9h1.1v1.1h-1.1zM145.3 184.5h1.1v1.1h-1.1zM144.9 179.5h1.1v1.1h-1.1zM144.9 192.9h1.1v1.1h-1.1zM144.8 179.1h1.1v1.1h-1.1zM145.2 143.7h1.1v1.1h-1.1zM145.2 164.6h1.1v1.1h-1.1zM145.2 140.0h1.1v1.1h-1.1zM145.3 151.5h1.1v1.1h-1.1zM145.8 156.9h1.1v1.1h-1.1zM145.2 146.8h1.1v1.1h-1.1zM145.8 152.9h1.1v1.1h-1.1zM145.4 186.1h1.1v1.1h-1.1zM145.2 181.1h1.1v1.1h-1.1zM145.1 139.1h1.1v1.1h-1.1zM144.8 161.2h1.1v1.1h-1.1zM145.7 145.2h1.1v1.1h-1.1zM145.2 181.6h1.1v1.1h-1.1zM131.3 191.5h1.1v1.1h-1.1zM131.5 194.3h1.1v1.1h-1.1zM131.9 199.0h1.1v1.1h-1.1zM176.8 263.0h1.1v1.1h-1.1zM177.1 236.7h1.1v1.1h-1.1zM177.2 280.8h1.1v1.1h-1.1zM176.9 264.3h1.1v1.1h-1.1zM177.7 238.2h1.1v1.1h-1.1zM178.1 240.5h1.1v1.1h-1.1zM176.9 270.8h1.1v1.1h-1.1zM176.3 253.8h1.1v1.1h-1.1zM176.6 258.7h1.1v1.1h-1.1zM176.3 242.6h1.1v1.1h-1.1zM176.7 239.1h1.1v1.1h-1.1zM176.5 244.7h1.1v1.1h-1.1zM177.3 241.8h1.1v1.1h-1.1zM177.9 255.8h1.1v1.1h-1.1zM176.8 247.0h1.1v1.1h-1.1zM178.0 237.3h1.1v1.1h-1.1zM179.3 221.3h1.1v1.1h-1.1zM180.6 241.5h1.1v1.1h-1.1zM178.4 271.1h1.1v1.1h-1.1zM175.2 219.2h1.1v1.1h-1.1zM179.0 253.2h1.1v1.1h-1.1zM179.2 233.1h1.1v1.1h-1.1zM177.7 227.1h1.1v1.1h-1.1zM177.3 233.3h1.1v1.1h-1.1zM178.3 234.4h1.1v1.1h-1.1zM176.3 256.8h1.1v1.1h-1.1zM175.1 267.1h1.1v1.1h-1.1zM177.7 229.9h1.1v1.1h-1.1zM175.2 248.1h1.1v1.1h-1.1zM177.8 261.8h1.1v1.1h-1.1zM176.9 241.8h1.1v1.1h-1.1zM180.3 232.8h1.1v1.1h-1.1zM180.9 273.0h1.1v1.1h-1.1zM180.9 276.3h1.1v1.1h-1.1zM176.2 267.9h1.1v1.1h-1.1zM178.5 228.3h1.1v1.1h-1.1zM181.0 257.1h1.1v1.1h-1.1zM179.8 251.3h1.1v1.1h-1.1zM175.0 271.1h1.1v1.1h-1.1zM175.6 231.8h1.1v1.1h-1.1zM178.5 227.6h1.1v1.1h-1.1zM177.5 261.4h1.1v1.1h-1.1zM175.1 257.9h1.1v1.1h-1.1zM175.2 245.9h1.1v1.1h-1.1zM178.7 259.7h1.1v1.1h-1.1zM174.8 227.4h1.1v1.1h-1.1zM184.7 248.4h1.1v1.1h-1.1zM185.1 249.3h1.1v1.1h-1.1zM184.8 247.6h1.1v1.1h-1.1zM184.7 257.1h1.1v1.1h-1.1zM184.7 259.1h1.1v1.1h-1.1zM184.8 259.2h1.1v1.1h-1.1zM184.8 250.1h1.1v1.1h-1.1zM184.9 246.2h1.1v1.1h-1.1zM215.9 240.9h1.1v1.1h-1.1zM205.3 257.3h1.1v1.1h-1.1zM214.4 228.0h1.1v1.1h-1.1zM229.0 235.8h1.1v1.1h-1.1zM211.3 228.8h1.1v1.1h-1.1zM207.5 252.1h1.1v1.1h-1.1zM219.6 245.1h1.1v1.1h-1.1zM211.2 237.7h1.1v1.1h-1.1zM229.3 240.7h1.1v1.1h-1.1zM229.7 258.1h1.1v1.1h-1.1zM208.1 256.8h1.1v1.1h-1.1zM205.5 252.2h1.1v1.1h-1.1zM225.2 251.6h1.1v1.1h-1.1zM218.7 255.6h1.1v1.1h-1.1zM208.9 246.4h1.1v1.1h-1.1zM211.6 241.6h1.1v1.1h-1.1zM209.8 252.1h1.1v1.1h-1.1zM219.3 254.5h1.1v1.1h-1.1zM220.7 248.4h1.1v1.1h-1.1zM228.0 255.6h1.1v1.1h-1.1zM219.2 239.1h1.1v1.1h-1.1zM228.2 240.6h1.1v1.1h-1.1zM207.6 239.3h1.1v1.1h-1.1zM222.7 259.7h1.1v1.1h-1.1zM221.1 250.5h1.1v1.1h-1.1zM228.4 254.4h1.1v1.1h-1.1zM216.1 243.7h1.1v1.1h-1.1zM224.0 238.8h1.1v1.1h-1.1zM207.7 249.1h1.1v1.1h-1.1zM225.2 236.4h1.1v1.1h-1.1zM222.1 258.3h1.1v1.1h-1.1zM208.2 232.6h1.1v1.1h-1.1zM217.3 239.4h1.1v1.1h-1.1zM228.7 261.9h1.1v1.1h-1.1zM216.1 255.0h1.1v1.1h-1.1zM220.8 233.9h1.1v1.1h-1.1zM229.3 233.9h1.1v1.1h-1.1zM206.9 243.4h1.1v1.1h-1.1zM205.4 244.3h1.1v1.1h-1.1zM215.3 260.4h1.1v1.1h-1.1zM215.3 256.9h1.1v1.1h-1.1zM224.5 247.9h1.1v1.1h-1.1zM210.9 238.4h1.1v1.1h-1.1zM217.3 241.4h1.1v1.1h-1.1zM221.1 245.2h1.1v1.1h-1.1zM213.1 248.6h1.1v1.1h-1.1zM229.9 234.9h1.1v1.1h-1.1zM213.4 228.4h1.1v1.1h-1.1zM207.3 229.9h1.1v1.1h-1.1zM215.6 256.4h1.1v1.1h-1.1zM222.4 260.8h1.1v1.1h-1.1zM225.9 247.9h1.1v1.1h-1.1zM219.5 228.4h1.1v1.1h-1.1zM214.6 236.9h1.1v1.1h-1.1zM220.5 230.2h1.1v1.1h-1.1zM218.6 240.8h1.1v1.1h-1.1zM217.3 241.7h1.1v1.1h-1.1zM207.6 252.9h1.1v1.1h-1.1zM225.0 248.3h1.1v1.1h-1.1zM207.9 248.4h1.1v1.1h-1.1zM226.8 261.5h1.1v1.1h-1.1zM224.0 229.6h1.1v1.1h-1.1zM227.0 250.6h1.1v1.1h-1.1zM211.9 259.3h1.1v1.1h-1.1zM225.7 258.4h1.1v1.1h-1.1zM211.2 247.6h1.1v1.1h-1.1zM214.5 238.1h1.1v1.1h-1.1zM224.0 249.0h1.1v1.1h-1.1zM213.3 246.5h1.1v1.1h-1.1zM228.2 247.3h1.1v1.1h-1.1zM207.9 259.6h1.1v1.1h-1.1zM208.0 250.5h1.1v1.1h-1.1zM207.5 259.4h1.1v1.1h-1.1zM207.7 266.5h1.1v1.1h-1.1zM207.6 258.1h1.1v1.1h-1.1zM207.6 259.1h1.1v1.1h-1.1zM207.7 266.1h1.1v1.1h-1.1zM207.0 255.4h1.1v1.1h-1.1zM248.4 219.7h1.1v1.1h-1.1zM248.3 218.9h1.1v1.1h-1.1zM248.1 240.4h1.1v1.1h-1.1zM247.7 228.7h1.1v1.1h-1.1zM247.7 237.7h1.1v1.1h-1.1zM248.0 235.0h1.1v1.1h-1.1zM247.8 234.4h1.1v1.1h-1.1zM248.5 239.8h1.1v1.1h-1.1zM248.5 224.9h1.1v1.1h-1.1zM248.0 228.8h1.1v1.1h-1.1zM256.4 241.6h1.1v1.1h-1.1zM263.9 243.3h1.1v1.1h-1.1zM258.4 256.2h1.1v1.1h-1.1zM263.0 239.5h1.1v1.1h-1.1zM256.1 248.9h1.1v1.1h-1.1zM261.7 259.2h1.1v1.1h-1.1zM260.9 237.1h1.1v1.1h-1.1zM259.6 236.4h1.1v1.1h-1.1zM259.0 242.9h1.1v1.1h-1.1zM263.2 258.6h1.1v1.1h-1.1zM263.3 243.2h1.1v1.1h-1.1zM263.7 231.0h1.1v1.1h-1.1zM263.3 249.0h1.1v1.1h-1.1zM262.9 240.9h1.1v1.1h-1.1zM263.9 226.9h1.1v1.1h-1.1zM262.6 255.5h1.1v1.1h-1.1zM258.4 255.8h1.1v1.1h-1.1zM256.9 253.1h1.1v1.1h-1.1zM259.2 240.8h1.1v1.1h-1.1zM256.8 254.8h1.1v1.1h-1.1zM261.6 229.2h1.1v1.1h-1.1zM263.8 234.0h1.1v1.1h-1.1zM258.4 240.9h1.1v1.1h-1.1zM260.2 258.0h1.1v1.1h-1.1zM263.5 248.8h1.1v1.1h-1.1zM258.3 229.9h1.1v1.1h-1.1zM255.6 244.7h1.1v1.1h-1.1zM260.2 242.1h1.1v1.1h-1.1zM263.8 240.9h1.1v1.1h-1.1zM258.2 241.1h1.1v1.1h-1.1zM303.2 244.0h1.1v1.1h-1.1zM303.6 237.2h1.1v1.1h-1.1zM303.4 232.3h1.1v1.1h-1.1zM303.3 236.4h1.1v1.1h-1.1zM303.4 244.6h1.1v1.1h-1.1zM303.6 231.5h1.1v1.1h-1.1zM303.1 230.7h1.1v1.1h-1.1zM303.3 241.3h1.1v1.1h-1.1zM310.9 235.8h1.1v1.1h-1.1zM310.8 239.1h1.1v1.1h-1.1zM310.5 240.5h1.1v1.1h-1.1zM310.0 233.1h1.1v1.1h-1.1zM310.7 243.0h1.1v1.1h-1.1zM310.4 246.7h1.1v1.1h-1.1zM310.8 236.8h1.1v1.1h-1.1zM310.1 240.9h1.1v1.1h-1.1zM321.9 224.2h1.1v1.1h-1.1zM318.3 226.9h1.1v1.1h-1.1zM318.2 229.4h1.1v1.1h-1.1zM321.8 224.8h1.1v1.1h-1.1zM320.7 224.3h1.1v1.1h-1.1zM319.1 223.8h1.1v1.1h-1.1zM322.9 226.5h1.1v1.1h-1.1zM322.3 225.5h1.1v1.1h-1.1zM322.8 228.0h1.1v1.1h-1.1zM321.9 225.9h1.1v1.1h-1.1zM321.4 223.9h1.1v1.1h-1.1zM323.8 228.7h1.1v1.1h-1.1zM321.2 228.4h1.1v1.1h-1.1zM318.6 225.3h1.1v1.1h-1.1zM319.4 230.4h1.1v1.1h-1.1zM318.1 226.4h1.1v1.1h-1.1zM323.2 229.8h1.1v1.1h-1.1zM322.3 225.0h1.1v1.1h-1.1zM319.4 229.0h1.1v1.1h-1.1zM319.8 229.2h1.1v1.1h-1.1zM389.6 71.3h1.1v1.1h-1.1zM389.7 72.8h1.1v1.1h-1.1zM390.0 60.6h1.1v1.1h-1.1zM390.0 50.3h1.1v1.1h-1.1zM389.9 50.8h1.1v1.1h-1.1zM389.7 60.9h1.1v1.1h-1.1zM389.9 58.8h1.1v1.1h-1.1zM389.5 72.0h1.1v1.1h-1.1zM389.7 71.2h1.1v1.1h-1.1zM389.7 51.0h1.1v1.1h-1.1zM389.9 56.1h1.1v1.1h-1.1zM389.7 50.0h1.1v1.1h-1.1zM389.6 68.6h1.1v1.1h-1.1zM389.9 67.8h1.1v1.1h-1.1zM389.7 70.5h1.1v1.1h-1.1zM389.8 55.8h1.1v1.1h-1.1zM397.4 136.6h1.1v1.1h-1.1zM397.4 101.2h1.1v1.1h-1.1zM397.5 123.8h1.1v1.1h-1.1zM397.5 143.7h1.1v1.1h-1.1zM397.9 111.3h1.1v1.1h-1.1zM397.7 133.6h1.1v1.1h-1.1zM397.6 109.8h1.1v1.1h-1.1zM397.9 147.7h1.1v1.1h-1.1zM397.3 113.8h1.1v1.1h-1.1zM397.5 106.7h1.1v1.1h-1.1zM397.6 144.5h1.1v1.1h-1.1zM397.3 141.1h1.1v1.1h-1.1zM397.5 96.7h1.1v1.1h-1.1zM397.8 110.7h1.1v1.1h-1.1zM397.4 102.3h1.1v1.1h-1.1zM397.5 102.5h1.1v1.1h-1.1zM397.4 109.5h1.1v1.1h-1.1zM397.6 120.1h1.1v1.1h-1.1zM397.5 124.4h1.1v1.1h-1.1zM397.8 135.1h1.1v1.1h-1.1zM397.5 145.6h1.1v1.1h-1.1zM397.8 126.3h1.1v1.1h-1.1zM397.6 113.8h1.1v1.1h-1.1zM397.4 143.8h1.1v1.1h-1.1zM397.7 101.3h1.1v1.1h-1.1zM397.9 143.9h1.1v1.1h-1.1zM397.3 133.8h1.1v1.1h-1.1zM397.4 124.9h1.1v1.1h-1.1zM397.8 114.9h1.1v1.1h-1.1zM397.6 131.9h1.1v1.1h-1.1zM397.4 129.8h1.1v1.1h-1.1zM397.6 149.1h1.1v1.1h-1.1zM397.4 134.4h1.1v1.1h-1.1zM397.3 110.8h1.1v1.1h-1.1zM397.4 104.0h1.1v1.1h-1.1zM397.6 105.4h1.1v1.1h-1.1zM397.8 101.2h1.1v1.1h-1.1zM397.7 142.5h1.1v1.1h-1.1zM397.4 107.7h1.1v1.1h-1.1zM397.8 121.4h1.1v1.1h-1.1zM397.9 114.2h1.1v1.1h-1.1zM397.5 147.7h1.1v1.1h-1.1zM397.5 148.2h1.1v1.1h-1.1zM397.8 106.8h1.1v1.1h-1.1zM397.6 146.8h1.1v1.1h-1.1zM397.4 141.8h1.1v1.1h-1.1zM397.8 136.5h1.1v1.1h-1.1zM397.7 101.4h1.1v1.1h-1.1zM397.9 101.5h1.1v1.1h-1.1zM397.8 135.1h1.1v1.1h-1.1zM397.6 169.2h1.1v1.1h-1.1zM397.7 171.0h1.1v1.1h-1.1zM397.3 176.1h1.1v1.1h-1.1zM397.7 172.5h1.1v1.1h-1.1zM397.8 172.7h1.1v1.1h-1.1zM397.6 165.3h1.1v1.1h-1.1zM397.3 163.7h1.1v1.1h-1.1zM397.4 174.1h1.1v1.1h-1.1zM398.0 161.9h1.1v1.1h-1.1zM398.3 176.5h1.1v1.1h-1.1zM403.1 107.8h1.1v1.1h-1.1zM402.9 137.5h1.1v1.1h-1.1zM402.9 104.7h1.1v1.1h-1.1zM403.1 124.2h1.1v1.1h-1.1zM402.9 141.5h1.1v1.1h-1.1zM402.7 105.3h1.1v1.1h-1.1zM403.1 116.4h1.1v1.1h-1.1zM402.5 110.3h1.1v1.1h-1.1zM403.1 138.0h1.1v1.1h-1.1zM402.6 110.7h1.1v1.1h-1.1zM403.0 134.6h1.1v1.1h-1.1zM402.8 110.0h1.1v1.1h-1.1zM402.7 147.5h1.1v1.1h-1.1zM402.5 123.3h1.1v1.1h-1.1zM402.5 149.9h1.1v1.1h-1.1zM402.6 147.9h1.1v1.1h-1.1zM403.0 137.7h1.1v1.1h-1.1zM402.5 136.0h1.1v1.1h-1.1zM402.8 126.6h1.1v1.1h-1.1zM402.6 127.6h1.1v1.1h-1.1zM403.0 110.0h1.1v1.1h-1.1zM403.0 123.3h1.1v1.1h-1.1zM402.7 115.0h1.1v1.1h-1.1zM402.8 133.8h1.1v1.1h-1.1zM402.8 144.9h1.1v1.1h-1.1zM402.8 127.6h1.1v1.1h-1.1zM403.1 113.9h1.1v1.1h-1.1zM402.5 119.1h1.1v1.1h-1.1zM402.7 109.7h1.1v1.1h-1.1zM402.8 105.6h1.1v1.1h-1.1zM403.1 126.3h1.1v1.1h-1.1zM403.0 136.1h1.1v1.1h-1.1zM402.9 138.9h1.1v1.1h-1.1zM402.7 137.5h1.1v1.1h-1.1zM402.6 129.5h1.1v1.1h-1.1zM402.9 139.7h1.1v1.1h-1.1zM402.6 119.8h1.1v1.1h-1.1zM403.0 141.0h1.1v1.1h-1.1zM403.1 109.4h1.1v1.1h-1.1zM402.6 108.9h1.1v1.1h-1.1zM402.9 138.3h1.1v1.1h-1.1zM402.9 139.9h1.1v1.1h-1.1zM403.2 165.7h1.1v1.1h-1.1zM403.6 168.2h1.1v1.1h-1.1zM403.4 166.5h1.1v1.1h-1.1zM403.2 171.2h1.1v1.1h-1.1zM403.3 153.6h1.1v1.1h-1.1zM403.1 161.8h1.1v1.1h-1.1zM403.1 165.7h1.1v1.1h-1.1zM403.1 161.0h1.1v1.1h-1.1zM385.4 93.7h1.1v1.1h-1.1zM386.0 90.9h1.1v1.1h-1.1zM385.0 97.2h1.1v1.1h-1.1zM404.7 193.9h1.1v1.1h-1.1zM413.6 196.3h1.1v1.1h-1.1zM408.2 184.9h1.1v1.1h-1.1zM404.1 196.6h1.1v1.1h-1.1zM404.2 198.2h1.1v1.1h-1.1zM410.4 191.5h1.1v1.1h-1.1zM412.7 200.7h1.1v1.1h-1.1zM409.9 184.0h1.1v1.1h-1.1zM409.6 190.4h1.1v1.1h-1.1zM406.1 200.6h1.1v1.1h-1.1zM411.0 184.4h1.1v1.1h-1.1zM405.9 188.9h1.1v1.1h-1.1zM409.4 188.5h1.1v1.1h-1.1zM408.0 198.3h1.1v1.1h-1.1zM405.4 196.4h1.1v1.1h-1.1zM406.9 200.9h1.1v1.1h-1.1zM413.3 188.5h1.1v1.1h-1.1zM409.7 184.2h1.1v1.1h-1.1zM407.7 194.5h1.1v1.1h-1.1zM410.1 188.9h1.1v1.1h-1.1zM404.3 145.3h1.1v1.1h-1.1zM404.9 147.4h1.1v1.1h-1.1zM404.6 166.6h1.1v1.1h-1.1zM405.2 162.2h1.1v1.1h-1.1zM404.6 165.2h1.1v1.1h-1.1zM404.6 173.6h1.1v1.1h-1.1zM404.5 151.3h1.1v1.1h-1.1zM404.7 179.1h1.1v1.1h-1.1zM404.5 148.3h1.1v1.1h-1.1zM404.4 149.2h1.1v1.1h-1.1zM404.6 157.0h1.1v1.1h-1.1zM405.1 157.4h1.1v1.1h-1.1zM404.8 157.0h1.1v1.1h-1.1zM405.1 178.8h1.1v1.1h-1.1zM447.5 236.7h1.1v1.1h-1.1zM444.0 239.1h1.1v1.1h-1.1zM449.5 226.6h1.1v1.1h-1.1zM446.6 209.4h1.1v1.1h-1.1zM441.7 235.2h1.1v1.1h-1.1zM446.2 227.3h1.1v1.1h-1.1zM448.2 220.1h1.1v1.1h-1.1zM443.1 205.4h1.1v1.1h-1.1zM445.7 226.6h1.1v1.1h-1.1zM449.9 198.1h1.1v1.1h-1.1zM453.2 216.2h1.1v1.1h-1.1zM440.4 208.9h1.1v1.1h-1.1zM443.2 232.6h1.1v1.1h-1.1zM450.0 211.7h1.1v1.1h-1.1zM444.0 210.2h1.1v1.1h-1.1zM444.6 212.5h1.1v1.1h-1.1zM454.8 231.1h1.1v1.1h-1.1zM453.0 235.2h1.1v1.1h-1.1zM452.1 202.8h1.1v1.1h-1.1zM439.9 204.9h1.1v1.1h-1.1zM444.2 220.2h1.1v1.1h-1.1zM455.4 222.6h1.1v1.1h-1.1zM447.6 208.2h1.1v1.1h-1.1zM458.6 229.6h1.1v1.1h-1.1zM445.8 199.9h1.1v1.1h-1.1zM458.6 208.8h1.1v1.1h-1.1zM456.0 202.9h1.1v1.1h-1.1zM452.1 213.0h1.1v1.1h-1.1zM456.8 210.5h1.1v1.1h-1.1zM441.0 206.4h1.1v1.1h-1.1zM455.1 239.1h1.1v1.1h-1.1zM451.9 226.6h1.1v1.1h-1.1zM444.6 209.4h1.1v1.1h-1.1zM440.7 239.4h1.1v1.1h-1.1zM439.9 223.7h1.1v1.1h-1.1zM446.0 205.8h1.1v1.1h-1.1zM447.7 237.1h1.1v1.1h-1.1zM444.0 204.9h1.1v1.1h-1.1zM451.6 225.6h1.1v1.1h-1.1zM449.2 205.5h1.1v1.1h-1.1zM456.5 202.7h1.1v1.1h-1.1zM442.5 208.2h1.1v1.1h-1.1zM449.3 218.0h1.1v1.1h-1.1zM450.1 228.5h1.1v1.1h-1.1zM456.9 217.7h1.1v1.1h-1.1zM439.8 232.9h1.1v1.1h-1.1zM439.4 211.4h1.1v1.1h-1.1zM441.9 223.3h1.1v1.1h-1.1zM454.6 203.4h1.1v1.1h-1.1zM444.9 233.7h1.1v1.1h-1.1zM452.8 202.6h1.1v1.1h-1.1zM452.7 231.3h1.1v1.1h-1.1zM447.2 204.5h1.1v1.1h-1.1zM452.2 211.4h1.1v1.1h-1.1zM441.7 204.9h1.1v1.1h-1.1zM447.0 203.3h1.1v1.1h-1.1zM446.7 221.2h1.1v1.1h-1.1zM450.0 215.0h1.1v1.1h-1.1zM455.0 201.7h1.1v1.1h-1.1zM445.6 237.2h1.1v1.1h-1.1zM460.9 194.8h1.1v1.1h-1.1zM464.0 215.9h1.1v1.1h-1.1zM461.3 196.1h1.1v1.1h-1.1zM459.2 202.9h1.1v1.1h-1.1zM462.1 200.2h1.1v1.1h-1.1zM458.6 207.3h1.1v1.1h-1.1zM458.6 210.0h1.1v1.1h-1.1zM462.5 199.8h1.1v1.1h-1.1zM464.4 222.9h1.1v1.1h-1.1zM462.3 200.6h1.1v1.1h-1.1zM459.0 202.0h1.1v1.1h-1.1zM461.4 193.9h1.1v1.1h-1.1zM459.2 201.2h1.1v1.1h-1.1zM458.2 212.0h1.1v1.1h-1.1zM460.9 195.9h1.1v1.1h-1.1zM461.4 196.6h1.1v1.1h-1.1zM461.2 196.3h1.1v1.1h-1.1zM461.0 193.5h1.1v1.1h-1.1zM464.5 224.3h1.1v1.1h-1.1zM470.3 207.8h1.1v1.1h-1.1zM466.4 194.1h1.1v1.1h-1.1zM466.2 193.9h1.1v1.1h-1.1zM469.7 203.0h1.1v1.1h-1.1zM470.3 206.5h1.1v1.1h-1.1zM471.2 215.2h1.1v1.1h-1.1zM464.0 204.5h1.1v1.1h-1.1zM470.8 210.5h1.1v1.1h-1.1zM471.4 214.3h1.1v1.1h-1.1zM464.5 203.7h1.1v1.1h-1.1zM469.8 202.9h1.1v1.1h-1.1zM464.7 201.7h1.1v1.1h-1.1zM471.2 215.1h1.1v1.1h-1.1zM464.9 200.0h1.1v1.1h-1.1zM464.8 199.8h1.1v1.1h-1.1zM470.0 203.3h1.1v1.1h-1.1zM468.2 196.1h1.1v1.1h-1.1zM465.4 199.5h1.1v1.1h-1.1zM465.0 201.5h1.1v1.1h-1.1zM464.9 200.9h1.1v1.1h-1.1zM465.6 196.6h1.1v1.1h-1.1zM471.3 215.8h1.1v1.1h-1.1zM472.9 207.2h1.1v1.1h-1.1zM472.5 209.3h1.1v1.1h-1.1zM475.5 207.1h1.1v1.1h-1.1zM472.0 218.6h1.1v1.1h-1.1zM472.5 208.5h1.1v1.1h-1.1zM475.1 202.5h1.1v1.1h-1.1zM472.9 203.3h1.1v1.1h-1.1zM471.9 217.2h1.1v1.1h-1.1zM472.6 208.4h1.1v1.1h-1.1zM473.2 203.2h1.1v1.1h-1.1zM476.0 211.8h1.1v1.1h-1.1zM474.2 201.6h1.1v1.1h-1.1zM472.4 209.7h1.1v1.1h-1.1zM475.8 210.8h1.1v1.1h-1.1zM478.6 195.9h1.1v1.1h-1.1zM482.8 200.8h1.1v1.1h-1.1zM478.2 201.6h1.1v1.1h-1.1zM484.0 205.8h1.1v1.1h-1.1zM480.1 189.5h1.1v1.1h-1.1zM476.8 213.2h1.1v1.1h-1.1zM478.5 198.9h1.1v1.1h-1.1zM478.7 198.8h1.1v1.1h-1.1zM481.6 193.5h1.1v1.1h-1.1zM478.0 201.2h1.1v1.1h-1.1zM477.1 207.2h1.1v1.1h-1.1zM481.3 195.5h1.1v1.1h-1.1zM481.7 193.9h1.1v1.1h-1.1zM484.3 205.5h1.1v1.1h-1.1zM476.6 211.5h1.1v1.1h-1.1zM480.3 189.0h1.1v1.1h-1.1zM478.0 199.4h1.1v1.1h-1.1zM481.4 192.2h1.1v1.1h-1.1zM479.6 195.5h1.1v1.1h-1.1zM484.8 216.9h1.1v1.1h-1.1zM482.4 197.1h1.1v1.1h-1.1zM477.7 200.5h1.1v1.1h-1.1zM476.7 214.6h1.1v1.1h-1.1zM482.5 199.2h1.1v1.1h-1.1zM476.7 213.0h1.1v1.1h-1.1zM488.7 199.9h1.1v1.1h-1.1zM487.8 198.0h1.1v1.1h-1.1zM486.4 214.4h1.1v1.1h-1.1zM490.1 210.4h1.1v1.1h-1.1zM490.1 209.5h1.1v1.1h-1.1zM490.4 213.0h1.1v1.1h-1.1zM487.9 197.1h1.1v1.1h-1.1zM491.0 219.8h1.1v1.1h-1.1zM488.3 198.9h1.1v1.1h-1.1zM490.7 215.6h1.1v1.1h-1.1zM489.4 202.9h1.1v1.1h-1.1zM489.2 202.2h1.1v1.1h-1.1zM486.4 214.2h1.1v1.1h-1.1zM491.5 226.4h1.1v1.1h-1.1zM490.0 207.5h1.1v1.1h-1.1zM490.0 208.7h1.1v1.1h-1.1zM495.7 200.7h1.1v1.1h-1.1zM493.9 222.9h1.1v1.1h-1.1zM493.6 227.5h1.1v1.1h-1.1zM495.9 198.7h1.1v1.1h-1.1zM497.0 208.9h1.1v1.1h-1.1zM496.6 206.0h1.1v1.1h-1.1zM494.8 203.0h1.1v1.1h-1.1zM495.0 202.7h1.1v1.1h-1.1zM494.5 208.1h1.1v1.1h-1.1zM498.0 223.7h1.1v1.1h-1.1zM495.7 201.0h1.1v1.1h-1.1zM495.1 200.5h1.1v1.1h-1.1zM494.5 209.8h1.1v1.1h-1.1zM497.5 217.5h1.1v1.1h-1.1zM497.9 220.4h1.1v1.1h-1.1zM502.9 200.7h1.1v1.1h-1.1zM500.7 210.5h1.1v1.1h-1.1zM504.2 216.6h1.1v1.1h-1.1zM503.6 210.3h1.1v1.1h-1.1zM501.4 197.6h1.1v1.1h-1.1zM502.3 197.7h1.1v1.1h-1.1zM501.1 203.5h1.1v1.1h-1.1zM503.1 203.4h1.1v1.1h-1.1zM501.6 198.0h1.1v1.1h-1.1zM504.9 228.1h1.1v1.1h-1.1zM500.4 214.7h1.1v1.1h-1.1zM504.4 215.8h1.1v1.1h-1.1zM503.5 208.2h1.1v1.1h-1.1zM501.5 198.3h1.1v1.1h-1.1zM500.1 221.1h1.1v1.1h-1.1zM507.3 200.3h1.1v1.1h-1.1zM508.8 209.1h1.1v1.1h-1.1zM506.1 220.2h1.1v1.1h-1.1zM508.0 202.3h1.1v1.1h-1.1zM508.0 203.4h1.1v1.1h-1.1zM508.7 211.2h1.1v1.1h-1.1zM508.2 202.2h1.1v1.1h-1.1zM507.4 199.9h1.1v1.1h-1.1zM505.5 231.1h1.1v1.1h-1.1zM508.4 202.7h1.1v1.1h-1.1zM506.6 212.9h1.1v1.1h-1.1zM508.3 204.0h1.1v1.1h-1.1z"/>
<path d="M129.4,54.0 C129.5,53.6 130.1,51.4 130.4,51.0 C130.7,50.6 131.4,50.2 131.7,50.5 C131.9,50.8 132.3,52.1 132.4,53.0 C132.5,53.9 132.5,57.4 132.5,58.0" fill="none" stroke="#1e92f6" stroke-width="1.3" stroke-linejoin="round" stroke-linecap="round"/>
<path d="M132.5,56.0 C132.5,59.0 132.6,74.5 132.6,80.0 C132.6,85.5 132.8,97.5 132.8,100.0" fill="none" stroke="#1e92f6" stroke-width="0.9" stroke-linejoin="round" stroke-linecap="round"/>
<path d="M133.5,99.5 C133.8,101.5 135.8,115.7 136.3,115.8 C136.8,115.9 137.2,102.4 137.5,100.0 C137.8,97.6 138.3,96.9 138.4,96.5" fill="none" stroke="#1e92f6" stroke-width="1.2" stroke-linejoin="round" stroke-linecap="round"/>
<path d="M137.7,119.4 C137.9,118.2 138.7,112.4 139.0,110.0 C139.3,107.6 139.8,100.2 140.0,100.0 C140.2,99.8 140.8,105.6 141.0,108.0 C141.2,110.4 141.9,117.6 142.0,119.0" fill="none" stroke="#1e92f6" stroke-width="1.1" stroke-linejoin="round" stroke-linecap="round"/>
<path d="M140.8,144.6 C141.1,141.5 142.5,124.9 143.0,120.0 C143.5,115.1 144.5,104.8 144.9,105.4 C145.3,106.0 145.8,120.1 146.0,125.0 C146.2,129.9 146.8,142.2 146.9,144.6" fill="none" stroke="#1e92f6" stroke-width="1.4" stroke-linejoin="round" stroke-linecap="round"/>
<path d="M174.8,187.0 C174.9,189.2 175.5,199.6 175.8,205.0 C176.1,210.4 176.7,223.4 177.0,230.0 C177.3,236.6 178.1,251.4 178.5,258.0 C178.9,264.6 179.8,279.9 180.0,283.0" fill="none" stroke="#1e92f6" stroke-width="1.3" stroke-linejoin="round" stroke-linecap="round"/>
<path d="M312.8,214.0 C312.9,212.0 313.2,200.3 313.4,198.0 C313.6,195.7 314.1,195.2 314.4,195.5 C314.7,195.8 315.3,198.4 315.5,200.0 C315.7,201.6 316.2,207.0 316.3,208.0" fill="none" stroke="#1e92f6" stroke-width="1.3" stroke-linejoin="round" stroke-linecap="round"/>
<path d="M385.9,49.0 C386.3,49.0 388.9,48.6 389.4,49.0 C389.9,49.4 389.7,51.6 389.7,52.0" fill="none" stroke="#1e92f6" stroke-width="1.2" stroke-linejoin="round" stroke-linecap="round"/>
<path d="M389.7,50.0 C389.7,51.8 389.8,60.8 389.8,64.0 C389.8,67.2 389.9,74.5 389.9,76.0" fill="none" stroke="#1e92f6" stroke-width="0.9" stroke-linejoin="round" stroke-linecap="round"/>
<path d="M391.1,77.8 C391.6,76.3 394.5,64.2 395.2,66.0 C395.9,67.8 396.5,88.1 396.8,92.4 C397.1,96.7 397.5,99.5 397.6,100.5" fill="none" stroke="#1e92f6" stroke-width="1.35" stroke-linejoin="round" stroke-linecap="round"/>
<path d="M399.2,98.9 C399.6,97.1 402.1,83.8 402.6,84.6 C403.2,85.4 403.4,101.5 403.6,105.4 C403.8,109.3 404.3,114.7 404.4,116.0" fill="none" stroke="#1e92f6" stroke-width="1.35" stroke-linejoin="round" stroke-linecap="round"/>
<path d="M458.0,214.0 C458.2,212.2 459.2,202.6 459.5,200.0 C459.8,197.4 460.2,193.2 460.5,193.0 C460.8,192.8 461.6,195.9 462.0,198.0 C462.4,200.1 463.2,207.0 463.5,210.0 C463.8,213.0 464.4,220.5 464.5,222.0" fill="none" stroke="#1e92f6" stroke-width="2.0" stroke-linejoin="round" stroke-linecap="round"/>
<path d="M459.2,219.0 C459.4,217.2 460.4,207.6 460.7,205.0 C461.0,202.4 461.4,198.2 461.7,198.0 C462.0,197.8 462.8,200.9 463.2,203.0 C463.6,205.1 464.4,212.0 464.7,215.0 C465.0,218.0 465.6,225.5 465.7,227.0" fill="none" stroke="#1e92f6" stroke-width="1.0" stroke-linejoin="round" stroke-linecap="round"/>
<path d="M464.0,206.0 C464.2,205.0 465.1,199.6 465.5,198.0 C465.9,196.4 466.8,192.9 467.2,193.0 C467.6,193.1 468.6,197.1 469.0,199.0 C469.4,200.9 470.2,205.9 470.5,208.0 C470.8,210.1 471.4,215.0 471.5,216.0" fill="none" stroke="#1e92f6" stroke-width="2.0" stroke-linejoin="round" stroke-linecap="round"/>
<path d="M465.2,211.0 C465.4,210.0 466.3,204.6 466.7,203.0 C467.1,201.4 468.0,197.9 468.4,198.0 C468.8,198.1 469.8,202.1 470.2,204.0 C470.6,205.9 471.4,210.9 471.7,213.0 C472.0,215.1 472.6,220.0 472.7,221.0" fill="none" stroke="#1e92f6" stroke-width="1.0" stroke-linejoin="round" stroke-linecap="round"/>
<path d="M471.5,222.0 C471.7,220.0 472.5,208.9 472.8,206.0 C473.1,203.1 473.7,199.2 474.0,199.0 C474.3,198.8 475.0,202.1 475.3,204.0 C475.6,205.9 476.1,212.8 476.2,214.0" fill="none" stroke="#1e92f6" stroke-width="2.0" stroke-linejoin="round" stroke-linecap="round"/>
<path d="M472.7,227.0 C472.9,225.0 473.7,213.9 474.0,211.0 C474.3,208.1 474.9,204.2 475.2,204.0 C475.5,203.8 476.2,207.1 476.5,209.0 C476.8,210.9 477.3,217.8 477.4,219.0" fill="none" stroke="#1e92f6" stroke-width="1.0" stroke-linejoin="round" stroke-linecap="round"/>
<path d="M476.5,214.0 C476.7,212.2 477.5,202.9 478.0,200.0 C478.5,197.1 479.6,191.4 480.2,191.0 C480.8,190.6 482.0,195.0 482.5,197.0 C483.0,199.0 484.0,204.2 484.3,207.0 C484.6,209.8 484.9,217.5 485.0,219.0" fill="none" stroke="#1e92f6" stroke-width="2.0" stroke-linejoin="round" stroke-linecap="round"/>
<path d="M477.7,219.0 C477.9,217.2 478.7,207.9 479.2,205.0 C479.7,202.1 480.8,196.4 481.4,196.0 C482.0,195.6 483.2,200.0 483.7,202.0 C484.2,204.0 485.2,209.2 485.5,212.0 C485.8,214.8 486.1,222.5 486.2,224.0" fill="none" stroke="#1e92f6" stroke-width="1.0" stroke-linejoin="round" stroke-linecap="round"/>
<path d="M486.0,224.0 C486.1,221.6 486.6,208.6 486.8,205.0 C487.0,201.4 487.3,195.6 487.6,195.0 C487.9,194.4 488.6,197.9 489.0,200.0 C489.4,202.1 490.2,208.9 490.5,212.0 C490.8,215.1 491.4,223.4 491.5,225.0" fill="none" stroke="#1e92f6" stroke-width="2.0" stroke-linejoin="round" stroke-linecap="round"/>
<path d="M487.2,229.0 C487.3,226.6 487.8,213.6 488.0,210.0 C488.2,206.4 488.5,200.6 488.8,200.0 C489.1,199.4 489.8,202.9 490.2,205.0 C490.6,207.1 491.4,213.9 491.7,217.0 C492.0,220.1 492.6,228.4 492.7,230.0" fill="none" stroke="#1e92f6" stroke-width="1.0" stroke-linejoin="round" stroke-linecap="round"/>
<path d="M493.5,230.0 C493.6,227.5 494.3,214.1 494.5,210.0 C494.7,205.9 495.1,197.9 495.3,197.0 C495.6,196.1 496.2,200.8 496.5,203.0 C496.8,205.2 497.2,211.6 497.5,215.0 C497.8,218.4 498.4,228.1 498.5,230.0" fill="none" stroke="#1e92f6" stroke-width="2.0" stroke-linejoin="round" stroke-linecap="round"/>
<path d="M494.7,235.0 C494.8,232.5 495.5,219.1 495.7,215.0 C495.9,210.9 496.2,202.9 496.5,202.0 C496.8,201.1 497.4,205.8 497.7,208.0 C498.0,210.2 498.4,216.6 498.7,220.0 C498.9,223.4 499.6,233.1 499.7,235.0" fill="none" stroke="#1e92f6" stroke-width="1.0" stroke-linejoin="round" stroke-linecap="round"/>
<path d="M500.0,225.0 C500.1,222.9 500.6,211.6 500.8,208.0 C501.0,204.4 501.3,196.8 501.6,196.0 C501.9,195.2 502.7,199.6 503.0,202.0 C503.3,204.4 503.9,211.5 504.2,215.0 C504.4,218.5 504.9,228.1 505.0,230.0" fill="none" stroke="#1e92f6" stroke-width="2.0" stroke-linejoin="round" stroke-linecap="round"/>
<path d="M501.2,230.0 C501.3,227.9 501.8,216.6 502.0,213.0 C502.2,209.4 502.5,201.8 502.8,201.0 C503.1,200.2 503.9,204.6 504.2,207.0 C504.5,209.4 505.1,216.5 505.4,220.0 C505.6,223.5 506.1,233.1 506.2,235.0" fill="none" stroke="#1e92f6" stroke-width="1.0" stroke-linejoin="round" stroke-linecap="round"/>
<path d="M505.5,232.0 C505.6,229.9 506.2,219.0 506.5,215.0 C506.8,211.0 507.2,201.2 507.5,200.0 C507.8,198.8 508.2,202.2 508.5,205.0 C508.8,207.8 509.4,219.9 509.5,222.0" fill="none" stroke="#1e92f6" stroke-width="2.0" stroke-linejoin="round" stroke-linecap="round"/>
<path d="M506.7,237.0 C506.8,234.9 507.4,224.0 507.7,220.0 C507.9,216.0 508.4,206.2 508.7,205.0 C508.9,203.8 509.4,207.2 509.7,210.0 C509.9,212.8 510.6,224.9 510.7,227.0" fill="none" stroke="#1e92f6" stroke-width="1.0" stroke-linejoin="round" stroke-linecap="round"/>
<path d="M57.1,225.2 C57.0,226.0 56.9,228.1 56.8,230.0 C56.7,231.9 56.5,234.2 56.6,236.0 C56.7,237.8 57.2,239.2 57.6,240.5 C58.0,241.8 58.5,242.7 59.0,243.5 C59.5,244.3 60.2,245.5 60.7,245.2 C61.2,244.9 61.5,243.8 62.0,242.0 C62.5,240.2 62.9,237.0 63.4,235.0 C63.9,233.0 64.3,231.0 64.8,230.8 C65.3,230.6 65.6,232.0 66.0,234.0 C66.4,236.0 66.8,239.1 67.3,242.0 C67.8,244.9 68.4,249.8 68.9,250.5 C69.4,251.2 69.8,248.5 70.2,246.0 C70.6,243.5 70.8,238.7 71.0,236.0 C71.2,233.3 71.3,230.6 71.5,230.8 C71.7,231.0 71.9,234.5 72.1,237.0 C72.3,239.5 72.5,243.6 72.6,245.0" fill="none" stroke="#000" stroke-width="1.55" stroke-linejoin="round" stroke-linecap="round"/>
<path d="M77.6,235.1 C77.7,236.8 77.9,241.7 78.2,244.6 C78.5,247.5 78.9,250.2 79.3,251.8 C79.7,253.4 80.0,253.0 80.5,253.5 C81.0,254.0 81.7,254.6 82.3,254.7 C82.9,254.8 83.5,253.7 84.0,254.0 C84.5,254.3 84.9,255.6 85.3,256.5 C85.7,257.4 86.1,257.9 86.5,258.9 C86.9,259.9 87.3,261.2 87.7,262.4 C88.1,263.6 88.4,265.8 88.8,266.0 C89.2,266.2 89.6,265.7 90.0,263.6 C90.4,261.5 90.9,256.5 91.2,254.0 C91.5,251.5 91.6,249.8 91.8,249.4 C92.0,249.0 92.1,249.7 92.4,251.8 C92.7,253.9 93.2,258.8 93.6,261.3 C94.0,263.8 94.6,265.2 94.8,266.0" fill="none" stroke="#000" stroke-width="1.55" stroke-linejoin="round" stroke-linecap="round"/>
<path d="M101.0,265.0 C101.2,265.5 101.7,267.2 102.0,268.0 C102.3,268.8 102.5,270.1 102.8,269.4 C103.1,268.7 103.3,266.1 103.6,264.0 C103.9,261.9 104.2,259.6 104.5,257.3 C104.8,255.0 105.0,252.5 105.2,251.0 C105.4,249.5 105.6,248.3 105.8,248.7 C106.0,249.0 106.3,250.7 106.6,253.0 C106.9,255.3 107.2,259.5 107.5,261.6 C107.8,263.7 108.2,264.5 108.4,265.1" fill="none" stroke="#000" stroke-width="1.55" stroke-linejoin="round" stroke-linecap="round"/>
<path d="M128.4,71.1 C128.7,71.6 129.6,73.0 130.1,74.2 C130.6,75.4 131.2,77.1 131.5,78.2 C131.8,79.3 131.7,80.2 131.9,80.3 C132.1,80.4 132.5,79.5 132.8,78.9 C133.1,78.3 133.3,75.6 133.5,77.0 C133.7,78.4 133.9,83.7 134.2,87.0 C134.5,90.3 134.9,93.7 135.1,96.0 C135.3,98.3 135.2,98.4 135.4,100.0 C135.6,101.6 135.8,103.3 136.1,105.4 C136.4,107.5 137.1,110.3 137.4,112.2 C137.8,114.1 137.9,114.8 138.1,116.2 C138.3,117.6 138.6,119.7 138.8,120.3 C139.0,120.9 139.2,120.4 139.5,119.6 C139.8,118.8 140.2,115.6 140.5,115.5 C140.8,115.4 140.9,117.1 141.1,118.9 C141.3,120.7 141.6,123.1 141.9,125.7 C142.2,128.3 142.5,131.4 142.8,133.8 C143.1,136.2 143.1,137.6 143.5,139.2 C143.9,140.8 144.6,142.4 144.9,143.2 C145.2,144.0 145.3,144.4 145.5,143.9 C145.7,143.4 145.9,143.1 146.2,140.5 C146.5,137.9 147.0,130.5 147.3,129.1 C147.7,127.7 147.9,130.6 148.2,132.4 C148.5,134.2 148.7,136.8 148.9,139.2 C149.1,141.6 149.4,144.1 149.6,146.0 C149.8,147.9 150.0,148.3 150.3,150.0 C150.6,151.7 151.0,154.7 151.4,155.9 C151.8,157.1 152.1,158.0 152.4,156.9 C152.8,155.8 153.1,151.3 153.4,149.8 C153.8,148.3 154.1,147.4 154.4,148.5 C154.8,149.6 155.1,153.9 155.4,155.9 C155.8,157.9 156.1,158.8 156.4,160.0 C156.8,161.2 157.2,162.5 157.4,163.0" fill="none" stroke="#000" stroke-width="1.55" stroke-linejoin="round" stroke-linecap="round"/>
<path d="M170.5,182.2 C170.7,182.6 171.3,183.8 171.7,184.6 C172.1,185.4 172.6,186.8 172.9,187.0 C173.2,187.2 173.2,187.2 173.5,185.8 C173.8,184.4 174.4,180.4 174.7,179.1 C175.0,177.8 175.0,176.9 175.3,178.5 C175.6,180.1 176.1,185.4 176.5,188.2 C176.9,191.0 177.4,192.6 177.8,194.3 C178.2,196.0 178.7,196.6 179.0,197.9 C179.3,199.2 179.4,201.4 179.6,201.6 C179.8,201.8 180.0,200.2 180.2,199.2 C180.4,198.2 180.6,196.3 180.8,196.1 C181.0,195.9 181.3,197.6 181.4,197.9" fill="none" stroke="#000" stroke-width="1.55" stroke-linejoin="round" stroke-linecap="round"/>
<path d="M183.8,201.6 L185.0,204.0" fill="none" stroke="#000" stroke-width="1.55" stroke-linejoin="round" stroke-linecap="round"/>
<path d="M188.7,190.7 C188.8,192.0 189.1,195.5 189.3,198.0 C189.5,200.5 189.7,203.7 189.9,205.2 C190.1,206.7 190.4,206.3 190.5,206.5" fill="none" stroke="#000" stroke-width="1.55" stroke-linejoin="round" stroke-linecap="round"/>
<path d="M205.2,229.9 C205.3,230.7 205.7,234.5 206.0,234.3 C206.3,234.1 206.6,230.8 207.0,229.0 C207.4,227.2 207.7,225.4 208.2,223.9 C208.7,222.4 209.2,219.8 209.7,220.2 C210.2,220.6 210.5,223.3 211.0,226.0 C211.5,228.7 212.2,233.7 212.7,235.8 C213.2,237.9 213.7,238.7 214.1,238.0 C214.5,237.3 214.8,233.9 215.2,232.0 C215.6,230.1 215.9,228.1 216.4,226.9 C216.9,225.7 217.4,224.1 217.9,225.4 C218.4,226.7 218.8,231.3 219.3,234.3 C219.8,237.3 220.4,240.8 220.8,242.5 C221.2,244.2 221.2,244.6 221.6,244.0 C222.0,243.4 222.5,241.0 223.0,238.8 C223.5,236.6 224.0,231.8 224.5,231.3 C225.0,230.8 225.5,233.5 226.0,235.8 C226.5,238.1 227.0,242.7 227.5,244.7 C228.0,246.7 228.7,246.6 229.0,247.0" fill="none" stroke="#000" stroke-width="1.55" stroke-linejoin="round" stroke-linecap="round"/>
<path d="M246.5,255.5 L248.7,261.4" fill="none" stroke="#000" stroke-width="1.55" stroke-linejoin="round" stroke-linecap="round"/>
<path d="M254.6,263.6 C254.7,264.1 255.0,268.2 255.4,266.6 C255.8,265.0 256.4,259.1 256.9,254.7 C257.4,250.3 257.9,244.0 258.3,241.3 C258.7,238.6 258.8,238.6 259.1,239.1 C259.4,239.6 259.5,241.6 259.8,244.3 C260.1,247.0 260.3,251.3 260.6,254.7 C260.9,258.1 260.9,261.1 261.3,263.6 C261.7,266.1 262.4,268.3 262.8,268.8 C263.2,269.3 263.2,268.0 263.5,266.6 C263.8,265.2 264.0,262.1 264.3,260.7 C264.6,259.3 264.9,258.8 265.0,258.4" fill="none" stroke="#000" stroke-width="1.55" stroke-linejoin="round" stroke-linecap="round"/>
<path d="M302.2,268.2 C302.4,268.8 302.9,270.5 303.3,271.5 C303.7,272.5 303.9,274.5 304.3,273.9 C304.7,273.3 304.9,270.1 305.3,268.0 C305.7,265.9 306.1,263.1 306.3,262.1" fill="none" stroke="#000" stroke-width="1.55" stroke-linejoin="round" stroke-linecap="round"/>
<path d="M309.1,265.8 C309.3,266.4 309.6,268.0 310.0,269.0 C310.4,270.0 310.7,272.4 311.1,271.5 C311.5,270.6 311.8,266.9 312.2,264.0 C312.6,261.1 312.9,258.3 313.2,255.0 C313.5,251.7 313.5,247.9 313.7,245.0 C313.9,242.1 314.0,238.7 314.2,238.5 C314.4,238.3 314.7,240.8 315.0,244.0 C315.3,247.2 315.6,253.2 316.0,257.0 C316.4,260.9 316.7,263.4 317.0,266.0 C317.3,268.6 317.3,270.8 317.6,271.9 C317.9,273.0 318.6,272.9 318.9,272.3 C319.2,271.7 319.2,272.0 319.5,268.4 C319.8,264.8 320.4,256.1 320.8,251.5 C321.2,247.0 321.3,243.5 321.5,242.4 C321.7,241.3 321.9,242.3 322.1,245.0 C322.3,247.7 322.6,253.9 322.8,258.0 C323.0,262.1 323.3,266.6 323.4,268.4" fill="none" stroke="#000" stroke-width="1.55" stroke-linejoin="round" stroke-linecap="round"/>
<path d="M385.5,74.8 C385.9,75.2 387.1,77.0 387.8,77.1 C388.5,77.2 388.9,76.1 389.3,75.6 C389.7,75.1 389.7,73.4 390.0,74.2 C390.3,75.0 390.5,77.7 390.8,80.1 C391.1,82.5 391.3,85.0 391.6,87.7 C391.9,90.4 392.0,92.7 392.3,95.3 C392.6,97.9 393.0,100.7 393.4,102.8 C393.8,104.9 394.2,106.2 394.6,107.4 C395.0,108.6 395.3,111.3 395.8,109.7 C396.3,108.1 396.9,99.5 397.3,98.3 C397.7,97.1 397.8,100.7 398.1,102.8 C398.4,104.9 398.9,108.3 399.2,110.4 C399.5,112.5 399.6,113.7 399.9,115.0 C400.2,116.3 400.6,117.3 401.0,118.0 C401.4,118.7 401.8,119.2 402.2,118.8 C402.6,118.4 403.0,115.8 403.4,115.7 C403.8,115.6 404.2,117.1 404.5,118.0 C404.8,118.9 404.9,119.3 405.2,121.0 C405.5,122.7 405.6,125.3 406.0,127.6 C406.4,129.9 407.2,132.0 407.6,134.0 C408.0,136.0 408.1,137.8 408.4,138.9 C408.7,140.0 408.8,142.8 409.2,140.5 C409.6,138.2 410.4,128.0 410.8,125.9 C411.2,123.8 411.3,127.0 411.6,128.4 C411.9,129.8 412.1,131.6 412.4,134.0 C412.7,136.4 413.0,140.0 413.3,142.1 C413.6,144.2 414.0,145.5 414.1,146.2" fill="none" stroke="#000" stroke-width="1.55" stroke-linejoin="round" stroke-linecap="round"/>
<path d="M434.1,182.4 C434.3,182.8 435.0,183.6 435.4,184.5 C435.8,185.4 435.8,187.8 436.1,187.8 C436.5,187.8 437.0,185.3 437.4,184.5 C437.8,183.7 438.0,183.3 438.1,183.1" fill="none" stroke="#000" stroke-width="1.55" stroke-linejoin="round" stroke-linecap="round"/>
<path d="M441.2,192.2 C441.4,192.7 442.1,195.4 442.5,195.0 C442.9,194.6 443.2,191.9 443.6,190.0 C444.0,188.1 444.5,184.3 445.0,184.0 C445.5,183.7 445.8,185.6 446.3,188.0 C446.8,190.4 447.5,194.8 448.0,198.0 C448.5,201.2 449.0,203.8 449.4,206.0 C449.8,208.2 450.0,211.6 450.3,210.5 C450.6,209.4 450.9,203.5 451.2,200.0 C451.5,196.5 451.8,191.4 452.2,190.5 C452.6,189.6 453.0,192.3 453.5,195.0 C454.0,197.7 454.6,202.6 455.2,206.0 C455.8,209.4 456.3,212.3 456.8,214.5 C457.3,216.7 457.4,219.8 457.8,218.3 C458.2,216.8 458.5,209.9 458.8,206.0 C459.1,202.1 459.3,196.9 459.7,196.0 C460.1,195.1 460.5,198.4 461.0,201.0 C461.5,203.6 462.1,207.5 462.6,211.0 C463.1,214.5 463.6,218.5 464.0,221.0 C464.4,223.5 464.5,227.1 464.8,225.5 C465.1,223.9 465.4,216.6 465.8,212.0 C466.2,207.4 466.5,200.7 466.9,199.5 C467.3,198.3 467.7,201.9 468.2,205.0 C468.7,208.1 469.2,213.1 469.8,217.0 C470.4,220.9 471.1,225.7 471.4,227.5" fill="none" stroke="#000" stroke-width="1.55" stroke-linejoin="round" stroke-linecap="round"/>
<path d="M476.4,233.5 C476.6,234.0 477.2,238.5 477.7,236.5 C478.2,234.5 478.8,225.9 479.2,222.0 C479.6,218.1 479.8,214.7 480.2,214.0 C480.6,213.3 481.0,215.4 481.5,218.0 C482.0,220.6 482.5,225.2 483.0,229.0 C483.5,232.8 484.2,238.0 484.6,240.0 C485.0,242.0 485.0,241.9 485.3,240.5 C485.6,239.1 486.1,235.0 486.5,232.0 C486.9,229.0 487.3,225.2 487.6,223.5 C487.9,221.8 488.0,221.7 488.3,222.5 C488.6,223.3 489.0,224.6 489.5,228.0 C490.0,231.4 490.5,238.5 491.0,242.0 C491.5,245.5 491.9,247.7 492.3,248.0 C492.7,248.3 493.0,246.4 493.4,244.0 C493.8,241.6 494.2,236.4 494.6,234.0 C495.0,231.6 495.1,229.8 495.5,230.5 C495.9,231.2 496.5,235.2 497.0,238.0 C497.5,240.8 498.1,244.5 498.5,246.5 C498.9,248.5 499.1,249.9 499.5,249.5 C499.9,249.1 500.1,246.5 500.5,244.0 C500.9,241.5 501.2,237.4 501.5,235.0 C501.8,232.6 501.9,229.8 502.3,230.5 C502.7,231.2 503.0,235.5 503.5,239.0 C504.0,242.5 504.6,248.0 505.0,250.5 C505.4,253.0 505.4,254.3 505.8,253.5 C506.2,252.7 506.6,248.7 507.0,246.0 C507.4,243.3 507.8,239.4 508.0,238.0" fill="none" stroke="#000" stroke-width="1.55" stroke-linejoin="round" stroke-linecap="round"/>
<g stroke="#000" stroke-width="1.3"><rect x="52.7" y="22.4" width="458.0" height="285.2" fill="none" stroke="#000" stroke-width="1.3"/><line x1="52.8" y1="307.6" x2="52.8" y2="311.2"/><line x1="52.8" y1="22.4" x2="52.8" y2="25.6"/><line x1="108.3" y1="307.6" x2="108.3" y2="311.2"/><line x1="108.3" y1="22.4" x2="108.3" y2="25.6"/><line x1="163.8" y1="307.6" x2="163.8" y2="311.2"/><line x1="163.8" y1="22.4" x2="163.8" y2="25.6"/><line x1="219.4" y1="307.6" x2="219.4" y2="311.2"/><line x1="219.4" y1="22.4" x2="219.4" y2="25.6"/><line x1="274.9" y1="307.6" x2="274.9" y2="311.2"/><line x1="274.9" y1="22.4" x2="274.9" y2="25.6"/><line x1="330.4" y1="307.6" x2="330.4" y2="311.2"/><line x1="330.4" y1="22.4" x2="330.4" y2="25.6"/><line x1="385.9" y1="307.6" x2="385.9" y2="311.2"/><line x1="385.9" y1="22.4" x2="385.9" y2="25.6"/><line x1="441.4" y1="307.6" x2="441.4" y2="311.2"/><line x1="441.4" y1="22.4" x2="441.4" y2="25.6"/><line x1="497.0" y1="307.6" x2="497.0" y2="311.2"/><line x1="497.0" y1="22.4" x2="497.0" y2="25.6"/><line x1="80.6" y1="307.6" x2="80.6" y2="309.6"/><line x1="80.6" y1="22.4" x2="80.6" y2="24.4"/><line x1="136.1" y1="307.6" x2="136.1" y2="309.6"/><line x1="136.1" y1="22.4" x2="136.1" y2="24.4"/><line x1="191.6" y1="307.6" x2="191.6" y2="309.6"/><line x1="191.6" y1="22.4" x2="191.6" y2="24.4"/><line x1="247.1" y1="307.6" x2="247.1" y2="309.6"/><line x1="247.1" y1="22.4" x2="247.1" y2="24.4"/><line x1="302.6" y1="307.6" x2="302.6" y2="309.6"/><line x1="302.6" y1="22.4" x2="302.6" y2="24.4"/><line x1="358.2" y1="307.6" x2="358.2" y2="309.6"/><line x1="358.2" y1="22.4" x2="358.2" y2="24.4"/><line x1="413.7" y1="307.6" x2="413.7" y2="309.6"/><line x1="413.7" y1="22.4" x2="413.7" y2="24.4"/><line x1="469.2" y1="307.6" x2="469.2" y2="309.6"/><line x1="469.2" y1="22.4" x2="469.2" y2="24.4"/><line x1="48.9" y1="285.7" x2="52.7" y2="285.7"/><line x1="48.9" y1="241.8" x2="52.7" y2="241.8"/><line x1="48.9" y1="197.9" x2="52.7" y2="197.9"/><line x1="48.9" y1="154.0" x2="52.7" y2="154.0"/><line x1="48.9" y1="110.2" x2="52.7" y2="110.2"/><line x1="48.9" y1="66.3" x2="52.7" y2="66.3"/><line x1="48.9" y1="22.4" x2="52.7" y2="22.4"/><line x1="50.7" y1="307.6" x2="52.7" y2="307.6"/><line x1="50.7" y1="263.7" x2="52.7" y2="263.7"/><line x1="50.7" y1="219.8" x2="52.7" y2="219.8"/><line x1="50.7" y1="176.0" x2="52.7" y2="176.0"/><line x1="50.7" y1="132.1" x2="52.7" y2="132.1"/><line x1="50.7" y1="88.2" x2="52.7" y2="88.2"/><line x1="50.7" y1="44.3" x2="52.7" y2="44.3"/><line x1="507.2" y1="22.4" x2="510.7" y2="22.4"/><line x1="507.2" y1="58.1" x2="510.7" y2="58.1"/><line x1="507.2" y1="93.7" x2="510.7" y2="93.7"/><line x1="507.2" y1="129.4" x2="510.7" y2="129.4"/><line x1="507.2" y1="165.0" x2="510.7" y2="165.0"/><line x1="507.2" y1="200.7" x2="510.7" y2="200.7"/><line x1="507.2" y1="236.3" x2="510.7" y2="236.3"/><line x1="507.2" y1="272.0" x2="510.7" y2="272.0"/><line x1="507.2" y1="307.6" x2="510.7" y2="307.6"/><line x1="508.7" y1="40.2" x2="510.7" y2="40.2"/><line x1="508.7" y1="75.9" x2="510.7" y2="75.9"/><line x1="508.7" y1="111.5" x2="510.7" y2="111.5"/><line x1="508.7" y1="147.2" x2="510.7" y2="147.2"/><line x1="508.7" y1="182.8" x2="510.7" y2="182.8"/><line x1="508.7" y1="218.5" x2="510.7" y2="218.5"/><line x1="508.7" y1="254.1" x2="510.7" y2="254.1"/><line x1="508.7" y1="289.8" x2="510.7" y2="289.8"/></g>
<g style="font-family:'Liberation Serif','Times New Roman',serif" font-size="12.4" fill="#000"><text x="52.8" y="14.7" text-anchor="middle">3/27</text><text x="52.8" y="323.9" text-anchor="middle">3/27</text><text x="108.3" y="14.7" text-anchor="middle">4/4</text><text x="108.3" y="323.9" text-anchor="middle">4/4</text><text x="163.8" y="14.7" text-anchor="middle">4/12</text><text x="163.8" y="323.9" text-anchor="middle">4/12</text><text x="219.4" y="14.7" text-anchor="middle">4/20</text><text x="219.4" y="323.9" text-anchor="middle">4/20</text><text x="274.9" y="14.7" text-anchor="middle">4/28</text><text x="274.9" y="323.9" text-anchor="middle">4/28</text><text x="330.4" y="14.7" text-anchor="middle">5/6</text><text x="330.4" y="323.9" text-anchor="middle">5/6</text><text x="385.9" y="14.7" text-anchor="middle">5/14</text><text x="385.9" y="323.9" text-anchor="middle">5/14</text><text x="441.4" y="14.7" text-anchor="middle">5/22</text><text x="441.4" y="323.9" text-anchor="middle">5/22</text><text x="497.0" y="14.7" text-anchor="middle">5/30</text><text x="497.0" y="323.9" text-anchor="middle">5/30</text><text x="45.8" y="289.7" text-anchor="end">0.10</text><text x="45.8" y="245.8" text-anchor="end">0.12</text><text x="45.8" y="201.9" text-anchor="end">0.14</text><text x="45.8" y="158.0" text-anchor="end">0.16</text><text x="45.8" y="114.2" text-anchor="end">0.18</text><text x="45.8" y="70.3" text-anchor="end">0.20</text><text x="45.8" y="26.4" text-anchor="end">0.22</text><text x="515.0" y="26.4">0</text><text x="515.0" y="62.1">5</text><text x="515.0" y="97.7">10</text><text x="515.0" y="133.4">15</text><text x="515.0" y="169.0">20</text><text x="515.0" y="204.7">25</text><text x="515.0" y="240.3">30</text><text x="515.0" y="276.0">35</text><text x="515.0" y="311.6">40</text><text x="282" y="339.7" text-anchor="middle" font-size="12.3">Day of 2016</text><text transform="translate(16.9,169.5) rotate(-90)" text-anchor="middle" font-size="12.5">Soil Moisture(m<tspan dy="-4.5" font-size="8.5">3</tspan><tspan dy="4.5">/m</tspan><tspan dy="-4.5" font-size="8.5">3</tspan><tspan dy="4.5">)</tspan></text><text transform="translate(540.3,159.8) rotate(-90)" text-anchor="middle" font-size="11">precipitation(mm)</text></g>
<g style="font-family:'Liberation Serif','Times New Roman',serif" font-size="12.4" fill="#000"><rect x="26.7" y="348.4" width="498.8" height="18.3" fill="#fff" stroke="#d8d8d8" stroke-width="1"/><circle cx="35.7" cy="357.6" r="1.9" fill="#33f033"/><text x="42.6" y="361.6">Rrl as input</text><circle cx="113.6" cy="357.6" r="1.9" fill="#e466f6"/><text x="120.6" y="361.6">Rrl, TR as input</text><circle cx="213.5" cy="357.6" r="1.9" fill="#ff6a72"/><text x="220.3" y="361.6">Rrl, TB as input</text><circle cx="313.2" cy="357.6" r="1.9" fill="#1e92f6"/><text x="319.6" y="361.6">Rrl, TB and TR as input</text><circle cx="452.8" cy="357.6" r="1.9" fill="#000"/><text x="459.8" y="361.6"><tspan font-style="italic">In</tspan>-situ Probe</text></g>
</svg></body></html>
